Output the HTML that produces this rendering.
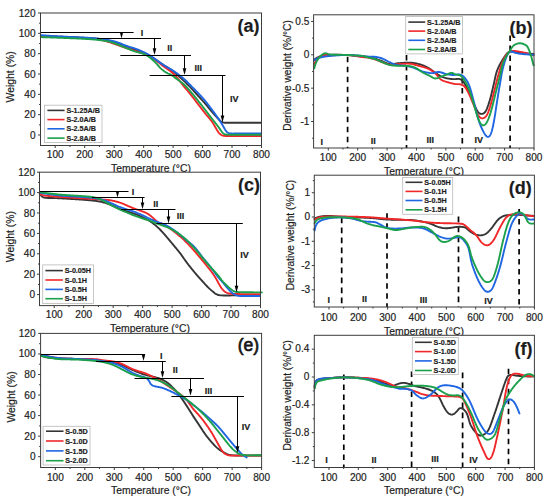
<!DOCTYPE html>
<html><head><meta charset="utf-8"><style>
html,body{margin:0;padding:0;background:#fff;}
svg{display:block;font-family:"Liberation Sans",sans-serif;}
text{fill:#1c1c1c;stroke:#1c1c1c;stroke-width:0.18px;}
</style></head><body>
<svg width="550" height="503" viewBox="0 0 550 503">
<rect width="550" height="503" fill="#fff"/>
<text x="14.00" y="76.80" font-size="10.40" text-anchor="middle" font-weight="normal" transform="rotate(-90 14.00 76.80)">Weight (%)</text>
<text x="14.00" y="236.60" font-size="10.40" text-anchor="middle" font-weight="normal" transform="rotate(-90 14.00 236.60)">Weight (%)</text>
<text x="15.00" y="397.00" font-size="10.40" text-anchor="middle" font-weight="normal" transform="rotate(-90 15.00 397.00)">Weight (%)</text>
<text x="290.80" y="75.40" font-size="10.20" text-anchor="middle" font-weight="normal" transform="rotate(-90 290.80 75.40)">Derivative weight (%/&#176;C)</text>
<text x="293.60" y="235.10" font-size="10.20" text-anchor="middle" font-weight="normal" transform="rotate(-90 293.60 235.10)">Derivative weight (%/&#176;C)</text>
<text x="290.80" y="395.30" font-size="10.20" text-anchor="middle" font-weight="normal" transform="rotate(-90 290.80 395.30)">Derivative weight (%/&#176;C)</text>
<text x="151.00" y="171.90" font-size="10.40" text-anchor="middle" font-weight="normal" >Temperature (&#176;C)</text>
<text x="150.00" y="331.60" font-size="10.40" text-anchor="middle" font-weight="normal" >Temperature (&#176;C)</text>
<text x="151.00" y="494.40" font-size="10.40" text-anchor="middle" font-weight="normal" >Temperature (&#176;C)</text>
<text x="424.00" y="174.50" font-size="10.40" text-anchor="middle" font-weight="normal" >Temperature (&#176;C)</text>
<text x="424.00" y="334.50" font-size="10.40" text-anchor="middle" font-weight="normal" >Temperature (&#176;C)</text>
<text x="424.00" y="494.40" font-size="10.40" text-anchor="middle" font-weight="normal" >Temperature (&#176;C)</text>
<rect x="40.50" y="13.00" width="221.00" height="132.50" fill="#fff"/>
<rect x="313.60" y="14.80" width="220.40" height="133.20" fill="#fff"/>
<rect x="39.50" y="172.20" width="221.00" height="133.40" fill="#fff"/>
<rect x="314.30" y="175.20" width="220.10" height="131.80" fill="#fff"/>
<rect x="40.60" y="333.40" width="221.00" height="134.10" fill="#fff"/>
<rect x="314.30" y="335.30" width="220.10" height="132.20" fill="#fff"/>
<path d="M40.80,35.80 L41.55,35.84 L42.30,35.88 L43.05,35.91 L43.80,35.95 L44.55,35.99 L45.29,36.03 L46.04,36.07 L46.79,36.10 L47.54,36.14 L48.29,36.18 L49.04,36.22 L49.79,36.25 L50.54,36.29 L51.29,36.33 L52.04,36.36 L52.79,36.40 L53.53,36.43 L54.28,36.47 L55.03,36.50 L55.78,36.53 L56.53,36.56 L57.28,36.59 L58.03,36.62 L58.78,36.65 L59.53,36.68 L60.28,36.71 L61.03,36.73 L61.78,36.76 L62.53,36.79 L63.28,36.82 L64.03,36.84 L64.78,36.87 L65.53,36.90 L66.27,36.93 L67.02,36.96 L67.77,36.99 L68.52,37.03 L69.27,37.06 L70.02,37.09 L70.77,37.13 L71.52,37.17 L72.27,37.20 L73.02,37.24 L73.77,37.28 L74.52,37.32 L75.26,37.36 L76.01,37.39 L76.76,37.43 L77.51,37.47 L78.26,37.51 L79.01,37.55 L79.76,37.59 L80.51,37.62 L81.26,37.66 L82.01,37.70 L82.75,37.73 L83.50,37.77 L84.25,37.81 L85.00,37.84 L85.75,37.88 L86.50,37.92 L87.25,37.95 L88.00,37.99 L88.75,38.03 L89.50,38.08 L90.24,38.12 L90.99,38.17 L91.74,38.22 L92.49,38.28 L93.24,38.34 L93.98,38.41 L94.73,38.48 L95.48,38.56 L96.22,38.64 L96.97,38.72 L97.71,38.81 L98.46,38.90 L99.20,38.99 L99.94,39.08 L100.69,39.18 L101.43,39.29 L102.17,39.39 L102.91,39.51 L103.65,39.62 L104.40,39.74 L105.13,39.87 L105.87,40.00 L106.61,40.13 L107.35,40.27 L108.08,40.42 L108.82,40.57 L109.55,40.73 L110.28,40.89 L111.01,41.06 L111.74,41.23 L112.47,41.41 L113.20,41.59 L113.92,41.78 L114.65,41.98 L115.37,42.19 L116.08,42.41 L116.80,42.63 L117.51,42.87 L118.22,43.12 L118.92,43.37 L119.62,43.64 L120.32,43.91 L121.02,44.18 L121.72,44.46 L122.42,44.73 L123.11,45.01 L123.81,45.28 L124.51,45.56 L125.21,45.83 L125.91,46.10 L126.61,46.37 L127.31,46.64 L128.01,46.91 L128.71,47.18 L129.41,47.45 L130.11,47.71 L130.81,47.97 L131.52,48.23 L132.22,48.49 L132.93,48.74 L133.63,48.99 L134.34,49.24 L135.05,49.48 L135.76,49.73 L136.47,49.97 L137.18,50.21 L137.89,50.45 L138.60,50.69 L139.31,50.93 L140.02,51.17 L140.73,51.43 L141.43,51.69 L142.12,51.97 L142.81,52.26 L143.50,52.57 L144.18,52.88 L144.86,53.20 L145.53,53.53 L146.20,53.86 L146.87,54.20 L147.53,54.55 L148.19,54.90 L148.85,55.27 L149.50,55.64 L150.15,56.02 L150.79,56.41 L151.42,56.81 L152.05,57.21 L152.68,57.62 L153.31,58.04 L153.93,58.45 L154.55,58.87 L155.17,59.29 L155.79,59.72 L156.41,60.14 L157.03,60.56 L157.65,60.98 L158.27,61.41 L158.89,61.83 L159.50,62.26 L160.12,62.69 L160.74,63.11 L161.35,63.54 L161.97,63.96 L162.60,64.38 L163.22,64.80 L163.85,65.21 L164.48,65.61 L165.11,66.01 L165.75,66.41 L166.39,66.80 L167.03,67.18 L167.68,67.57 L168.32,67.96 L168.96,68.35 L169.59,68.75 L170.22,69.15 L170.84,69.57 L171.46,70.00 L172.06,70.44 L172.66,70.90 L173.25,71.36 L173.83,71.84 L174.40,72.32 L174.97,72.81 L175.53,73.30 L176.09,73.80 L176.66,74.29 L177.22,74.79 L177.78,75.29 L178.34,75.79 L178.89,76.29 L179.45,76.79 L180.01,77.30 L180.56,77.80 L181.11,78.31 L181.67,78.82 L182.22,79.33 L182.76,79.84 L183.31,80.35 L183.86,80.87 L184.40,81.38 L184.94,81.90 L185.49,82.42 L186.03,82.94 L186.57,83.46 L187.10,83.98 L187.64,84.51 L188.17,85.04 L188.70,85.57 L189.23,86.10 L189.76,86.63 L190.28,87.17 L190.80,87.71 L191.31,88.26 L191.82,88.81 L192.33,89.36 L192.83,89.91 L193.34,90.47 L193.84,91.03 L194.33,91.59 L194.83,92.15 L195.33,92.72 L195.82,93.28 L196.32,93.84 L196.82,94.40 L197.32,94.96 L197.83,95.51 L198.33,96.07 L198.84,96.62 L199.35,97.17 L199.86,97.72 L200.37,98.27 L200.88,98.81 L201.39,99.36 L201.90,99.91 L202.41,100.46 L202.92,101.02 L203.42,101.57 L203.92,102.13 L204.42,102.69 L204.91,103.26 L205.40,103.83 L205.89,104.40 L206.37,104.97 L206.84,105.55 L207.32,106.13 L207.79,106.71 L208.27,107.30 L208.74,107.88 L209.21,108.46 L209.68,109.04 L210.16,109.62 L210.63,110.20 L211.11,110.78 L211.60,111.36 L212.08,111.93 L212.57,112.50 L213.06,113.06 L213.55,113.63 L214.05,114.19 L214.55,114.75 L215.05,115.31 L215.55,115.87 L216.05,116.42 L216.56,116.98 L217.06,117.53 L217.56,118.09 L218.07,118.64 L218.58,119.19 L219.10,119.73 L219.63,120.26 L220.18,120.76 L220.75,121.23 L221.34,121.65 L221.97,122.01 L222.63,122.29 L223.32,122.50 L224.03,122.64 L224.76,122.73 L225.50,122.77 L226.24,122.79 L226.99,122.80 L227.74,122.81 L228.49,122.81 L229.24,122.81 L229.99,122.81 L230.74,122.81 L231.49,122.81 L232.24,122.81 L232.99,122.81 L233.74,122.81 L234.49,122.81 L235.24,122.81 L235.99,122.80 L236.74,122.80 L237.49,122.80 L238.24,122.80 L238.99,122.80 L239.74,122.80 L240.49,122.80 L241.24,122.80 L241.99,122.80 L242.74,122.80 L243.49,122.80 L244.24,122.80 L244.99,122.80 L245.74,122.80 L246.49,122.80 L247.24,122.80 L247.99,122.80 L248.74,122.80 L249.49,122.80 L250.24,122.80 L250.99,122.80 L251.74,122.80 L252.49,122.80 L253.24,122.80 L253.99,122.80 L254.74,122.80 L255.49,122.80 L256.24,122.80 L256.99,122.80 L257.74,122.80 L258.49,122.80 L259.24,122.80 L259.99,122.80 L260.74,122.80 L260.99,122.80" fill="none" stroke="#353535" stroke-width="1.90" stroke-linejoin="round" stroke-linecap="round"/>
<path d="M40.80,36.10 L41.55,36.14 L42.30,36.18 L43.05,36.21 L43.80,36.25 L44.55,36.29 L45.29,36.33 L46.04,36.37 L46.79,36.40 L47.54,36.44 L48.29,36.48 L49.04,36.52 L49.79,36.55 L50.54,36.59 L51.29,36.63 L52.04,36.66 L52.79,36.70 L53.53,36.73 L54.28,36.77 L55.03,36.80 L55.78,36.83 L56.53,36.86 L57.28,36.89 L58.03,36.92 L58.78,36.95 L59.53,36.98 L60.28,37.01 L61.03,37.03 L61.78,37.06 L62.53,37.09 L63.28,37.12 L64.03,37.14 L64.78,37.17 L65.53,37.20 L66.27,37.23 L67.02,37.26 L67.77,37.29 L68.52,37.33 L69.27,37.36 L70.02,37.39 L70.77,37.43 L71.52,37.47 L72.27,37.50 L73.02,37.54 L73.77,37.58 L74.52,37.62 L75.26,37.66 L76.01,37.69 L76.76,37.73 L77.51,37.77 L78.26,37.81 L79.01,37.85 L79.76,37.89 L80.51,37.92 L81.26,37.96 L82.01,38.00 L82.75,38.03 L83.50,38.07 L84.25,38.11 L85.00,38.14 L85.75,38.18 L86.50,38.22 L87.25,38.25 L88.00,38.29 L88.75,38.33 L89.50,38.37 L90.24,38.42 L90.99,38.46 L91.74,38.51 L92.49,38.57 L93.24,38.63 L93.98,38.71 L94.72,38.80 L95.47,38.90 L96.21,39.01 L96.95,39.13 L97.69,39.26 L98.42,39.40 L99.16,39.54 L99.90,39.69 L100.63,39.84 L101.36,40.01 L102.09,40.17 L102.82,40.34 L103.55,40.52 L104.28,40.71 L105.00,40.90 L105.73,41.09 L106.45,41.30 L107.17,41.50 L107.89,41.72 L108.60,41.94 L109.32,42.16 L110.03,42.39 L110.75,42.63 L111.45,42.87 L112.16,43.12 L112.87,43.37 L113.57,43.63 L114.28,43.88 L114.98,44.14 L115.69,44.40 L116.39,44.65 L117.10,44.91 L117.80,45.16 L118.51,45.42 L119.21,45.68 L119.92,45.93 L120.62,46.19 L121.33,46.44 L122.04,46.69 L122.75,46.93 L123.46,47.17 L124.17,47.41 L124.88,47.65 L125.59,47.88 L126.31,48.11 L127.02,48.33 L127.74,48.56 L128.45,48.78 L129.17,49.00 L129.89,49.23 L130.60,49.45 L131.32,49.67 L132.04,49.89 L132.75,50.11 L133.47,50.33 L134.19,50.55 L134.91,50.77 L135.62,50.98 L136.34,51.19 L137.06,51.41 L137.78,51.62 L138.50,51.83 L139.22,52.04 L139.94,52.26 L140.65,52.48 L141.37,52.71 L142.08,52.94 L142.79,53.18 L143.50,53.43 L144.21,53.68 L144.91,53.93 L145.61,54.20 L146.31,54.47 L147.00,54.76 L147.69,55.06 L148.36,55.38 L149.03,55.72 L149.69,56.08 L150.34,56.45 L150.98,56.84 L151.61,57.25 L152.23,57.66 L152.85,58.09 L153.46,58.52 L154.06,58.96 L154.67,59.41 L155.27,59.86 L155.87,60.31 L156.47,60.76 L157.06,61.21 L157.66,61.67 L158.25,62.14 L158.83,62.60 L159.42,63.07 L160.00,63.54 L160.59,64.01 L161.17,64.48 L161.76,64.95 L162.34,65.42 L162.93,65.88 L163.53,66.33 L164.13,66.78 L164.74,67.22 L165.35,67.66 L165.96,68.09 L166.58,68.51 L167.20,68.93 L167.83,69.35 L168.45,69.77 L169.06,70.20 L169.67,70.63 L170.27,71.08 L170.87,71.54 L171.45,72.01 L172.02,72.49 L172.58,72.99 L173.13,73.50 L173.67,74.02 L174.20,74.55 L174.72,75.09 L175.23,75.63 L175.74,76.19 L176.23,76.75 L176.73,77.31 L177.21,77.88 L177.69,78.46 L178.17,79.04 L178.64,79.63 L179.10,80.21 L179.56,80.80 L180.02,81.40 L180.48,81.99 L180.94,82.59 L181.39,83.18 L181.85,83.77 L182.31,84.37 L182.77,84.96 L183.24,85.55 L183.70,86.13 L184.18,86.72 L184.65,87.30 L185.13,87.88 L185.61,88.46 L186.09,89.03 L186.57,89.60 L187.05,90.18 L187.54,90.75 L188.02,91.32 L188.50,91.90 L188.98,92.47 L189.46,93.05 L189.94,93.63 L190.41,94.21 L190.88,94.80 L191.35,95.38 L191.81,95.97 L192.28,96.56 L192.74,97.15 L193.19,97.75 L193.65,98.34 L194.11,98.94 L194.56,99.54 L195.01,100.13 L195.47,100.73 L195.92,101.33 L196.37,101.93 L196.83,102.52 L197.28,103.12 L197.74,103.72 L198.19,104.31 L198.65,104.91 L199.10,105.51 L199.56,106.10 L200.01,106.70 L200.46,107.30 L200.92,107.89 L201.37,108.49 L201.83,109.08 L202.29,109.68 L202.75,110.27 L203.21,110.86 L203.67,111.45 L204.13,112.04 L204.60,112.63 L205.07,113.21 L205.55,113.79 L206.03,114.37 L206.51,114.94 L206.99,115.52 L207.48,116.09 L207.97,116.66 L208.46,117.23 L208.94,117.80 L209.42,118.37 L209.90,118.95 L210.37,119.53 L210.84,120.12 L211.29,120.72 L211.73,121.32 L212.16,121.94 L212.58,122.56 L212.98,123.19 L213.38,123.83 L213.76,124.47 L214.14,125.12 L214.52,125.77 L214.89,126.42 L215.26,127.07 L215.63,127.72 L216.01,128.37 L216.38,129.02 L216.76,129.66 L217.15,130.31 L217.55,130.94 L217.96,131.56 L218.39,132.17 L218.85,132.76 L219.33,133.32 L219.85,133.84 L220.40,134.32 L220.98,134.75 L221.60,135.11 L222.25,135.40 L222.93,135.62 L223.63,135.77 L224.35,135.87 L225.09,135.93 L225.83,135.97 L226.58,135.99 L227.33,136.00 L228.08,136.01 L228.83,136.02 L229.58,136.03 L230.33,136.03 L231.08,136.04 L231.83,136.04 L232.58,136.04 L233.33,136.05 L234.08,136.05 L234.83,136.05 L235.58,136.05 L236.33,136.05 L237.08,136.05 L237.83,136.05 L238.58,136.05 L239.33,136.05 L240.08,136.05 L240.83,136.05 L241.58,136.05 L242.33,136.05 L243.08,136.05 L243.83,136.04 L244.58,136.04 L245.33,136.04 L246.08,136.04 L246.83,136.04 L247.58,136.04 L248.33,136.03 L249.08,136.03 L249.83,136.03 L250.58,136.03 L251.33,136.03 L252.08,136.02 L252.83,136.02 L253.58,136.02 L254.33,136.02 L255.08,136.01 L255.83,136.01 L256.58,136.01 L257.33,136.01 L258.08,136.01 L258.83,136.00 L259.58,136.00 L260.33,136.00 L260.82,136.00" fill="none" stroke="#f0282a" stroke-width="1.90" stroke-linejoin="round" stroke-linecap="round"/>
<path d="M40.80,35.10 L41.55,35.16 L42.30,35.22 L43.04,35.28 L43.79,35.34 L44.54,35.40 L45.29,35.47 L46.03,35.53 L46.78,35.59 L47.53,35.65 L48.28,35.71 L49.02,35.76 L49.77,35.82 L50.52,35.88 L51.27,35.94 L52.01,35.99 L52.76,36.04 L53.51,36.10 L54.26,36.15 L55.01,36.19 L55.76,36.24 L56.51,36.28 L57.25,36.32 L58.00,36.36 L58.75,36.40 L59.50,36.43 L60.25,36.47 L61.00,36.50 L61.75,36.53 L62.50,36.57 L63.25,36.60 L64.00,36.63 L64.75,36.66 L65.50,36.69 L66.24,36.72 L66.99,36.76 L67.74,36.79 L68.49,36.83 L69.24,36.86 L69.99,36.90 L70.74,36.93 L71.49,36.97 L72.24,37.01 L72.99,37.05 L73.74,37.08 L74.49,37.12 L75.23,37.16 L75.98,37.20 L76.73,37.24 L77.48,37.27 L78.23,37.31 L78.98,37.35 L79.73,37.39 L80.48,37.42 L81.23,37.46 L81.98,37.50 L82.72,37.53 L83.47,37.57 L84.22,37.60 L84.97,37.64 L85.72,37.68 L86.47,37.71 L87.22,37.75 L87.97,37.79 L88.72,37.83 L89.47,37.88 L90.21,37.92 L90.96,37.97 L91.71,38.02 L92.46,38.08 L93.21,38.14 L93.95,38.21 L94.70,38.28 L95.45,38.35 L96.19,38.42 L96.94,38.49 L97.69,38.57 L98.43,38.65 L99.18,38.73 L99.92,38.82 L100.67,38.90 L101.41,39.00 L102.15,39.09 L102.90,39.20 L103.64,39.30 L104.38,39.41 L105.12,39.53 L105.86,39.65 L106.60,39.77 L107.34,39.90 L108.08,40.04 L108.81,40.18 L109.55,40.32 L110.29,40.48 L111.02,40.63 L111.75,40.79 L112.48,40.96 L113.21,41.13 L113.94,41.32 L114.66,41.51 L115.38,41.71 L116.10,41.93 L116.82,42.15 L117.53,42.39 L118.23,42.65 L118.93,42.91 L119.63,43.18 L120.33,43.46 L121.02,43.75 L121.71,44.03 L122.41,44.31 L123.11,44.59 L123.80,44.86 L124.51,45.13 L125.21,45.39 L125.91,45.64 L126.62,45.89 L127.33,46.14 L128.04,46.38 L128.75,46.62 L129.46,46.86 L130.18,47.08 L130.89,47.30 L131.61,47.51 L132.33,47.71 L133.06,47.90 L133.78,48.10 L134.49,48.32 L135.21,48.55 L135.91,48.79 L136.61,49.06 L137.31,49.33 L138.00,49.62 L138.70,49.91 L139.38,50.20 L140.07,50.50 L140.76,50.81 L141.44,51.12 L142.12,51.43 L142.80,51.74 L143.48,52.06 L144.16,52.39 L144.83,52.72 L145.50,53.05 L146.17,53.39 L146.84,53.73 L147.50,54.09 L148.15,54.45 L148.80,54.83 L149.44,55.21 L150.08,55.61 L150.71,56.01 L151.34,56.42 L151.96,56.85 L152.57,57.27 L153.19,57.71 L153.80,58.14 L154.41,58.58 L155.01,59.02 L155.62,59.45 L156.23,59.89 L156.84,60.33 L157.45,60.76 L158.07,61.20 L158.68,61.63 L159.29,62.07 L159.90,62.50 L160.51,62.93 L161.12,63.37 L161.74,63.79 L162.36,64.22 L162.98,64.64 L163.61,65.05 L164.24,65.46 L164.87,65.86 L165.51,66.25 L166.15,66.64 L166.79,67.03 L167.44,67.41 L168.09,67.78 L168.74,68.16 L169.38,68.53 L170.03,68.91 L170.68,69.28 L171.33,69.66 L171.98,70.03 L172.63,70.41 L173.27,70.80 L173.90,71.20 L174.53,71.62 L175.14,72.04 L175.76,72.47 L176.36,72.91 L176.97,73.36 L177.57,73.80 L178.17,74.26 L178.77,74.71 L179.36,75.16 L179.96,75.62 L180.55,76.08 L181.14,76.55 L181.72,77.02 L182.30,77.49 L182.88,77.97 L183.45,78.45 L184.02,78.94 L184.58,79.44 L185.13,79.95 L185.68,80.46 L186.22,80.98 L186.76,81.50 L187.29,82.03 L187.82,82.56 L188.35,83.09 L188.87,83.63 L189.40,84.16 L189.92,84.70 L190.45,85.23 L190.98,85.77 L191.50,86.30 L192.03,86.83 L192.56,87.36 L193.09,87.89 L193.62,88.42 L194.15,88.96 L194.68,89.49 L195.20,90.02 L195.73,90.56 L196.25,91.10 L196.77,91.64 L197.29,92.18 L197.81,92.72 L198.33,93.26 L198.84,93.81 L199.36,94.35 L199.87,94.90 L200.38,95.45 L200.89,96.00 L201.40,96.55 L201.91,97.10 L202.41,97.66 L202.91,98.22 L203.40,98.79 L203.89,99.35 L204.38,99.92 L204.86,100.50 L205.33,101.08 L205.81,101.66 L206.28,102.25 L206.74,102.84 L207.20,103.43 L207.66,104.02 L208.11,104.62 L208.57,105.21 L209.02,105.81 L209.47,106.41 L209.92,107.01 L210.37,107.61 L210.82,108.21 L211.26,108.82 L211.71,109.42 L212.16,110.02 L212.61,110.62 L213.05,111.23 L213.50,111.83 L213.94,112.43 L214.38,113.04 L214.82,113.65 L215.26,114.25 L215.70,114.86 L216.14,115.47 L216.57,116.08 L217.01,116.69 L217.44,117.31 L217.87,117.92 L218.30,118.54 L218.73,119.15 L219.15,119.77 L219.57,120.39 L219.99,121.01 L220.40,121.64 L220.81,122.27 L221.21,122.90 L221.60,123.54 L221.98,124.19 L222.36,124.84 L222.73,125.49 L223.10,126.14 L223.47,126.79 L223.84,127.44 L224.21,128.09 L224.59,128.74 L224.96,129.39 L225.35,130.02 L225.76,130.64 L226.20,131.22 L226.69,131.75 L227.23,132.22 L227.82,132.62 L228.46,132.94 L229.14,133.18 L229.85,133.35 L230.58,133.47 L231.32,133.54 L232.06,133.57 L232.81,133.58 L233.56,133.57 L234.31,133.55 L235.05,133.53 L235.80,133.50 L236.55,133.48 L237.30,133.45 L238.05,133.44 L238.80,133.42 L239.55,133.41 L240.30,133.41 L241.05,133.41 L241.80,133.41 L242.55,133.41 L243.30,133.41 L244.05,133.41 L244.80,133.41 L245.55,133.41 L246.30,133.41 L247.05,133.41 L247.80,133.41 L248.55,133.41 L249.30,133.41 L250.05,133.41 L250.80,133.41 L251.55,133.41 L252.30,133.41 L253.05,133.41 L253.80,133.41 L254.55,133.41 L255.30,133.41 L256.05,133.41 L256.80,133.41 L257.55,133.40 L258.30,133.40 L259.05,133.40 L259.80,133.40 L260.55,133.40 L260.80,133.40" fill="none" stroke="#1f66e2" stroke-width="1.90" stroke-linejoin="round" stroke-linecap="round"/>
<path d="M40.80,37.10 L41.55,37.13 L42.30,37.15 L43.05,37.18 L43.80,37.20 L44.55,37.23 L45.30,37.26 L46.05,37.28 L46.80,37.31 L47.55,37.33 L48.30,37.36 L49.04,37.39 L49.79,37.41 L50.54,37.44 L51.29,37.47 L52.04,37.49 L52.79,37.52 L53.54,37.55 L54.29,37.57 L55.04,37.60 L55.79,37.63 L56.54,37.66 L57.29,37.69 L58.04,37.71 L58.79,37.74 L59.54,37.77 L60.29,37.80 L61.04,37.83 L61.79,37.86 L62.54,37.89 L63.29,37.91 L64.03,37.94 L64.78,37.97 L65.53,38.00 L66.28,38.03 L67.03,38.06 L67.78,38.09 L68.53,38.12 L69.28,38.15 L70.03,38.18 L70.78,38.21 L71.53,38.24 L72.28,38.27 L73.03,38.30 L73.78,38.33 L74.53,38.36 L75.28,38.39 L76.03,38.42 L76.77,38.45 L77.52,38.49 L78.27,38.52 L79.02,38.56 L79.77,38.59 L80.52,38.63 L81.27,38.67 L82.02,38.71 L82.77,38.75 L83.52,38.79 L84.26,38.84 L85.01,38.88 L85.76,38.93 L86.51,38.98 L87.26,39.02 L88.01,39.07 L88.76,39.12 L89.50,39.17 L90.25,39.22 L91.00,39.27 L91.75,39.33 L92.50,39.39 L93.24,39.45 L93.99,39.51 L94.74,39.58 L95.48,39.65 L96.23,39.72 L96.98,39.79 L97.72,39.87 L98.47,39.95 L99.21,40.03 L99.96,40.12 L100.70,40.21 L101.45,40.30 L102.19,40.40 L102.93,40.51 L103.67,40.62 L104.42,40.74 L105.16,40.86 L105.89,40.99 L106.63,41.13 L107.37,41.27 L108.10,41.42 L108.83,41.58 L109.56,41.75 L110.29,41.93 L111.02,42.12 L111.74,42.32 L112.46,42.54 L113.17,42.76 L113.88,43.00 L114.59,43.24 L115.29,43.50 L115.99,43.77 L116.69,44.05 L117.38,44.34 L118.07,44.63 L118.76,44.93 L119.45,45.23 L120.13,45.53 L120.83,45.82 L121.52,46.11 L122.21,46.39 L122.91,46.68 L123.60,46.96 L124.30,47.24 L124.99,47.52 L125.69,47.80 L126.38,48.08 L127.08,48.36 L127.77,48.64 L128.47,48.92 L129.16,49.21 L129.86,49.49 L130.55,49.78 L131.25,50.06 L131.94,50.34 L132.64,50.61 L133.34,50.87 L134.05,51.13 L134.76,51.37 L135.47,51.59 L136.19,51.80 L136.91,52.00 L137.64,52.18 L138.37,52.36 L139.09,52.54 L139.82,52.73 L140.54,52.92 L141.26,53.13 L141.97,53.36 L142.68,53.61 L143.37,53.89 L144.06,54.18 L144.74,54.49 L145.42,54.82 L146.08,55.17 L146.73,55.53 L147.38,55.91 L148.01,56.31 L148.64,56.72 L149.25,57.15 L149.86,57.59 L150.45,58.04 L151.04,58.51 L151.62,58.98 L152.20,59.46 L152.76,59.95 L153.32,60.45 L153.88,60.96 L154.42,61.47 L154.95,62.00 L155.48,62.53 L156.00,63.08 L156.50,63.63 L157.00,64.19 L157.49,64.75 L157.98,65.33 L158.46,65.90 L158.94,66.47 L159.43,67.04 L159.94,67.59 L160.45,68.13 L160.99,68.65 L161.54,69.16 L162.11,69.64 L162.69,70.11 L163.29,70.57 L163.89,71.01 L164.51,71.43 L165.13,71.85 L165.77,72.24 L166.41,72.62 L167.07,72.97 L167.74,73.30 L168.42,73.61 L169.11,73.90 L169.79,74.20 L170.46,74.51 L171.12,74.85 L171.76,75.23 L172.38,75.64 L172.98,76.08 L173.57,76.53 L174.16,77.00 L174.75,77.46 L175.34,77.92 L175.94,78.37 L176.54,78.81 L177.15,79.26 L177.75,79.70 L178.36,80.14 L178.97,80.57 L179.58,81.02 L180.18,81.46 L180.78,81.91 L181.38,82.37 L181.96,82.83 L182.55,83.30 L183.12,83.78 L183.69,84.27 L184.24,84.77 L184.79,85.29 L185.33,85.81 L185.86,86.34 L186.38,86.88 L186.89,87.43 L187.40,87.98 L187.90,88.54 L188.39,89.10 L188.89,89.67 L189.38,90.23 L189.87,90.80 L190.36,91.37 L190.84,91.94 L191.33,92.51 L191.82,93.08 L192.30,93.65 L192.78,94.23 L193.26,94.80 L193.74,95.38 L194.22,95.96 L194.69,96.54 L195.17,97.12 L195.64,97.71 L196.11,98.29 L196.58,98.88 L197.05,99.46 L197.51,100.05 L197.98,100.63 L198.45,101.22 L198.91,101.81 L199.38,102.40 L199.84,102.99 L200.30,103.58 L200.76,104.17 L201.22,104.76 L201.68,105.36 L202.14,105.95 L202.60,106.54 L203.06,107.14 L203.51,107.73 L203.97,108.33 L204.43,108.92 L204.89,109.51 L205.34,110.11 L205.80,110.70 L206.26,111.30 L206.71,111.90 L207.17,112.49 L207.62,113.09 L208.08,113.68 L208.53,114.28 L208.99,114.88 L209.44,115.47 L209.90,116.07 L210.36,116.66 L210.82,117.25 L211.28,117.85 L211.74,118.44 L212.20,119.03 L212.67,119.61 L213.14,120.20 L213.61,120.79 L214.08,121.37 L214.55,121.95 L215.02,122.54 L215.49,123.12 L215.95,123.71 L216.42,124.30 L216.88,124.89 L217.33,125.49 L217.77,126.09 L218.21,126.70 L218.65,127.31 L219.08,127.92 L219.51,128.54 L219.94,129.15 L220.37,129.76 L220.81,130.37 L221.25,130.96 L221.68,131.55 L222.11,132.11 L222.53,132.65 L222.96,133.14 L223.40,133.56 L223.90,133.91 L224.46,134.17 L225.09,134.35 L225.77,134.46 L226.49,134.54 L227.23,134.59 L227.97,134.62 L228.72,134.65 L229.47,134.67 L230.22,134.68 L230.97,134.70 L231.72,134.71 L232.47,134.72 L233.22,134.72 L233.97,134.73 L234.72,134.73 L235.47,134.74 L236.22,134.74 L236.97,134.75 L237.72,134.75 L238.47,134.75 L239.22,134.75 L239.97,134.75 L240.72,134.75 L241.47,134.75 L242.22,134.75 L242.97,134.75 L243.72,134.75 L244.47,134.75 L245.22,134.75 L245.97,134.75 L246.72,134.74 L247.47,134.74 L248.22,134.74 L248.97,134.74 L249.72,134.73 L250.47,134.73 L251.22,134.73 L251.97,134.73 L252.72,134.72 L253.47,134.72 L254.22,134.72 L254.97,134.71 L255.72,134.71 L256.47,134.71 L257.22,134.71 L257.97,134.70 L258.72,134.70 L259.47,134.70 L260.22,134.70 L260.97,134.70 L260.97,134.70" fill="none" stroke="#1ba04c" stroke-width="1.90" stroke-linejoin="round" stroke-linecap="round"/>
<line x1="40.50" y1="32.50" x2="133.60" y2="32.50" stroke="#000" stroke-width="1.00" />
<line x1="121.50" y1="32.50" x2="121.50" y2="33.00" stroke="#000" stroke-width="1.00" />
<path d="M119.90,32.50 L123.10,32.50 L121.50,38.50 Z" fill="#000"/>
<line x1="97.00" y1="38.50" x2="161.00" y2="38.50" stroke="#000" stroke-width="1.00" />
<line x1="154.50" y1="38.50" x2="154.50" y2="48.70" stroke="#000" stroke-width="1.00" />
<path d="M152.70,48.20 L156.30,48.20 L154.50,55.00 Z" fill="#000"/>
<line x1="120.30" y1="55.50" x2="191.00" y2="55.50" stroke="#000" stroke-width="1.00" />
<line x1="184.50" y1="55.50" x2="184.50" y2="68.70" stroke="#000" stroke-width="1.00" />
<path d="M182.70,68.20 L186.30,68.20 L184.50,75.00 Z" fill="#000"/>
<line x1="149.60" y1="75.50" x2="225.50" y2="75.50" stroke="#000" stroke-width="1.00" />
<line x1="222.50" y1="75.50" x2="222.50" y2="116.10" stroke="#000" stroke-width="1.00" />
<path d="M220.70,115.60 L224.30,115.60 L222.50,122.40 Z" fill="#000"/>
<text x="142.00" y="35.50" font-size="9.00" text-anchor="middle" font-weight="bold" >I</text>
<text x="169.80" y="51.40" font-size="9.00" text-anchor="middle" font-weight="bold" >II</text>
<text x="198.30" y="70.70" font-size="9.00" text-anchor="middle" font-weight="bold" >III</text>
<text x="234.30" y="101.70" font-size="9.00" text-anchor="middle" font-weight="bold" >IV</text>
<rect x="44.50" y="105.20" width="57.50" height="37.40" fill="#fff" stroke="#b8b8b8" stroke-width="0.8"/>
<line x1="47.40" y1="110.40" x2="64.60" y2="110.40" stroke="#353535" stroke-width="1.60" />
<text x="66.40" y="113.00" font-size="7.20" text-anchor="start" font-weight="bold" >S-1.25A/B</text>
<line x1="47.40" y1="119.60" x2="64.60" y2="119.60" stroke="#f0282a" stroke-width="1.60" />
<text x="66.40" y="122.20" font-size="7.20" text-anchor="start" font-weight="bold" >S-2.0A/B</text>
<line x1="47.40" y1="128.80" x2="64.60" y2="128.80" stroke="#1f66e2" stroke-width="1.60" />
<text x="66.40" y="131.40" font-size="7.20" text-anchor="start" font-weight="bold" >S-2.5A/B</text>
<line x1="47.40" y1="138.10" x2="64.60" y2="138.10" stroke="#1ba04c" stroke-width="1.60" />
<text x="66.40" y="140.70" font-size="7.20" text-anchor="start" font-weight="bold" >S-2.8A/B</text>
<path d="M39.80,193.00 L40.10,193.68 L40.41,194.35 L40.76,195.00 L41.15,195.60 L41.61,196.15 L42.12,196.62 L42.70,197.00 L43.34,197.30 L44.02,197.52 L44.73,197.67 L45.46,197.77 L46.20,197.84 L46.95,197.89 L47.69,197.93 L48.44,197.96 L49.19,197.98 L49.94,198.00 L50.69,198.01 L51.44,198.03 L52.19,198.04 L52.94,198.06 L53.69,198.07 L54.44,198.09 L55.19,198.11 L55.94,198.14 L56.69,198.16 L57.44,198.19 L58.19,198.22 L58.94,198.25 L59.69,198.29 L60.44,198.33 L61.19,198.37 L61.93,198.41 L62.68,198.45 L63.43,198.49 L64.18,198.53 L64.93,198.58 L65.68,198.62 L66.43,198.66 L67.18,198.71 L67.92,198.75 L68.67,198.80 L69.42,198.84 L70.17,198.89 L70.92,198.93 L71.67,198.98 L72.42,199.03 L73.16,199.07 L73.91,199.12 L74.66,199.17 L75.41,199.22 L76.16,199.26 L76.91,199.31 L77.66,199.36 L78.40,199.41 L79.15,199.46 L79.90,199.51 L80.65,199.56 L81.40,199.61 L82.15,199.67 L82.89,199.72 L83.64,199.77 L84.39,199.83 L85.14,199.88 L85.89,199.94 L86.63,200.00 L87.38,200.05 L88.13,200.12 L88.88,200.18 L89.62,200.24 L90.37,200.31 L91.12,200.38 L91.86,200.45 L92.61,200.53 L93.35,200.61 L94.10,200.70 L94.84,200.79 L95.59,200.89 L96.33,201.00 L97.07,201.11 L97.81,201.23 L98.55,201.35 L99.29,201.49 L100.02,201.63 L100.76,201.78 L101.49,201.94 L102.22,202.10 L102.95,202.28 L103.67,202.47 L104.40,202.68 L105.12,202.89 L105.83,203.11 L106.55,203.34 L107.26,203.57 L107.97,203.82 L108.67,204.07 L109.37,204.34 L110.07,204.61 L110.76,204.89 L111.45,205.18 L112.14,205.48 L112.83,205.78 L113.51,206.09 L114.20,206.40 L114.88,206.71 L115.56,207.02 L116.24,207.34 L116.92,207.65 L117.61,207.96 L118.29,208.26 L118.98,208.55 L119.68,208.83 L120.38,209.10 L121.08,209.36 L121.79,209.61 L122.50,209.85 L123.21,210.09 L123.92,210.32 L124.64,210.55 L125.35,210.78 L126.06,211.01 L126.78,211.24 L127.49,211.47 L128.21,211.70 L128.92,211.93 L129.63,212.17 L130.34,212.40 L131.06,212.63 L131.77,212.87 L132.48,213.11 L133.19,213.36 L133.89,213.61 L134.60,213.86 L135.30,214.12 L136.00,214.38 L136.70,214.65 L137.40,214.93 L138.10,215.21 L138.79,215.49 L139.48,215.78 L140.17,216.08 L140.86,216.38 L141.54,216.69 L142.22,217.00 L142.90,217.33 L143.57,217.65 L144.24,217.99 L144.91,218.33 L145.58,218.68 L146.24,219.04 L146.89,219.40 L147.55,219.77 L148.19,220.14 L148.84,220.52 L149.48,220.91 L150.11,221.31 L150.74,221.72 L151.36,222.14 L151.97,222.57 L152.58,223.02 L153.18,223.47 L153.77,223.93 L154.35,224.40 L154.93,224.87 L155.51,225.36 L156.08,225.84 L156.64,226.34 L157.20,226.84 L157.75,227.35 L158.30,227.86 L158.84,228.38 L159.37,228.90 L159.90,229.44 L160.42,229.97 L160.94,230.51 L161.46,231.06 L161.96,231.61 L162.47,232.17 L162.97,232.72 L163.47,233.28 L163.97,233.84 L164.46,234.41 L164.96,234.97 L165.45,235.54 L165.94,236.11 L166.42,236.68 L166.91,237.25 L167.40,237.82 L167.88,238.39 L168.36,238.97 L168.84,239.54 L169.33,240.12 L169.81,240.69 L170.29,241.27 L170.77,241.84 L171.25,242.41 L171.74,242.99 L172.22,243.57 L172.70,244.14 L173.18,244.72 L173.66,245.30 L174.13,245.87 L174.61,246.45 L175.09,247.03 L175.57,247.61 L176.05,248.18 L176.53,248.76 L177.00,249.34 L177.48,249.92 L177.95,250.50 L178.43,251.08 L178.90,251.67 L179.36,252.25 L179.82,252.85 L180.28,253.44 L180.73,254.04 L181.17,254.65 L181.61,255.25 L182.04,255.87 L182.47,256.48 L182.90,257.10 L183.33,257.71 L183.75,258.33 L184.18,258.95 L184.61,259.56 L185.04,260.18 L185.48,260.79 L185.92,261.39 L186.36,262.00 L186.81,262.60 L187.26,263.20 L187.71,263.80 L188.17,264.39 L188.63,264.98 L189.09,265.58 L189.55,266.17 L190.02,266.76 L190.48,267.34 L190.95,267.93 L191.42,268.51 L191.89,269.10 L192.36,269.68 L192.84,270.26 L193.31,270.84 L193.79,271.42 L194.27,271.99 L194.75,272.57 L195.24,273.14 L195.72,273.71 L196.21,274.28 L196.70,274.85 L197.19,275.42 L197.68,275.98 L198.18,276.54 L198.68,277.11 L199.18,277.66 L199.68,278.22 L200.19,278.78 L200.69,279.33 L201.19,279.89 L201.70,280.44 L202.20,281.00 L202.70,281.56 L203.21,282.11 L203.71,282.67 L204.21,283.23 L204.71,283.79 L205.21,284.34 L205.72,284.89 L206.23,285.44 L206.75,285.99 L207.27,286.52 L207.80,287.06 L208.33,287.58 L208.88,288.10 L209.42,288.61 L209.98,289.11 L210.54,289.61 L211.10,290.11 L211.67,290.60 L212.23,291.09 L212.80,291.58 L213.38,292.06 L213.96,292.53 L214.55,292.99 L215.15,293.43 L215.77,293.83 L216.42,294.19 L217.09,294.50 L217.77,294.76 L218.48,294.97 L219.20,295.13 L219.94,295.25 L220.68,295.33 L221.42,295.38 L222.17,295.42 L222.92,295.44 L223.67,295.45 L224.42,295.46 L225.17,295.46 L225.92,295.46 L226.67,295.46 L227.42,295.45 L228.17,295.45 L228.92,295.44 L229.67,295.43 L230.42,295.43 L231.17,295.42 L231.92,295.41 L232.67,295.41 L233.42,295.41 L234.17,295.40 L234.92,295.40 L235.67,295.40 L236.42,295.40 L237.17,295.40 L237.92,295.40 L238.67,295.40 L239.42,295.40 L240.17,295.40 L240.92,295.40 L241.67,295.40 L242.42,295.40 L243.17,295.40 L243.92,295.40 L244.67,295.40 L245.42,295.40 L246.17,295.40 L246.92,295.40 L247.67,295.40 L248.42,295.40 L249.17,295.40 L249.92,295.40 L250.67,295.40 L251.42,295.40 L252.17,295.40 L252.92,295.40 L253.67,295.40 L254.42,295.40 L255.17,295.40 L255.92,295.40 L256.67,295.40 L257.42,295.40 L258.17,295.40 L258.92,295.40 L259.67,295.40 L259.92,295.40" fill="none" stroke="#353535" stroke-width="1.90" stroke-linejoin="round" stroke-linecap="round"/>
<path d="M39.80,193.80 L40.45,194.15 L41.12,194.48 L41.79,194.77 L42.49,195.03 L43.20,195.23 L43.92,195.40 L44.65,195.54 L45.39,195.66 L46.14,195.75 L46.88,195.84 L47.63,195.92 L48.37,196.00 L49.12,196.07 L49.87,196.13 L50.61,196.20 L51.36,196.26 L52.11,196.32 L52.86,196.38 L53.60,196.43 L54.35,196.49 L55.10,196.54 L55.85,196.60 L56.60,196.65 L57.34,196.71 L58.09,196.76 L58.84,196.82 L59.59,196.87 L60.34,196.92 L61.08,196.98 L61.83,197.03 L62.58,197.08 L63.33,197.13 L64.08,197.18 L64.82,197.23 L65.57,197.28 L66.32,197.33 L67.07,197.38 L67.82,197.43 L68.57,197.48 L69.32,197.53 L70.06,197.58 L70.81,197.62 L71.56,197.67 L72.31,197.72 L73.06,197.77 L73.81,197.82 L74.55,197.86 L75.30,197.91 L76.05,197.96 L76.80,198.00 L77.55,198.05 L78.30,198.10 L79.05,198.14 L79.79,198.19 L80.54,198.24 L81.29,198.28 L82.04,198.33 L82.79,198.38 L83.54,198.42 L84.29,198.47 L85.03,198.52 L85.78,198.56 L86.53,198.61 L87.28,198.65 L88.03,198.70 L88.78,198.75 L89.53,198.79 L90.27,198.84 L91.02,198.88 L91.77,198.92 L92.52,198.97 L93.27,199.01 L94.02,199.05 L94.77,199.09 L95.52,199.13 L96.26,199.18 L97.01,199.22 L97.76,199.26 L98.51,199.31 L99.26,199.35 L100.01,199.40 L100.76,199.44 L101.51,199.49 L102.25,199.53 L103.00,199.58 L103.75,199.62 L104.50,199.67 L105.25,199.72 L106.00,199.77 L106.74,199.84 L107.49,199.91 L108.23,199.99 L108.98,200.09 L109.72,200.19 L110.46,200.31 L111.20,200.43 L111.94,200.57 L112.67,200.72 L113.40,200.87 L114.14,201.03 L114.87,201.20 L115.60,201.38 L116.32,201.57 L117.05,201.76 L117.77,201.96 L118.49,202.17 L119.21,202.39 L119.92,202.61 L120.63,202.86 L121.33,203.11 L122.03,203.38 L122.73,203.66 L123.42,203.95 L124.11,204.24 L124.79,204.55 L125.48,204.85 L126.16,205.16 L126.85,205.46 L127.54,205.76 L128.23,206.06 L128.91,206.36 L129.60,206.65 L130.29,206.95 L130.98,207.24 L131.68,207.53 L132.37,207.82 L133.06,208.10 L133.76,208.38 L134.46,208.65 L135.16,208.91 L135.86,209.17 L136.57,209.41 L137.28,209.65 L138.00,209.88 L138.71,210.11 L139.43,210.33 L140.14,210.56 L140.85,210.80 L141.56,211.04 L142.26,211.30 L142.96,211.57 L143.66,211.85 L144.35,212.14 L145.03,212.45 L145.71,212.76 L146.39,213.09 L147.05,213.44 L147.70,213.80 L148.35,214.18 L148.98,214.59 L149.59,215.01 L150.19,215.46 L150.78,215.92 L151.35,216.40 L151.91,216.90 L152.47,217.40 L153.02,217.91 L153.56,218.42 L154.11,218.93 L154.66,219.44 L155.22,219.95 L155.78,220.44 L156.35,220.92 L156.93,221.38 L157.54,221.81 L158.17,222.21 L158.82,222.57 L159.49,222.89 L160.17,223.19 L160.86,223.47 L161.56,223.74 L162.26,224.01 L162.95,224.29 L163.64,224.59 L164.32,224.90 L164.99,225.24 L165.64,225.60 L166.29,225.98 L166.92,226.38 L167.55,226.79 L168.17,227.21 L168.78,227.64 L169.39,228.07 L170.00,228.51 L170.61,228.95 L171.21,229.40 L171.81,229.84 L172.42,230.29 L173.01,230.74 L173.61,231.20 L174.21,231.65 L174.80,232.11 L175.39,232.57 L175.98,233.04 L176.56,233.51 L177.15,233.98 L177.73,234.46 L178.30,234.94 L178.88,235.42 L179.45,235.91 L180.01,236.40 L180.58,236.89 L181.14,237.38 L181.70,237.88 L182.26,238.38 L182.81,238.89 L183.36,239.40 L183.91,239.91 L184.46,240.43 L185.00,240.94 L185.54,241.47 L186.07,241.99 L186.60,242.52 L187.13,243.06 L187.65,243.59 L188.17,244.13 L188.69,244.68 L189.20,245.22 L189.71,245.77 L190.22,246.32 L190.73,246.88 L191.23,247.43 L191.73,247.99 L192.23,248.55 L192.73,249.11 L193.23,249.67 L193.72,250.24 L194.22,250.80 L194.71,251.36 L195.21,251.93 L195.70,252.49 L196.19,253.06 L196.68,253.63 L197.17,254.20 L197.65,254.77 L198.14,255.34 L198.62,255.92 L199.10,256.49 L199.58,257.07 L200.06,257.64 L200.54,258.22 L201.02,258.80 L201.50,259.37 L201.98,259.95 L202.46,260.53 L202.93,261.11 L203.41,261.69 L203.88,262.27 L204.36,262.85 L204.83,263.43 L205.31,264.01 L205.78,264.59 L206.26,265.17 L206.73,265.76 L207.20,266.34 L207.67,266.92 L208.14,267.51 L208.61,268.09 L209.07,268.68 L209.54,269.27 L210.00,269.86 L210.46,270.45 L210.91,271.05 L211.37,271.65 L211.81,272.25 L212.26,272.86 L212.69,273.46 L213.12,274.08 L213.55,274.70 L213.97,275.32 L214.38,275.94 L214.79,276.57 L215.19,277.21 L215.58,277.85 L215.96,278.49 L216.34,279.14 L216.71,279.79 L217.07,280.45 L217.43,281.11 L217.78,281.77 L218.13,282.43 L218.48,283.10 L218.84,283.75 L219.20,284.41 L219.57,285.06 L219.96,285.71 L220.35,286.34 L220.75,286.98 L221.17,287.60 L221.60,288.21 L222.05,288.80 L222.52,289.38 L223.02,289.94 L223.54,290.47 L224.08,290.97 L224.66,291.44 L225.26,291.87 L225.90,292.25 L226.55,292.59 L227.23,292.88 L227.93,293.13 L228.65,293.33 L229.37,293.50 L230.10,293.64 L230.84,293.74 L231.58,293.82 L232.33,293.88 L233.08,293.93 L233.83,293.96 L234.58,293.98 L235.33,294.00 L236.08,294.01 L236.83,294.03 L237.58,294.04 L238.33,294.05 L239.08,294.06 L239.83,294.07 L240.58,294.08 L241.33,294.08 L242.08,294.09 L242.83,294.10 L243.58,294.10 L244.33,294.11 L245.08,294.11 L245.83,294.12 L246.58,294.12 L247.33,294.13 L248.08,294.13 L248.83,294.14 L249.58,294.14 L250.33,294.15 L251.08,294.15 L251.83,294.15 L252.57,294.16 L253.32,294.16 L254.07,294.17 L254.82,294.17 L255.57,294.17 L256.32,294.18 L257.07,294.18 L257.82,294.19 L258.57,294.19 L259.32,294.20 L259.82,294.20" fill="none" stroke="#f0282a" stroke-width="1.90" stroke-linejoin="round" stroke-linecap="round"/>
<path d="M39.80,192.80 L40.54,192.91 L41.28,193.02 L42.03,193.12 L42.77,193.23 L43.51,193.34 L44.25,193.45 L44.99,193.57 L45.74,193.68 L46.48,193.78 L47.22,193.89 L47.96,194.00 L48.70,194.11 L49.45,194.21 L50.19,194.32 L50.93,194.42 L51.68,194.52 L52.42,194.62 L53.16,194.71 L53.91,194.81 L54.65,194.90 L55.40,194.99 L56.14,195.08 L56.89,195.17 L57.63,195.25 L58.38,195.33 L59.12,195.40 L59.87,195.48 L60.62,195.55 L61.36,195.62 L62.11,195.68 L62.86,195.74 L63.61,195.80 L64.35,195.86 L65.10,195.92 L65.85,195.97 L66.60,196.03 L67.34,196.08 L68.09,196.13 L68.84,196.18 L69.59,196.23 L70.34,196.28 L71.09,196.33 L71.84,196.37 L72.58,196.42 L73.33,196.47 L74.08,196.51 L74.83,196.56 L75.58,196.61 L76.33,196.65 L77.08,196.70 L77.82,196.74 L78.57,196.79 L79.32,196.83 L80.07,196.88 L80.82,196.92 L81.57,196.97 L82.32,197.01 L83.06,197.06 L83.81,197.11 L84.56,197.16 L85.31,197.21 L86.06,197.26 L86.81,197.32 L87.55,197.37 L88.30,197.43 L89.05,197.49 L89.80,197.56 L90.54,197.63 L91.29,197.71 L92.03,197.79 L92.78,197.88 L93.52,197.99 L94.26,198.10 L95.00,198.23 L95.74,198.35 L96.48,198.49 L97.21,198.62 L97.95,198.76 L98.69,198.90 L99.42,199.05 L100.15,199.21 L100.88,199.38 L101.61,199.56 L102.34,199.75 L103.06,199.96 L103.77,200.18 L104.48,200.42 L105.19,200.67 L105.89,200.93 L106.58,201.21 L107.28,201.50 L107.96,201.80 L108.65,202.10 L109.34,202.40 L110.02,202.71 L110.70,203.02 L111.39,203.32 L112.07,203.63 L112.76,203.94 L113.44,204.24 L114.13,204.55 L114.81,204.86 L115.50,205.16 L116.18,205.47 L116.87,205.77 L117.55,206.07 L118.25,206.36 L118.94,206.65 L119.63,206.92 L120.33,207.19 L121.04,207.45 L121.74,207.70 L122.45,207.95 L123.16,208.18 L123.88,208.42 L124.59,208.64 L125.31,208.87 L126.02,209.10 L126.74,209.33 L127.45,209.56 L128.16,209.79 L128.88,210.02 L129.59,210.25 L130.30,210.49 L131.01,210.72 L131.73,210.96 L132.44,211.20 L133.15,211.44 L133.85,211.69 L134.56,211.95 L135.26,212.21 L135.96,212.47 L136.66,212.74 L137.36,213.02 L138.05,213.30 L138.75,213.59 L139.44,213.88 L140.13,214.18 L140.81,214.48 L141.50,214.78 L142.18,215.09 L142.86,215.41 L143.54,215.73 L144.21,216.05 L144.89,216.39 L145.56,216.72 L146.23,217.06 L146.89,217.40 L147.56,217.74 L148.23,218.08 L148.90,218.41 L149.58,218.74 L150.26,219.06 L150.94,219.38 L151.62,219.69 L152.31,219.99 L152.99,220.29 L153.68,220.58 L154.38,220.87 L155.07,221.15 L155.76,221.44 L156.46,221.71 L157.16,221.98 L157.86,222.24 L158.57,222.50 L159.28,222.75 L159.99,222.98 L160.70,223.22 L161.41,223.45 L162.12,223.68 L162.83,223.93 L163.54,224.18 L164.23,224.46 L164.92,224.75 L165.60,225.06 L166.28,225.38 L166.94,225.73 L167.60,226.08 L168.25,226.46 L168.90,226.84 L169.54,227.23 L170.17,227.63 L170.80,228.03 L171.43,228.44 L172.05,228.86 L172.68,229.28 L173.30,229.70 L173.91,230.13 L174.53,230.56 L175.14,230.99 L175.75,231.43 L176.35,231.87 L176.95,232.32 L177.55,232.77 L178.14,233.23 L178.73,233.70 L179.31,234.17 L179.89,234.65 L180.46,235.13 L181.03,235.62 L181.60,236.11 L182.16,236.61 L182.72,237.11 L183.28,237.60 L183.84,238.10 L184.40,238.60 L184.97,239.09 L185.54,239.58 L186.11,240.07 L186.69,240.54 L187.27,241.01 L187.86,241.47 L188.46,241.93 L189.06,242.38 L189.66,242.82 L190.26,243.27 L190.86,243.73 L191.44,244.19 L192.02,244.67 L192.58,245.17 L193.13,245.68 L193.66,246.20 L194.18,246.74 L194.68,247.30 L195.18,247.86 L195.67,248.43 L196.15,249.00 L196.62,249.58 L197.09,250.17 L197.56,250.76 L198.02,251.35 L198.47,251.94 L198.93,252.54 L199.38,253.14 L199.83,253.74 L200.28,254.34 L200.73,254.94 L201.18,255.53 L201.64,256.13 L202.10,256.72 L202.57,257.31 L203.04,257.89 L203.52,258.47 L203.99,259.05 L204.48,259.62 L204.96,260.20 L205.44,260.77 L205.92,261.34 L206.40,261.92 L206.88,262.50 L207.36,263.08 L207.83,263.66 L208.30,264.24 L208.77,264.83 L209.23,265.42 L209.69,266.01 L210.15,266.60 L210.61,267.20 L211.07,267.79 L211.53,268.39 L211.98,268.98 L212.44,269.58 L212.89,270.17 L213.35,270.77 L213.80,271.37 L214.26,271.96 L214.71,272.56 L215.16,273.16 L215.61,273.76 L216.06,274.36 L216.52,274.96 L216.97,275.55 L217.43,276.15 L217.89,276.74 L218.36,277.32 L218.83,277.91 L219.31,278.48 L219.80,279.05 L220.29,279.61 L220.79,280.17 L221.29,280.73 L221.79,281.29 L222.28,281.86 L222.77,282.43 L223.26,283.00 L223.74,283.57 L224.22,284.15 L224.70,284.72 L225.18,285.30 L225.66,285.88 L226.14,286.46 L226.61,287.03 L227.09,287.61 L227.57,288.18 L228.06,288.75 L228.55,289.32 L229.06,289.87 L229.57,290.42 L230.09,290.96 L230.63,291.48 L231.18,291.99 L231.74,292.48 L232.33,292.94 L232.93,293.38 L233.55,293.79 L234.19,294.17 L234.84,294.52 L235.51,294.84 L236.20,295.13 L236.89,295.37 L237.60,295.58 L238.32,295.74 L239.05,295.85 L239.78,295.93 L240.53,295.97 L241.28,296.00 L242.02,296.02 L242.77,296.03 L243.52,296.04 L244.27,296.04 L245.02,296.05 L245.77,296.05 L246.52,296.05 L247.27,296.05 L248.02,296.05 L248.77,296.05 L249.52,296.05 L250.27,296.04 L251.02,296.04 L251.77,296.04 L252.52,296.03 L253.27,296.03 L254.02,296.03 L254.77,296.02 L255.52,296.02 L256.27,296.02 L257.02,296.01 L257.77,296.01 L258.52,296.01 L259.27,296.00 L259.77,296.00" fill="none" stroke="#1f66e2" stroke-width="1.90" stroke-linejoin="round" stroke-linecap="round"/>
<path d="M39.80,192.20 L40.54,192.29 L41.29,192.39 L42.03,192.49 L42.78,192.58 L43.52,192.68 L44.26,192.78 L45.01,192.87 L45.75,192.97 L46.49,193.07 L47.24,193.16 L47.98,193.26 L48.73,193.35 L49.47,193.44 L50.21,193.54 L50.96,193.63 L51.70,193.72 L52.45,193.80 L53.19,193.89 L53.94,193.98 L54.68,194.06 L55.43,194.14 L56.18,194.22 L56.92,194.30 L57.67,194.37 L58.41,194.45 L59.16,194.52 L59.91,194.58 L60.65,194.65 L61.40,194.71 L62.15,194.77 L62.90,194.83 L63.64,194.89 L64.39,194.94 L65.14,195.00 L65.89,195.05 L66.64,195.10 L67.39,195.15 L68.13,195.20 L68.88,195.25 L69.63,195.30 L70.38,195.35 L71.13,195.39 L71.88,195.44 L72.62,195.49 L73.37,195.53 L74.12,195.58 L74.87,195.63 L75.62,195.67 L76.37,195.72 L77.12,195.76 L77.87,195.81 L78.61,195.85 L79.36,195.90 L80.11,195.95 L80.86,195.99 L81.61,196.04 L82.36,196.09 L83.10,196.14 L83.85,196.19 L84.60,196.24 L85.35,196.30 L86.10,196.35 L86.84,196.41 L87.59,196.48 L88.34,196.54 L89.09,196.61 L89.83,196.69 L90.58,196.77 L91.32,196.87 L92.06,196.97 L92.80,197.09 L93.54,197.23 L94.27,197.39 L95.00,197.56 L95.72,197.75 L96.45,197.94 L97.16,198.15 L97.88,198.37 L98.59,198.61 L99.29,198.87 L99.99,199.14 L100.68,199.44 L101.36,199.75 L102.03,200.07 L102.70,200.41 L103.36,200.76 L104.02,201.13 L104.67,201.50 L105.32,201.88 L105.96,202.26 L106.61,202.64 L107.25,203.02 L107.90,203.40 L108.55,203.77 L109.21,204.14 L109.86,204.50 L110.52,204.86 L111.18,205.21 L111.85,205.56 L112.51,205.91 L113.18,206.25 L113.85,206.59 L114.52,206.93 L115.19,207.26 L115.86,207.60 L116.53,207.93 L117.21,208.26 L117.88,208.58 L118.56,208.91 L119.24,209.23 L119.92,209.54 L120.60,209.86 L121.28,210.16 L121.97,210.46 L122.66,210.76 L123.35,211.05 L124.04,211.34 L124.73,211.63 L125.43,211.91 L126.12,212.20 L126.81,212.48 L127.51,212.77 L128.20,213.06 L128.89,213.35 L129.58,213.64 L130.27,213.94 L130.96,214.23 L131.65,214.52 L132.35,214.81 L133.04,215.09 L133.74,215.37 L134.43,215.65 L135.13,215.91 L135.84,216.17 L136.54,216.42 L137.25,216.67 L137.96,216.91 L138.68,217.14 L139.39,217.37 L140.10,217.60 L140.82,217.83 L141.53,218.06 L142.24,218.29 L142.96,218.53 L143.67,218.76 L144.38,219.00 L145.09,219.24 L145.80,219.48 L146.51,219.72 L147.22,219.96 L147.93,220.20 L148.64,220.45 L149.35,220.70 L150.05,220.95 L150.76,221.21 L151.46,221.46 L152.17,221.72 L152.87,221.99 L153.57,222.25 L154.27,222.52 L154.97,222.78 L155.68,223.05 L156.38,223.31 L157.08,223.57 L157.78,223.83 L158.49,224.09 L159.19,224.34 L159.90,224.59 L160.61,224.84 L161.32,225.09 L162.03,225.33 L162.73,225.58 L163.44,225.83 L164.15,226.08 L164.86,226.33 L165.56,226.58 L166.26,226.84 L166.96,227.11 L167.66,227.39 L168.35,227.68 L169.03,227.98 L169.71,228.30 L170.38,228.64 L171.05,228.98 L171.71,229.33 L172.37,229.69 L173.02,230.06 L173.67,230.44 L174.32,230.81 L174.96,231.20 L175.60,231.59 L176.23,231.99 L176.86,232.40 L177.49,232.81 L178.11,233.23 L178.72,233.66 L179.33,234.10 L179.93,234.55 L180.53,235.00 L181.13,235.46 L181.72,235.92 L182.30,236.39 L182.88,236.86 L183.46,237.34 L184.04,237.82 L184.61,238.30 L185.18,238.79 L185.75,239.28 L186.31,239.78 L186.86,240.29 L187.41,240.80 L187.94,241.32 L188.47,241.85 L188.99,242.39 L189.51,242.94 L190.02,243.49 L190.53,244.04 L191.03,244.59 L191.54,245.14 L192.05,245.69 L192.56,246.24 L193.07,246.79 L193.58,247.34 L194.09,247.89 L194.60,248.44 L195.10,249.00 L195.61,249.55 L196.10,250.12 L196.60,250.68 L197.09,251.25 L197.57,251.82 L198.06,252.39 L198.53,252.97 L199.01,253.55 L199.48,254.13 L199.96,254.71 L200.43,255.30 L200.90,255.88 L201.37,256.46 L201.85,257.04 L202.33,257.62 L202.80,258.20 L203.28,258.78 L203.76,259.35 L204.24,259.93 L204.73,260.50 L205.21,261.08 L205.69,261.65 L206.18,262.22 L206.67,262.79 L207.16,263.35 L207.66,263.92 L208.15,264.48 L208.65,265.04 L209.15,265.59 L209.66,266.15 L210.17,266.70 L210.67,267.25 L211.18,267.80 L211.69,268.36 L212.20,268.91 L212.71,269.46 L213.22,270.01 L213.72,270.56 L214.23,271.11 L214.74,271.67 L215.24,272.22 L215.75,272.77 L216.25,273.33 L216.75,273.89 L217.25,274.45 L217.74,275.02 L218.22,275.59 L218.69,276.17 L219.16,276.76 L219.61,277.36 L220.05,277.97 L220.49,278.58 L220.93,279.18 L221.37,279.78 L221.83,280.37 L222.31,280.95 L222.80,281.52 L223.30,282.07 L223.82,282.61 L224.34,283.15 L224.87,283.68 L225.40,284.21 L225.93,284.74 L226.46,285.27 L227.00,285.80 L227.53,286.32 L228.08,286.83 L228.63,287.34 L229.20,287.83 L229.77,288.31 L230.36,288.77 L230.95,289.22 L231.54,289.66 L232.12,290.09 L232.70,290.50 L233.29,290.89 L233.89,291.22 L234.52,291.49 L235.19,291.70 L235.88,291.85 L236.61,291.94 L237.34,292.01 L238.09,292.06 L238.84,292.09 L239.59,292.12 L240.34,292.14 L241.09,292.16 L241.84,292.18 L242.59,292.20 L243.34,292.21 L244.09,292.22 L244.83,292.23 L245.58,292.25 L246.33,292.26 L247.08,292.27 L247.83,292.27 L248.58,292.28 L249.33,292.29 L250.08,292.30 L250.83,292.31 L251.58,292.31 L252.33,292.32 L253.08,292.32 L253.83,292.33 L254.58,292.34 L255.33,292.34 L256.08,292.35 L256.83,292.35 L257.58,292.36 L258.33,292.37 L259.08,292.37 L259.83,292.38 L260.58,292.39 L261.33,292.39 L261.83,292.40" fill="none" stroke="#1ba04c" stroke-width="1.90" stroke-linejoin="round" stroke-linecap="round"/>
<line x1="39.50" y1="191.50" x2="128.50" y2="191.50" stroke="#000" stroke-width="1.00" />
<line x1="117.50" y1="191.50" x2="117.50" y2="191.90" stroke="#000" stroke-width="1.00" />
<path d="M115.90,191.40 L119.10,191.40 L117.50,197.40 Z" fill="#000"/>
<line x1="92.00" y1="197.50" x2="144.60" y2="197.50" stroke="#000" stroke-width="1.00" />
<line x1="142.50" y1="197.50" x2="142.50" y2="202.90" stroke="#000" stroke-width="1.00" />
<path d="M140.70,202.40 L144.30,202.40 L142.50,209.20 Z" fill="#000"/>
<line x1="121.00" y1="209.50" x2="175.50" y2="209.50" stroke="#000" stroke-width="1.00" />
<line x1="168.50" y1="209.50" x2="168.50" y2="217.10" stroke="#000" stroke-width="1.00" />
<path d="M166.70,216.60 L170.30,216.60 L168.50,223.40 Z" fill="#000"/>
<line x1="156.40" y1="223.50" x2="242.80" y2="223.50" stroke="#000" stroke-width="1.00" />
<line x1="236.50" y1="223.50" x2="236.50" y2="286.20" stroke="#000" stroke-width="1.00" />
<path d="M234.70,285.70 L238.30,285.70 L236.50,292.50 Z" fill="#000"/>
<text x="133.00" y="194.80" font-size="9.00" text-anchor="middle" font-weight="bold" >I</text>
<text x="155.80" y="207.20" font-size="9.00" text-anchor="middle" font-weight="bold" >II</text>
<text x="180.40" y="218.70" font-size="9.00" text-anchor="middle" font-weight="bold" >III</text>
<text x="244.50" y="258.20" font-size="9.00" text-anchor="middle" font-weight="bold" >IV</text>
<rect x="42.70" y="264.90" width="50.80" height="38.50" fill="#fff" stroke="#b8b8b8" stroke-width="0.8"/>
<line x1="45.40" y1="270.60" x2="62.90" y2="270.60" stroke="#353535" stroke-width="1.60" />
<text x="64.70" y="273.20" font-size="7.20" text-anchor="start" font-weight="bold" >S-0.05H</text>
<line x1="45.40" y1="280.00" x2="62.90" y2="280.00" stroke="#f0282a" stroke-width="1.60" />
<text x="64.70" y="282.60" font-size="7.20" text-anchor="start" font-weight="bold" >S-0.1H</text>
<line x1="45.40" y1="289.40" x2="62.90" y2="289.40" stroke="#1f66e2" stroke-width="1.60" />
<text x="64.70" y="292.00" font-size="7.20" text-anchor="start" font-weight="bold" >S-0.5H</text>
<line x1="45.40" y1="298.70" x2="62.90" y2="298.70" stroke="#1ba04c" stroke-width="1.60" />
<text x="64.70" y="301.30" font-size="7.20" text-anchor="start" font-weight="bold" >S-1.5H</text>
<path d="M40.90,354.60 L41.40,355.12 L41.92,355.62 L42.48,356.05 L43.09,356.42 L43.74,356.72 L44.43,356.95 L45.14,357.13 L45.87,357.28 L46.61,357.40 L47.35,357.51 L48.09,357.60 L48.84,357.69 L49.58,357.76 L50.33,357.84 L51.08,357.90 L51.82,357.97 L52.57,358.03 L53.32,358.09 L54.07,358.14 L54.82,358.19 L55.56,358.24 L56.31,358.29 L57.06,358.34 L57.81,358.38 L58.56,358.42 L59.31,358.46 L60.06,358.49 L60.81,358.52 L61.56,358.55 L62.31,358.58 L63.05,358.60 L63.80,358.63 L64.55,358.65 L65.30,358.66 L66.05,358.68 L66.80,358.70 L67.55,358.72 L68.30,358.73 L69.05,358.75 L69.80,358.77 L70.55,358.78 L71.30,358.80 L72.05,358.82 L72.80,358.84 L73.55,358.85 L74.30,358.88 L75.05,358.90 L75.80,358.92 L76.55,358.95 L77.30,358.98 L78.05,359.01 L78.80,359.04 L79.55,359.08 L80.30,359.11 L81.05,359.15 L81.79,359.19 L82.54,359.23 L83.29,359.28 L84.04,359.32 L84.79,359.37 L85.54,359.41 L86.29,359.46 L87.04,359.51 L87.78,359.55 L88.53,359.60 L89.28,359.65 L90.03,359.71 L90.77,359.76 L91.51,359.82 L92.22,359.88 L92.91,359.95 L93.55,360.03 L94.14,360.12 L94.70,360.21 L95.25,360.31 L95.83,360.40 L96.45,360.49 L97.12,360.57 L97.82,360.64 L98.55,360.70 L99.29,360.76 L100.04,360.83 L100.79,360.89 L101.53,360.96 L102.28,361.03 L103.03,361.10 L103.77,361.17 L104.52,361.25 L105.26,361.34 L106.01,361.42 L106.75,361.51 L107.50,361.60 L108.24,361.69 L108.98,361.80 L109.73,361.90 L110.47,362.02 L111.21,362.14 L111.94,362.28 L112.68,362.42 L113.41,362.58 L114.14,362.74 L114.87,362.91 L115.60,363.10 L116.33,363.29 L117.05,363.49 L117.77,363.70 L118.49,363.91 L119.20,364.14 L119.91,364.37 L120.62,364.62 L121.33,364.87 L122.03,365.14 L122.72,365.41 L123.42,365.70 L124.10,366.00 L124.79,366.31 L125.47,366.63 L126.14,366.95 L126.82,367.28 L127.49,367.61 L128.16,367.94 L128.83,368.27 L129.51,368.60 L130.19,368.92 L130.87,369.23 L131.55,369.54 L132.24,369.85 L132.93,370.14 L133.62,370.44 L134.31,370.72 L135.00,371.01 L135.70,371.29 L136.39,371.57 L137.09,371.85 L137.78,372.13 L138.48,372.41 L139.18,372.68 L139.88,372.95 L140.58,373.22 L141.28,373.49 L141.98,373.75 L142.69,374.00 L143.40,374.25 L144.11,374.48 L144.82,374.70 L145.54,374.91 L146.27,375.10 L146.99,375.29 L147.72,375.47 L148.45,375.64 L149.18,375.81 L149.91,375.98 L150.64,376.15 L151.37,376.32 L152.11,376.48 L152.84,376.65 L153.57,376.82 L154.30,377.00 L155.02,377.18 L155.75,377.37 L156.47,377.57 L157.19,377.79 L157.90,378.01 L158.61,378.25 L159.32,378.50 L160.02,378.76 L160.72,379.04 L161.41,379.32 L162.09,379.63 L162.77,379.94 L163.44,380.28 L164.11,380.63 L164.76,381.00 L165.40,381.38 L166.03,381.78 L166.65,382.21 L167.25,382.64 L167.85,383.09 L168.44,383.56 L169.02,384.04 L169.58,384.52 L170.15,385.02 L170.70,385.53 L171.25,386.04 L171.79,386.56 L172.32,387.08 L172.85,387.62 L173.38,388.15 L173.90,388.69 L174.41,389.24 L174.92,389.79 L175.42,390.35 L175.91,390.91 L176.40,391.48 L176.88,392.06 L177.35,392.64 L177.82,393.22 L178.28,393.81 L178.74,394.41 L179.19,395.01 L179.64,395.61 L180.09,396.21 L180.53,396.81 L180.97,397.42 L181.41,398.03 L181.84,398.64 L182.28,399.25 L182.70,399.87 L183.13,400.49 L183.55,401.11 L183.97,401.73 L184.38,402.36 L184.80,402.98 L185.21,403.61 L185.62,404.23 L186.03,404.86 L186.44,405.49 L186.85,406.12 L187.26,406.75 L187.66,407.38 L188.07,408.01 L188.47,408.64 L188.87,409.28 L189.27,409.92 L189.66,410.55 L190.06,411.19 L190.45,411.83 L190.85,412.46 L191.25,413.10 L191.65,413.73 L192.05,414.37 L192.45,415.00 L192.86,415.63 L193.27,416.26 L193.68,416.89 L194.09,417.51 L194.51,418.14 L194.92,418.76 L195.34,419.39 L195.75,420.01 L196.17,420.63 L196.59,421.25 L197.01,421.88 L197.43,422.50 L197.84,423.12 L198.26,423.75 L198.68,424.37 L199.09,425.00 L199.50,425.62 L199.91,426.25 L200.32,426.88 L200.73,427.51 L201.14,428.14 L201.55,428.77 L201.96,429.39 L202.37,430.02 L202.78,430.65 L203.19,431.28 L203.61,431.90 L204.03,432.52 L204.46,433.14 L204.89,433.75 L205.32,434.36 L205.77,434.96 L206.21,435.57 L206.66,436.16 L207.12,436.76 L207.58,437.35 L208.05,437.94 L208.52,438.52 L208.99,439.10 L209.47,439.68 L209.96,440.25 L210.44,440.82 L210.93,441.39 L211.42,441.96 L211.92,442.52 L212.42,443.08 L212.92,443.64 L213.43,444.19 L213.94,444.74 L214.45,445.29 L214.97,445.83 L215.50,446.36 L216.03,446.88 L216.58,447.40 L217.13,447.90 L217.70,448.39 L218.28,448.87 L218.87,449.33 L219.47,449.77 L220.08,450.20 L220.70,450.62 L221.34,451.02 L221.98,451.41 L222.63,451.78 L223.28,452.14 L223.94,452.50 L224.61,452.85 L225.27,453.19 L225.95,453.52 L226.62,453.83 L227.31,454.12 L228.01,454.39 L228.72,454.62 L229.43,454.82 L230.16,454.98 L230.90,455.12 L231.63,455.22 L232.38,455.30 L233.12,455.36 L233.87,455.41 L234.62,455.44 L235.37,455.47 L236.12,455.48 L236.87,455.49 L237.62,455.49 L238.37,455.50 L239.12,455.50 L239.87,455.50 L240.62,455.50 L241.37,455.50 L242.12,455.50 L242.87,455.50 L243.62,455.50 L244.37,455.51 L245.12,455.51 L245.87,455.51 L246.62,455.52 L247.37,455.52 L248.12,455.52 L248.87,455.52 L249.62,455.52 L250.37,455.52 L251.12,455.52 L251.87,455.52 L252.62,455.52 L253.37,455.52 L254.12,455.52 L254.87,455.51 L255.62,455.51 L256.37,455.51 L257.12,455.51 L257.87,455.51 L258.62,455.51 L259.37,455.50 L260.12,455.50 L260.87,455.50 L260.87,455.50" fill="none" stroke="#353535" stroke-width="1.90" stroke-linejoin="round" stroke-linecap="round"/>
<path d="M40.90,355.00 L41.64,355.14 L42.37,355.29 L43.11,355.43 L43.84,355.58 L44.58,355.72 L45.32,355.87 L46.05,356.01 L46.79,356.16 L47.52,356.30 L48.26,356.44 L49.00,356.58 L49.73,356.72 L50.47,356.85 L51.21,356.98 L51.95,357.11 L52.69,357.24 L53.43,357.36 L54.17,357.47 L54.91,357.58 L55.65,357.69 L56.40,357.79 L57.14,357.88 L57.89,357.97 L58.63,358.05 L59.38,358.12 L60.12,358.19 L60.87,358.25 L61.62,358.31 L62.37,358.37 L63.12,358.42 L63.86,358.47 L64.61,358.51 L65.36,358.55 L66.11,358.59 L66.86,358.62 L67.61,358.66 L68.36,358.69 L69.11,358.72 L69.86,358.75 L70.61,358.78 L71.36,358.80 L72.11,358.83 L72.86,358.85 L73.61,358.87 L74.35,358.89 L75.10,358.92 L75.85,358.94 L76.60,358.96 L77.35,358.98 L78.10,359.00 L78.85,359.01 L79.60,359.03 L80.35,359.04 L81.10,359.04 L81.85,359.05 L82.60,359.05 L83.35,359.05 L84.10,359.05 L84.85,359.04 L85.60,359.04 L86.35,359.03 L87.10,359.03 L87.85,359.02 L88.60,359.02 L89.35,359.01 L90.10,359.01 L90.85,359.01 L91.60,359.02 L92.35,359.03 L93.10,359.05 L93.85,359.08 L94.60,359.11 L95.35,359.16 L96.09,359.22 L96.84,359.29 L97.58,359.38 L98.33,359.49 L99.07,359.60 L99.80,359.73 L100.54,359.86 L101.28,360.00 L102.02,360.13 L102.76,360.25 L103.50,360.37 L104.24,360.47 L104.98,360.56 L105.73,360.64 L106.48,360.71 L107.22,360.77 L107.97,360.83 L108.72,360.89 L109.46,360.95 L110.21,361.02 L110.95,361.11 L111.70,361.20 L112.44,361.32 L113.18,361.44 L113.91,361.59 L114.64,361.75 L115.37,361.92 L116.10,362.10 L116.82,362.29 L117.55,362.50 L118.26,362.71 L118.98,362.94 L119.69,363.17 L120.40,363.42 L121.10,363.68 L121.80,363.95 L122.49,364.23 L123.18,364.52 L123.87,364.83 L124.54,365.15 L125.22,365.48 L125.88,365.82 L126.55,366.17 L127.22,366.51 L127.88,366.86 L128.55,367.20 L129.22,367.54 L129.89,367.87 L130.57,368.18 L131.25,368.49 L131.94,368.78 L132.64,369.07 L133.34,369.34 L134.04,369.60 L134.74,369.86 L135.45,370.11 L136.16,370.35 L136.87,370.60 L137.58,370.83 L138.29,371.07 L139.00,371.30 L139.72,371.54 L140.43,371.77 L141.14,372.00 L141.86,372.22 L142.57,372.45 L143.29,372.67 L144.00,372.91 L144.71,373.15 L145.41,373.41 L146.11,373.68 L146.80,373.97 L147.49,374.27 L148.17,374.57 L148.85,374.89 L149.53,375.21 L150.21,375.53 L150.88,375.86 L151.56,376.18 L152.24,376.51 L152.91,376.84 L153.58,377.17 L154.25,377.50 L154.92,377.84 L155.59,378.18 L156.25,378.53 L156.91,378.89 L157.57,379.25 L158.22,379.62 L158.87,379.99 L159.52,380.37 L160.16,380.77 L160.79,381.16 L161.43,381.56 L162.06,381.97 L162.68,382.38 L163.31,382.80 L163.93,383.22 L164.55,383.63 L165.17,384.05 L165.80,384.48 L166.42,384.90 L167.04,385.31 L167.66,385.73 L168.28,386.15 L168.91,386.56 L169.53,386.98 L170.16,387.39 L170.79,387.81 L171.41,388.22 L172.04,388.63 L172.66,389.05 L173.29,389.46 L173.91,389.88 L174.53,390.30 L175.15,390.72 L175.77,391.15 L176.38,391.58 L177.00,392.01 L177.61,392.44 L178.22,392.87 L178.84,393.31 L179.45,393.74 L180.06,394.18 L180.67,394.61 L181.27,395.06 L181.87,395.51 L182.46,395.97 L183.05,396.43 L183.62,396.92 L184.18,397.41 L184.73,397.92 L185.26,398.45 L185.78,398.99 L186.28,399.54 L186.77,400.11 L187.24,400.69 L187.69,401.29 L188.14,401.89 L188.58,402.49 L189.01,403.11 L189.44,403.72 L189.87,404.34 L190.30,404.96 L190.73,405.57 L191.16,406.18 L191.60,406.79 L192.05,407.39 L192.50,407.98 L192.97,408.57 L193.45,409.15 L193.94,409.72 L194.43,410.28 L194.93,410.84 L195.44,411.39 L195.95,411.94 L196.46,412.49 L196.97,413.04 L197.47,413.59 L197.98,414.15 L198.47,414.71 L198.97,415.28 L199.45,415.85 L199.94,416.42 L200.42,417.00 L200.89,417.58 L201.36,418.16 L201.83,418.74 L202.30,419.33 L202.76,419.92 L203.22,420.51 L203.68,421.11 L204.13,421.71 L204.58,422.31 L205.03,422.91 L205.47,423.51 L205.91,424.12 L206.35,424.73 L206.78,425.34 L207.21,425.96 L207.64,426.57 L208.07,427.19 L208.49,427.81 L208.91,428.43 L209.32,429.06 L209.74,429.68 L210.15,430.31 L210.55,430.94 L210.96,431.57 L211.35,432.21 L211.75,432.85 L212.14,433.49 L212.52,434.13 L212.90,434.78 L213.28,435.42 L213.66,436.07 L214.03,436.73 L214.39,437.38 L214.76,438.03 L215.13,438.69 L215.49,439.34 L215.86,440.00 L216.22,440.65 L216.58,441.31 L216.95,441.96 L217.32,442.62 L217.69,443.27 L218.05,443.92 L218.42,444.58 L218.79,445.23 L219.16,445.89 L219.52,446.54 L219.89,447.20 L220.25,447.85 L220.63,448.50 L221.01,449.14 L221.41,449.78 L221.82,450.40 L222.25,451.01 L222.71,451.59 L223.20,452.15 L223.72,452.68 L224.27,453.18 L224.86,453.63 L225.47,454.04 L226.11,454.40 L226.78,454.71 L227.47,454.97 L228.18,455.18 L228.90,455.34 L229.63,455.45 L230.37,455.52 L231.11,455.56 L231.86,455.58 L232.61,455.59 L233.36,455.60 L234.11,455.60 L234.86,455.61 L235.61,455.61 L236.36,455.62 L237.11,455.62 L237.86,455.62 L238.61,455.62 L239.36,455.63 L240.11,455.63 L240.86,455.63 L241.61,455.63 L242.36,455.63 L243.11,455.63 L243.86,455.63 L244.61,455.63 L245.36,455.63 L246.11,455.63 L246.86,455.63 L247.61,455.63 L248.36,455.62 L249.11,455.62 L249.86,455.62 L250.61,455.62 L251.36,455.62 L252.11,455.62 L252.86,455.62 L253.61,455.61 L254.36,455.61 L255.11,455.61 L255.86,455.61 L256.61,455.61 L257.36,455.61 L258.11,455.60 L258.86,455.60 L259.61,455.60 L260.36,455.60 L260.86,455.60" fill="none" stroke="#f0282a" stroke-width="1.90" stroke-linejoin="round" stroke-linecap="round"/>
<path d="M40.90,355.00 L41.64,355.14 L42.37,355.29 L43.11,355.43 L43.84,355.58 L44.58,355.72 L45.32,355.87 L46.05,356.01 L46.79,356.16 L47.52,356.30 L48.26,356.44 L49.00,356.58 L49.73,356.72 L50.47,356.85 L51.21,356.98 L51.95,357.11 L52.69,357.24 L53.43,357.36 L54.17,357.47 L54.91,357.58 L55.65,357.69 L56.40,357.79 L57.14,357.88 L57.89,357.97 L58.63,358.04 L59.38,358.12 L60.13,358.18 L60.87,358.24 L61.62,358.30 L62.37,358.35 L63.12,358.39 L63.87,358.44 L64.62,358.48 L65.36,358.51 L66.11,358.55 L66.86,358.58 L67.61,358.61 L68.36,358.63 L69.11,358.66 L69.86,358.69 L70.61,358.71 L71.36,358.74 L72.11,358.76 L72.86,358.79 L73.61,358.82 L74.36,358.84 L75.11,358.87 L75.86,358.90 L76.61,358.94 L77.36,358.97 L78.10,359.01 L78.85,359.05 L79.60,359.08 L80.35,359.12 L81.10,359.16 L81.85,359.20 L82.60,359.24 L83.35,359.28 L84.10,359.31 L84.85,359.35 L85.59,359.39 L86.34,359.43 L87.09,359.47 L87.84,359.51 L88.59,359.56 L89.34,359.60 L90.09,359.65 L90.84,359.69 L91.58,359.74 L92.33,359.80 L93.08,359.85 L93.83,359.91 L94.57,359.98 L95.32,360.05 L96.07,360.13 L96.81,360.21 L97.56,360.30 L98.30,360.40 L99.04,360.51 L99.78,360.63 L100.52,360.75 L101.26,360.88 L102.00,361.01 L102.74,361.15 L103.47,361.28 L104.21,361.41 L104.95,361.54 L105.69,361.66 L106.43,361.79 L107.17,361.92 L107.91,362.05 L108.64,362.18 L109.38,362.32 L110.12,362.47 L110.85,362.64 L111.58,362.81 L112.30,362.99 L113.03,363.19 L113.74,363.40 L114.46,363.62 L115.17,363.86 L115.88,364.10 L116.59,364.36 L117.29,364.62 L117.99,364.89 L118.68,365.18 L119.37,365.47 L120.06,365.77 L120.74,366.08 L121.41,366.40 L122.09,366.74 L122.75,367.08 L123.41,367.44 L124.06,367.81 L124.71,368.18 L125.35,368.57 L125.99,368.96 L126.63,369.36 L127.26,369.76 L127.90,370.16 L128.53,370.56 L129.17,370.95 L129.81,371.34 L130.46,371.72 L131.11,372.09 L131.77,372.44 L132.44,372.79 L133.11,373.12 L133.79,373.43 L134.47,373.74 L135.16,374.04 L135.85,374.33 L136.54,374.61 L137.24,374.89 L137.94,375.16 L138.64,375.43 L139.34,375.69 L140.05,375.93 L140.76,376.16 L141.48,376.38 L142.20,376.59 L142.92,376.78 L143.64,376.98 L144.34,377.20 L145.03,377.46 L145.70,377.76 L146.34,378.12 L146.94,378.54 L147.50,379.01 L148.01,379.53 L148.48,380.10 L148.90,380.70 L149.28,381.33 L149.62,381.98 L149.95,382.63 L150.29,383.27 L150.68,383.87 L151.13,384.41 L151.65,384.88 L152.24,385.28 L152.87,385.61 L153.55,385.88 L154.26,386.10 L154.98,386.29 L155.71,386.45 L156.44,386.60 L157.18,386.74 L157.91,386.87 L158.65,387.01 L159.38,387.16 L160.12,387.33 L160.84,387.50 L161.57,387.70 L162.28,387.91 L163.00,388.13 L163.71,388.38 L164.41,388.63 L165.11,388.90 L165.81,389.18 L166.50,389.46 L167.19,389.76 L167.88,390.05 L168.57,390.36 L169.25,390.66 L169.93,390.98 L170.61,391.29 L171.29,391.62 L171.96,391.94 L172.63,392.27 L173.31,392.61 L173.97,392.95 L174.64,393.30 L175.31,393.64 L175.97,393.99 L176.63,394.34 L177.30,394.69 L177.96,395.03 L178.63,395.38 L179.29,395.73 L179.95,396.08 L180.62,396.43 L181.28,396.78 L181.94,397.14 L182.60,397.50 L183.25,397.87 L183.90,398.24 L184.54,398.63 L185.18,399.02 L185.82,399.42 L186.44,399.83 L187.06,400.25 L187.67,400.68 L188.28,401.12 L188.89,401.57 L189.49,402.02 L190.08,402.47 L190.68,402.93 L191.27,403.39 L191.86,403.85 L192.45,404.31 L193.04,404.77 L193.64,405.23 L194.23,405.69 L194.81,406.16 L195.40,406.63 L195.99,407.09 L196.57,407.56 L197.16,408.03 L197.74,408.50 L198.33,408.97 L198.91,409.45 L199.49,409.92 L200.07,410.39 L200.65,410.86 L201.24,411.34 L201.82,411.81 L202.40,412.29 L202.97,412.77 L203.55,413.25 L204.12,413.73 L204.70,414.21 L205.27,414.70 L205.84,415.19 L206.41,415.68 L206.97,416.17 L207.53,416.67 L208.10,417.16 L208.66,417.66 L209.22,418.16 L209.77,418.66 L210.33,419.16 L210.89,419.67 L211.44,420.17 L211.99,420.68 L212.55,421.19 L213.10,421.69 L213.65,422.20 L214.20,422.71 L214.75,423.22 L215.30,423.74 L215.84,424.25 L216.38,424.78 L216.91,425.31 L217.43,425.84 L217.95,426.38 L218.46,426.93 L218.97,427.48 L219.47,428.04 L219.97,428.60 L220.46,429.17 L220.94,429.74 L221.43,430.31 L221.91,430.89 L222.39,431.46 L222.87,432.04 L223.35,432.62 L223.83,433.19 L224.31,433.77 L224.79,434.35 L225.26,434.93 L225.74,435.51 L226.22,436.08 L226.69,436.66 L227.17,437.25 L227.64,437.83 L228.12,438.41 L228.59,438.99 L229.06,439.57 L229.54,440.15 L230.02,440.73 L230.50,441.31 L230.97,441.88 L231.45,442.46 L231.93,443.04 L232.42,443.61 L232.90,444.18 L233.38,444.76 L233.87,445.33 L234.35,445.90 L234.84,446.47 L235.33,447.04 L235.82,447.61 L236.31,448.18 L236.80,448.74 L237.30,449.30 L237.80,449.86 L238.30,450.42 L238.81,450.97 L239.32,451.52 L239.84,452.06 L240.37,452.59 L240.90,453.11 L241.45,453.62 L242.01,454.12 L242.59,454.60 L243.18,455.06 L243.78,455.51 L244.39,455.94 L245.00,456.37 L245.62,456.79 L246.25,457.20 L246.67,457.48" fill="none" stroke="#1f66e2" stroke-width="1.90" stroke-linejoin="round" stroke-linecap="round"/>
<path d="M40.90,356.00 L41.64,356.14 L42.37,356.29 L43.11,356.44 L43.84,356.58 L44.58,356.73 L45.31,356.88 L46.05,357.03 L46.78,357.18 L47.52,357.32 L48.26,357.47 L48.99,357.61 L49.73,357.75 L50.47,357.88 L51.20,358.01 L51.94,358.14 L52.68,358.26 L53.42,358.38 L54.17,358.50 L54.91,358.60 L55.65,358.70 L56.39,358.80 L57.14,358.88 L57.88,358.96 L58.63,359.03 L59.38,359.09 L60.13,359.15 L60.87,359.19 L61.62,359.23 L62.37,359.27 L63.12,359.30 L63.87,359.32 L64.62,359.34 L65.37,359.36 L66.12,359.38 L66.87,359.39 L67.62,359.40 L68.37,359.41 L69.12,359.42 L69.87,359.42 L70.62,359.43 L71.37,359.44 L72.12,359.45 L72.87,359.46 L73.62,359.47 L74.37,359.49 L75.12,359.51 L75.87,359.53 L76.62,359.55 L77.37,359.58 L78.12,359.62 L78.87,359.65 L79.61,359.69 L80.36,359.74 L81.11,359.78 L81.86,359.83 L82.61,359.88 L83.36,359.93 L84.11,359.98 L84.85,360.03 L85.60,360.08 L86.35,360.14 L87.10,360.20 L87.85,360.26 L88.59,360.32 L89.34,360.38 L90.09,360.44 L90.83,360.51 L91.58,360.58 L92.33,360.64 L93.07,360.71 L93.82,360.79 L94.57,360.86 L95.31,360.94 L96.06,361.02 L96.80,361.11 L97.55,361.19 L98.29,361.29 L99.04,361.39 L99.78,361.50 L100.52,361.62 L101.26,361.74 L101.99,361.88 L102.73,362.03 L103.46,362.18 L104.20,362.34 L104.93,362.51 L105.66,362.68 L106.38,362.87 L107.11,363.05 L107.83,363.25 L108.55,363.46 L109.27,363.67 L109.99,363.89 L110.70,364.13 L111.41,364.37 L112.11,364.62 L112.81,364.89 L113.51,365.17 L114.20,365.46 L114.89,365.76 L115.57,366.07 L116.24,366.40 L116.92,366.73 L117.59,367.06 L118.25,367.40 L118.92,367.75 L119.59,368.09 L120.25,368.44 L120.92,368.79 L121.58,369.13 L122.25,369.48 L122.91,369.82 L123.58,370.17 L124.24,370.52 L124.91,370.87 L125.57,371.22 L126.23,371.57 L126.89,371.92 L127.56,372.27 L128.23,372.61 L128.90,372.94 L129.58,373.26 L130.26,373.57 L130.95,373.86 L131.64,374.14 L132.34,374.41 L133.05,374.67 L133.76,374.91 L134.47,375.14 L135.19,375.36 L135.91,375.57 L136.63,375.77 L137.35,375.97 L138.08,376.17 L138.80,376.36 L139.53,376.54 L140.25,376.72 L140.98,376.90 L141.71,377.07 L142.45,377.23 L143.18,377.37 L143.92,377.51 L144.66,377.63 L145.40,377.73 L146.14,377.83 L146.88,377.92 L147.63,378.02 L148.37,378.13 L149.11,378.25 L149.84,378.38 L150.58,378.52 L151.31,378.67 L152.05,378.83 L152.78,378.99 L153.51,379.16 L154.24,379.34 L154.96,379.52 L155.69,379.72 L156.41,379.93 L157.12,380.15 L157.84,380.38 L158.54,380.62 L159.25,380.88 L159.94,381.16 L160.64,381.44 L161.33,381.73 L162.01,382.03 L162.70,382.35 L163.37,382.67 L164.04,383.00 L164.71,383.34 L165.37,383.70 L166.03,384.06 L166.68,384.43 L167.33,384.81 L167.97,385.20 L168.60,385.60 L169.22,386.01 L169.84,386.43 L170.46,386.87 L171.06,387.31 L171.67,387.75 L172.26,388.21 L172.86,388.66 L173.45,389.13 L174.04,389.59 L174.62,390.06 L175.21,390.52 L175.80,390.99 L176.38,391.46 L176.97,391.92 L177.56,392.39 L178.15,392.85 L178.74,393.31 L179.33,393.77 L179.92,394.24 L180.51,394.70 L181.10,395.16 L181.69,395.63 L182.28,396.09 L182.87,396.56 L183.46,397.02 L184.04,397.49 L184.63,397.95 L185.22,398.42 L185.81,398.88 L186.40,399.34 L186.99,399.81 L187.59,400.27 L188.18,400.73 L188.77,401.19 L189.36,401.65 L189.95,402.11 L190.54,402.57 L191.13,403.04 L191.71,403.51 L192.29,403.98 L192.87,404.46 L193.45,404.94 L194.03,405.42 L194.60,405.91 L195.17,406.39 L195.73,406.88 L196.30,407.38 L196.86,407.87 L197.42,408.37 L197.97,408.88 L198.53,409.39 L199.08,409.90 L199.62,410.41 L200.17,410.93 L200.71,411.45 L201.24,411.97 L201.78,412.50 L202.31,413.03 L202.84,413.56 L203.36,414.09 L203.89,414.63 L204.41,415.17 L204.92,415.71 L205.44,416.26 L205.95,416.80 L206.46,417.35 L206.97,417.91 L207.48,418.46 L207.98,419.02 L208.48,419.58 L208.98,420.14 L209.47,420.70 L209.96,421.27 L210.45,421.83 L210.94,422.40 L211.43,422.98 L211.91,423.55 L212.39,424.13 L212.86,424.71 L213.34,425.29 L213.81,425.87 L214.28,426.46 L214.74,427.04 L215.21,427.63 L215.67,428.22 L216.14,428.81 L216.60,429.40 L217.07,429.99 L217.53,430.58 L218.00,431.16 L218.46,431.75 L218.93,432.34 L219.40,432.93 L219.87,433.51 L220.33,434.10 L220.80,434.68 L221.27,435.27 L221.74,435.86 L222.21,436.44 L222.68,437.03 L223.14,437.61 L223.61,438.20 L224.08,438.78 L224.55,439.37 L225.01,439.96 L225.48,440.55 L225.94,441.14 L226.40,441.73 L226.87,442.32 L227.33,442.91 L227.80,443.49 L228.26,444.08 L228.74,444.66 L229.22,445.24 L229.70,445.81 L230.20,446.37 L230.70,446.93 L231.21,447.48 L231.72,448.02 L232.25,448.56 L232.78,449.09 L233.32,449.61 L233.87,450.12 L234.43,450.61 L235.00,451.10 L235.58,451.57 L236.18,452.02 L236.78,452.46 L237.40,452.88 L238.03,453.28 L238.68,453.65 L239.34,453.99 L240.02,454.29 L240.71,454.54 L241.42,454.75 L242.15,454.91 L242.88,455.04 L243.62,455.14 L244.36,455.21 L245.11,455.26 L245.86,455.30 L246.61,455.33 L247.36,455.35 L248.11,455.36 L248.86,455.37 L249.61,455.37 L250.36,455.37 L251.11,455.36 L251.86,455.36 L252.61,455.35 L253.36,455.34 L254.11,455.32 L254.86,455.31 L255.61,455.30 L256.36,455.28 L257.11,455.27 L257.86,455.25 L258.60,455.24 L259.35,455.23 L260.10,455.21 L260.85,455.20 L260.85,455.20" fill="none" stroke="#1ba04c" stroke-width="1.90" stroke-linejoin="round" stroke-linecap="round"/>
<line x1="40.60" y1="354.50" x2="145.10" y2="354.50" stroke="#000" stroke-width="1.00" />
<line x1="143.50" y1="354.50" x2="143.50" y2="355.50" stroke="#000" stroke-width="1.00" />
<path d="M141.90,355.00 L145.10,355.00 L143.50,361.00 Z" fill="#000"/>
<line x1="96.00" y1="361.50" x2="165.80" y2="361.50" stroke="#000" stroke-width="1.00" />
<line x1="162.50" y1="361.50" x2="162.50" y2="371.70" stroke="#000" stroke-width="1.00" />
<path d="M160.70,371.20 L164.30,371.20 L162.50,378.00 Z" fill="#000"/>
<line x1="134.50" y1="378.50" x2="204.00" y2="378.50" stroke="#000" stroke-width="1.00" />
<line x1="190.50" y1="378.50" x2="190.50" y2="389.50" stroke="#000" stroke-width="1.00" />
<path d="M188.70,389.00 L192.30,389.00 L190.50,395.80 Z" fill="#000"/>
<line x1="171.40" y1="396.50" x2="243.90" y2="396.50" stroke="#000" stroke-width="1.00" />
<line x1="237.50" y1="396.50" x2="237.50" y2="446.70" stroke="#000" stroke-width="1.00" />
<path d="M235.70,446.20 L239.30,446.20 L237.50,453.00 Z" fill="#000"/>
<text x="161.30" y="359.20" font-size="9.00" text-anchor="middle" font-weight="bold" >I</text>
<text x="175.30" y="372.90" font-size="9.00" text-anchor="middle" font-weight="bold" >II</text>
<text x="208.50" y="394.40" font-size="9.00" text-anchor="middle" font-weight="bold" >III</text>
<text x="246.00" y="429.90" font-size="9.00" text-anchor="middle" font-weight="bold" >IV</text>
<rect x="43.10" y="426.30" width="46.90" height="38.70" fill="#fff" stroke="#b8b8b8" stroke-width="0.8"/>
<line x1="46.00" y1="431.20" x2="63.50" y2="431.20" stroke="#353535" stroke-width="1.60" />
<text x="65.30" y="433.80" font-size="7.20" text-anchor="start" font-weight="bold" >S-0.5D</text>
<line x1="46.00" y1="441.00" x2="63.50" y2="441.00" stroke="#f0282a" stroke-width="1.60" />
<text x="65.30" y="443.60" font-size="7.20" text-anchor="start" font-weight="bold" >S-1.0D</text>
<line x1="46.00" y1="450.90" x2="63.50" y2="450.90" stroke="#1f66e2" stroke-width="1.60" />
<text x="65.30" y="453.50" font-size="7.20" text-anchor="start" font-weight="bold" >S-1.5D</text>
<line x1="46.00" y1="460.70" x2="63.50" y2="460.70" stroke="#1ba04c" stroke-width="1.60" />
<text x="65.30" y="463.30" font-size="7.20" text-anchor="start" font-weight="bold" >S-2.0D</text>
<line x1="347.60" y1="56.70" x2="347.60" y2="148.00" stroke="#000" stroke-width="1.70" stroke-dasharray="5.6,4.4"/>
<line x1="406.50" y1="55.00" x2="406.50" y2="148.00" stroke="#000" stroke-width="1.70" stroke-dasharray="5.6,4.4"/>
<line x1="462.30" y1="58.00" x2="462.30" y2="148.00" stroke="#000" stroke-width="1.70" stroke-dasharray="5.6,4.4"/>
<line x1="510.10" y1="35.40" x2="510.10" y2="148.00" stroke="#000" stroke-width="1.70" stroke-dasharray="5.6,4.4"/>
<path d="M314.20,59.60 L314.82,59.18 L315.44,58.76 L316.07,58.36 L316.71,57.97 L317.37,57.61 L318.03,57.26 L318.71,56.93 L319.39,56.62 L320.08,56.32 L320.77,56.04 L321.47,55.78 L322.18,55.54 L322.90,55.33 L323.63,55.14 L324.36,54.99 L325.10,54.88 L325.84,54.80 L326.59,54.75 L327.33,54.73 L328.08,54.71 L328.83,54.70 L329.58,54.69 L330.33,54.69 L331.08,54.69 L331.83,54.69 L332.58,54.69 L333.33,54.69 L334.08,54.70 L334.83,54.70 L335.58,54.71 L336.33,54.72 L337.08,54.73 L337.83,54.74 L338.58,54.75 L339.33,54.76 L340.08,54.78 L340.83,54.79 L341.58,54.81 L342.33,54.83 L343.08,54.85 L343.83,54.88 L344.58,54.90 L345.33,54.93 L346.08,54.97 L346.83,55.00 L347.58,55.05 L348.33,55.09 L349.07,55.15 L349.82,55.21 L350.57,55.27 L351.32,55.34 L352.06,55.41 L352.81,55.49 L353.55,55.57 L354.30,55.65 L355.05,55.73 L355.79,55.82 L356.54,55.90 L357.28,55.99 L358.03,56.08 L358.77,56.16 L359.52,56.24 L360.26,56.31 L361.01,56.38 L361.76,56.44 L362.51,56.48 L363.25,56.52 L364.00,56.55 L364.75,56.57 L365.50,56.60 L366.25,56.65 L367.00,56.71 L367.74,56.79 L368.48,56.90 L369.22,57.03 L369.96,57.18 L370.69,57.34 L371.42,57.51 L372.14,57.70 L372.87,57.89 L373.59,58.09 L374.31,58.31 L375.03,58.53 L375.74,58.76 L376.45,59.01 L377.15,59.27 L377.85,59.53 L378.55,59.81 L379.24,60.09 L379.94,60.37 L380.63,60.65 L381.33,60.94 L382.02,61.22 L382.72,61.50 L383.41,61.79 L384.09,62.10 L384.78,62.40 L385.46,62.71 L386.15,63.00 L386.85,63.28 L387.55,63.53 L388.27,63.74 L388.99,63.90 L389.73,64.02 L390.47,64.08 L391.22,64.10 L391.97,64.07 L392.71,64.02 L393.46,63.93 L394.20,63.83 L394.94,63.72 L395.68,63.61 L396.43,63.50 L397.17,63.40 L397.91,63.31 L398.66,63.23 L399.41,63.16 L400.15,63.10 L400.90,63.03 L401.65,62.97 L402.39,62.91 L403.14,62.85 L403.89,62.79 L404.64,62.74 L405.39,62.69 L406.13,62.65 L406.88,62.62 L407.63,62.60 L408.38,62.59 L409.13,62.60 L409.88,62.62 L410.63,62.66 L411.38,62.72 L412.12,62.79 L412.87,62.87 L413.61,62.97 L414.35,63.09 L415.09,63.22 L415.83,63.36 L416.56,63.52 L417.29,63.69 L418.02,63.88 L418.74,64.07 L419.46,64.27 L420.18,64.49 L420.90,64.71 L421.61,64.95 L422.32,65.19 L423.02,65.45 L423.72,65.72 L424.41,66.00 L425.10,66.30 L425.79,66.60 L426.46,66.93 L427.13,67.26 L427.79,67.62 L428.44,67.99 L429.09,68.38 L429.72,68.78 L430.34,69.20 L430.95,69.64 L431.55,70.08 L432.16,70.52 L432.76,70.97 L433.35,71.43 L433.95,71.88 L434.56,72.33 L435.16,72.77 L435.77,73.20 L436.39,73.62 L437.02,74.03 L437.66,74.43 L438.30,74.81 L438.95,75.19 L439.60,75.56 L440.26,75.92 L440.92,76.26 L441.60,76.59 L442.28,76.89 L442.98,77.17 L443.68,77.43 L444.39,77.66 L445.11,77.87 L445.84,78.06 L446.57,78.23 L447.30,78.38 L448.04,78.52 L448.78,78.64 L449.52,78.75 L450.26,78.85 L451.01,78.94 L451.75,79.02 L452.50,79.09 L453.25,79.14 L453.99,79.17 L454.74,79.15 L455.49,79.11 L456.23,79.03 L456.97,78.95 L457.72,78.89 L458.46,78.88 L459.19,78.95 L459.89,79.13 L460.57,79.40 L461.21,79.76 L461.80,80.20 L462.35,80.70 L462.86,81.25 L463.33,81.82 L463.79,82.42 L464.22,83.03 L464.63,83.65 L465.03,84.29 L465.40,84.94 L465.77,85.59 L466.11,86.26 L466.45,86.93 L466.78,87.60 L467.11,88.28 L467.42,88.96 L467.74,89.64 L468.05,90.32 L468.36,91.00 L468.67,91.68 L468.98,92.37 L469.29,93.05 L469.59,93.74 L469.88,94.43 L470.18,95.12 L470.46,95.81 L470.75,96.50 L471.04,97.20 L471.32,97.89 L471.60,98.59 L471.89,99.28 L472.18,99.97 L472.47,100.66 L472.77,101.35 L473.07,102.04 L473.37,102.72 L473.68,103.41 L473.99,104.09 L474.31,104.77 L474.62,105.45 L474.94,106.13 L475.26,106.81 L475.59,107.48 L475.92,108.16 L476.25,108.83 L476.60,109.49 L476.95,110.15 L477.32,110.80 L477.72,111.44 L478.14,112.05 L478.61,112.62 L479.13,113.12 L479.72,113.51 L480.38,113.76 L481.08,113.88 L481.80,113.87 L482.52,113.76 L483.21,113.54 L483.85,113.21 L484.43,112.77 L484.94,112.25 L485.39,111.66 L485.78,111.03 L486.13,110.38 L486.46,109.70 L486.76,109.02 L487.05,108.32 L487.32,107.63 L487.59,106.92 L487.84,106.22 L488.09,105.51 L488.34,104.80 L488.57,104.09 L488.81,103.38 L489.04,102.66 L489.26,101.95 L489.49,101.23 L489.71,100.52 L489.92,99.80 L490.13,99.08 L490.34,98.36 L490.54,97.64 L490.73,96.91 L490.92,96.18 L491.11,95.46 L491.29,94.73 L491.46,94.00 L491.64,93.27 L491.81,92.54 L491.98,91.81 L492.15,91.08 L492.32,90.35 L492.49,89.62 L492.65,88.89 L492.82,88.16 L493.00,87.43 L493.17,86.70 L493.34,85.97 L493.52,85.24 L493.69,84.51 L493.86,83.78 L494.03,83.05 L494.19,82.31 L494.35,81.58 L494.50,80.85 L494.65,80.11 L494.81,79.38 L494.96,78.65 L495.12,77.91 L495.28,77.18 L495.44,76.45 L495.61,75.72 L495.79,74.99 L495.97,74.26 L496.17,73.54 L496.37,72.82 L496.59,72.10 L496.82,71.39 L497.07,70.68 L497.33,69.98 L497.61,69.28 L497.90,68.59 L498.20,67.90 L498.51,67.22 L498.83,66.54 L499.17,65.87 L499.51,65.20 L499.85,64.54 L500.21,63.88 L500.57,63.22 L500.94,62.57 L501.31,61.92 L501.69,61.27 L502.08,60.63 L502.47,59.99 L502.87,59.35 L503.27,58.72 L503.68,58.09 L504.09,57.47 L504.51,56.84 L504.93,56.22 L505.36,55.61 L505.80,55.00 L506.25,54.40 L506.72,53.83 L507.23,53.28 L507.78,52.79 L508.38,52.35 L509.02,51.99 L509.70,51.72 L510.41,51.53 L511.14,51.43 L511.88,51.40 L512.62,51.45 L513.36,51.54 L514.10,51.66 L514.84,51.81 L515.57,51.96 L516.30,52.12 L517.04,52.27 L517.77,52.41 L518.51,52.53 L519.26,52.64 L520.00,52.73 L520.74,52.81 L521.49,52.89 L522.24,52.96 L522.98,53.03 L523.73,53.11 L524.48,53.17 L525.22,53.24 L525.97,53.31 L526.72,53.38 L527.46,53.45 L528.21,53.52 L528.96,53.58 L529.71,53.65 L530.45,53.72 L531.20,53.78 L531.95,53.85 L532.69,53.92 L533.44,53.99 L533.44,53.99" fill="none" stroke="#353535" stroke-width="1.90" stroke-linejoin="round" stroke-linecap="round"/>
<path d="M314.20,64.00 L314.56,63.34 L314.91,62.68 L315.27,62.02 L315.63,61.36 L316.01,60.72 L316.40,60.08 L316.83,59.47 L317.29,58.88 L317.79,58.34 L318.34,57.84 L318.94,57.39 L319.56,56.99 L320.21,56.61 L320.87,56.27 L321.54,55.93 L322.22,55.62 L322.91,55.33 L323.61,55.09 L324.33,54.93 L325.06,54.86 L325.79,54.88 L326.52,54.97 L327.26,55.08 L328.00,55.18 L328.74,55.24 L329.49,55.27 L330.24,55.28 L330.99,55.28 L331.74,55.27 L332.49,55.25 L333.24,55.23 L333.99,55.20 L334.73,55.17 L335.48,55.15 L336.23,55.12 L336.98,55.09 L337.73,55.07 L338.48,55.04 L339.23,55.02 L339.98,55.00 L340.73,54.98 L341.48,54.96 L342.23,54.95 L342.98,54.94 L343.73,54.94 L344.48,54.94 L345.23,54.96 L345.98,54.98 L346.73,55.01 L347.48,55.05 L348.23,55.10 L348.97,55.16 L349.72,55.23 L350.47,55.31 L351.21,55.40 L351.95,55.49 L352.70,55.60 L353.44,55.70 L354.18,55.81 L354.92,55.93 L355.66,56.05 L356.40,56.17 L357.14,56.29 L357.88,56.41 L358.62,56.53 L359.37,56.64 L360.11,56.75 L360.85,56.86 L361.59,56.95 L362.34,57.04 L363.08,57.12 L363.83,57.20 L364.58,57.27 L365.32,57.35 L366.07,57.43 L366.81,57.53 L367.55,57.64 L368.29,57.77 L369.03,57.91 L369.76,58.06 L370.49,58.22 L371.22,58.39 L371.95,58.57 L372.68,58.75 L373.40,58.95 L374.12,59.16 L374.84,59.37 L375.55,59.60 L376.26,59.85 L376.97,60.11 L377.67,60.38 L378.36,60.65 L379.06,60.94 L379.75,61.22 L380.45,61.50 L381.14,61.78 L381.84,62.05 L382.54,62.32 L383.25,62.58 L383.95,62.85 L384.65,63.12 L385.35,63.38 L386.05,63.64 L386.76,63.88 L387.48,64.09 L388.20,64.27 L388.94,64.42 L389.68,64.53 L390.42,64.60 L391.17,64.63 L391.92,64.64 L392.66,64.61 L393.41,64.56 L394.16,64.51 L394.91,64.44 L395.65,64.37 L396.40,64.30 L397.15,64.23 L397.89,64.17 L398.64,64.12 L399.39,64.07 L400.14,64.02 L400.89,63.98 L401.64,63.92 L402.38,63.87 L403.13,63.82 L403.88,63.77 L404.63,63.72 L405.38,63.68 L406.13,63.66 L406.88,63.64 L407.63,63.63 L408.38,63.65 L409.12,63.68 L409.87,63.74 L410.61,63.82 L411.36,63.93 L412.09,64.06 L412.83,64.22 L413.56,64.39 L414.28,64.57 L415.01,64.77 L415.73,64.98 L416.45,65.19 L417.17,65.40 L417.89,65.61 L418.61,65.81 L419.33,66.01 L420.06,66.20 L420.78,66.38 L421.51,66.57 L422.24,66.76 L422.96,66.95 L423.69,67.15 L424.41,67.35 L425.12,67.57 L425.84,67.80 L426.54,68.05 L427.24,68.32 L427.93,68.60 L428.62,68.91 L429.29,69.24 L429.96,69.58 L430.61,69.94 L431.26,70.32 L431.90,70.72 L432.53,71.12 L433.14,71.55 L433.75,71.99 L434.34,72.45 L434.92,72.93 L435.47,73.43 L436.00,73.96 L436.50,74.51 L436.97,75.09 L437.43,75.69 L437.88,76.29 L438.33,76.89 L438.79,77.48 L439.27,78.05 L439.78,78.59 L440.33,79.09 L440.92,79.55 L441.54,79.95 L442.19,80.31 L442.87,80.63 L443.56,80.91 L444.27,81.16 L444.98,81.40 L445.69,81.62 L446.41,81.83 L447.13,82.04 L447.85,82.26 L448.57,82.47 L449.29,82.68 L450.01,82.88 L450.74,83.08 L451.46,83.27 L452.19,83.45 L452.92,83.62 L453.65,83.77 L454.39,83.91 L455.13,84.02 L455.87,84.10 L456.62,84.14 L457.36,84.14 L458.11,84.14 L458.86,84.15 L459.60,84.22 L460.33,84.34 L461.05,84.51 L461.76,84.74 L462.45,85.03 L463.09,85.38 L463.70,85.80 L464.26,86.29 L464.78,86.82 L465.25,87.40 L465.69,88.00 L466.11,88.62 L466.51,89.25 L466.89,89.90 L467.26,90.55 L467.61,91.21 L467.96,91.87 L468.31,92.54 L468.65,93.21 L468.98,93.88 L469.30,94.56 L469.62,95.24 L469.93,95.92 L470.23,96.61 L470.53,97.30 L470.82,97.99 L471.10,98.68 L471.39,99.38 L471.67,100.07 L471.95,100.77 L472.23,101.46 L472.51,102.16 L472.80,102.85 L473.08,103.54 L473.37,104.24 L473.66,104.93 L473.95,105.62 L474.23,106.32 L474.51,107.01 L474.79,107.71 L475.07,108.40 L475.35,109.10 L475.63,109.80 L475.91,110.49 L476.20,111.18 L476.50,111.87 L476.80,112.55 L477.12,113.23 L477.45,113.90 L477.81,114.57 L478.18,115.21 L478.59,115.84 L479.02,116.45 L479.50,117.01 L480.03,117.51 L480.62,117.92 L481.27,118.20 L481.97,118.34 L482.68,118.34 L483.38,118.19 L484.05,117.93 L484.67,117.56 L485.25,117.10 L485.76,116.57 L486.23,115.99 L486.64,115.37 L487.02,114.73 L487.36,114.07 L487.68,113.39 L487.98,112.70 L488.26,112.00 L488.53,111.30 L488.78,110.60 L489.03,109.89 L489.27,109.18 L489.51,108.47 L489.75,107.76 L489.97,107.04 L490.20,106.33 L490.41,105.61 L490.62,104.89 L490.83,104.17 L491.03,103.45 L491.23,102.72 L491.43,102.00 L491.62,101.28 L491.81,100.55 L492.01,99.83 L492.19,99.10 L492.38,98.37 L492.57,97.65 L492.75,96.92 L492.94,96.19 L493.13,95.47 L493.31,94.74 L493.50,94.01 L493.68,93.29 L493.87,92.56 L494.06,91.84 L494.25,91.11 L494.43,90.38 L494.62,89.66 L494.80,88.93 L494.98,88.20 L495.17,87.47 L495.34,86.75 L495.52,86.02 L495.70,85.29 L495.88,84.56 L496.06,83.83 L496.23,83.10 L496.41,82.37 L496.59,81.65 L496.78,80.92 L496.96,80.19 L497.15,79.47 L497.34,78.74 L497.54,78.02 L497.74,77.29 L497.94,76.57 L498.14,75.85 L498.35,75.13 L498.55,74.41 L498.76,73.69 L498.96,72.96 L499.17,72.24 L499.37,71.52 L499.58,70.80 L499.79,70.08 L500.00,69.36 L500.21,68.64 L500.43,67.92 L500.65,67.21 L500.88,66.49 L501.12,65.78 L501.36,65.07 L501.62,64.37 L501.88,63.67 L502.15,62.97 L502.44,62.28 L502.74,61.59 L503.06,60.91 L503.38,60.23 L503.71,59.56 L504.04,58.89 L504.38,58.22 L504.73,57.55 L505.09,56.90 L505.47,56.25 L505.86,55.61 L506.28,54.99 L506.72,54.39 L507.19,53.81 L507.70,53.26 L508.25,52.76 L508.83,52.30 L509.45,51.90 L510.11,51.57 L510.80,51.31 L511.52,51.13 L512.25,51.01 L513.00,50.94 L513.74,50.93 L514.49,50.96 L515.24,51.01 L515.98,51.10 L516.72,51.20 L517.46,51.32 L518.20,51.44 L518.94,51.58 L519.68,51.72 L520.41,51.86 L521.15,52.00 L521.89,52.15 L522.62,52.29 L523.36,52.44 L524.09,52.61 L524.81,52.79 L525.54,52.98 L526.26,53.18 L526.98,53.39 L527.70,53.60 L528.42,53.82 L529.13,54.05 L529.85,54.28 L530.56,54.51 L531.27,54.75 L531.98,54.98 L532.70,55.21 L533.41,55.44 L533.41,55.44" fill="none" stroke="#f0282a" stroke-width="1.90" stroke-linejoin="round" stroke-linecap="round"/>
<path d="M314.20,60.20 L314.85,59.83 L315.50,59.46 L316.16,59.10 L316.83,58.76 L317.51,58.44 L318.20,58.16 L318.90,57.92 L319.62,57.70 L320.35,57.51 L321.07,57.34 L321.81,57.18 L322.54,57.04 L323.28,56.91 L324.02,56.78 L324.76,56.66 L325.50,56.54 L326.24,56.43 L326.99,56.32 L327.73,56.22 L328.47,56.13 L329.22,56.04 L329.96,55.95 L330.71,55.87 L331.45,55.80 L332.20,55.73 L332.95,55.67 L333.70,55.61 L334.44,55.55 L335.19,55.50 L335.94,55.45 L336.69,55.39 L337.44,55.34 L338.19,55.30 L338.93,55.25 L339.68,55.21 L340.43,55.17 L341.18,55.13 L341.93,55.10 L342.68,55.07 L343.43,55.05 L344.18,55.03 L344.93,55.02 L345.68,55.01 L346.43,55.01 L347.18,55.01 L347.93,55.02 L348.68,55.04 L349.43,55.06 L350.18,55.09 L350.93,55.12 L351.68,55.15 L352.42,55.19 L353.17,55.23 L353.92,55.27 L354.67,55.32 L355.42,55.37 L356.17,55.42 L356.92,55.47 L357.66,55.53 L358.41,55.58 L359.16,55.64 L359.91,55.70 L360.65,55.77 L361.40,55.84 L362.15,55.92 L362.89,56.02 L363.63,56.13 L364.37,56.25 L365.11,56.37 L365.85,56.50 L366.59,56.61 L367.33,56.70 L368.08,56.76 L368.83,56.80 L369.58,56.81 L370.33,56.80 L371.07,56.77 L371.82,56.75 L372.57,56.73 L373.32,56.73 L374.07,56.75 L374.82,56.79 L375.56,56.87 L376.30,56.97 L377.04,57.09 L377.78,57.24 L378.51,57.40 L379.24,57.58 L379.96,57.78 L380.68,57.99 L381.39,58.23 L382.10,58.48 L382.79,58.75 L383.48,59.05 L384.16,59.37 L384.83,59.70 L385.49,60.05 L386.15,60.40 L386.81,60.76 L387.47,61.12 L388.14,61.47 L388.81,61.81 L389.48,62.13 L390.16,62.45 L390.84,62.76 L391.53,63.06 L392.22,63.35 L392.91,63.64 L393.61,63.91 L394.32,64.17 L395.03,64.40 L395.74,64.62 L396.47,64.81 L397.20,64.98 L397.93,65.12 L398.67,65.23 L399.42,65.32 L400.16,65.39 L400.91,65.45 L401.66,65.50 L402.41,65.55 L403.15,65.60 L403.90,65.66 L404.65,65.73 L405.39,65.81 L406.14,65.91 L406.88,66.03 L407.61,66.16 L408.35,66.31 L409.08,66.46 L409.81,66.63 L410.54,66.82 L411.26,67.02 L411.98,67.23 L412.70,67.45 L413.41,67.69 L414.11,67.95 L414.81,68.22 L415.51,68.50 L416.20,68.80 L416.88,69.10 L417.57,69.40 L418.25,69.71 L418.94,70.01 L419.63,70.31 L420.32,70.59 L421.02,70.86 L421.72,71.12 L422.43,71.36 L423.15,71.58 L423.87,71.79 L424.59,71.99 L425.32,72.17 L426.05,72.35 L426.78,72.51 L427.51,72.67 L428.25,72.80 L428.99,72.92 L429.73,73.02 L430.48,73.09 L431.22,73.13 L431.97,73.13 L432.71,73.07 L433.45,72.97 L434.18,72.82 L434.91,72.64 L435.63,72.45 L436.36,72.28 L437.09,72.13 L437.83,72.03 L438.57,72.00 L439.31,72.03 L440.04,72.14 L440.77,72.31 L441.49,72.51 L442.20,72.75 L442.90,73.00 L443.61,73.26 L444.31,73.51 L445.03,73.74 L445.75,73.95 L446.47,74.12 L447.21,74.28 L447.94,74.41 L448.68,74.53 L449.42,74.64 L450.17,74.73 L450.91,74.81 L451.66,74.88 L452.41,74.93 L453.16,74.95 L453.90,74.95 L454.65,74.91 L455.40,74.83 L456.14,74.74 L456.88,74.64 L457.62,74.55 L458.37,74.50 L459.11,74.51 L459.84,74.59 L460.56,74.76 L461.25,75.01 L461.91,75.34 L462.54,75.73 L463.13,76.18 L463.68,76.68 L464.20,77.22 L464.70,77.78 L465.18,78.35 L465.64,78.94 L466.08,79.55 L466.50,80.17 L466.90,80.80 L467.28,81.44 L467.64,82.10 L467.99,82.77 L468.31,83.44 L468.61,84.13 L468.90,84.82 L469.18,85.52 L469.44,86.22 L469.69,86.93 L469.93,87.64 L470.16,88.35 L470.39,89.06 L470.61,89.78 L470.82,90.50 L471.03,91.22 L471.24,91.94 L471.44,92.66 L471.64,93.39 L471.84,94.11 L472.04,94.83 L472.23,95.56 L472.43,96.28 L472.62,97.01 L472.82,97.73 L473.01,98.45 L473.20,99.18 L473.40,99.90 L473.59,100.63 L473.78,101.35 L473.96,102.08 L474.15,102.81 L474.33,103.54 L474.51,104.26 L474.68,104.99 L474.86,105.72 L475.03,106.45 L475.20,107.18 L475.38,107.91 L475.55,108.64 L475.72,109.37 L475.90,110.10 L476.07,110.83 L476.25,111.56 L476.43,112.29 L476.61,113.02 L476.79,113.74 L476.98,114.47 L477.17,115.19 L477.37,115.92 L477.57,116.64 L477.78,117.36 L477.99,118.08 L478.21,118.80 L478.43,119.51 L478.66,120.23 L478.90,120.94 L479.13,121.65 L479.38,122.36 L479.63,123.07 L479.88,123.77 L480.15,124.47 L480.42,125.17 L480.69,125.87 L480.98,126.56 L481.27,127.25 L481.58,127.94 L481.89,128.62 L482.21,129.30 L482.55,129.97 L482.89,130.64 L483.23,131.30 L483.59,131.96 L483.95,132.62 L484.33,133.26 L484.72,133.90 L485.13,134.53 L485.56,135.14 L486.02,135.72 L486.54,136.23 L487.10,136.63 L487.71,136.85 L488.33,136.85 L488.91,136.60 L489.44,136.17 L489.88,135.62 L490.26,134.99 L490.60,134.32 L490.90,133.64 L491.18,132.94 L491.43,132.24 L491.67,131.53 L491.89,130.81 L492.09,130.09 L492.28,129.36 L492.45,128.64 L492.62,127.90 L492.78,127.17 L492.94,126.44 L493.09,125.70 L493.24,124.97 L493.38,124.23 L493.52,123.50 L493.66,122.76 L493.80,122.02 L493.94,121.28 L494.07,120.55 L494.21,119.81 L494.34,119.07 L494.47,118.33 L494.60,117.59 L494.72,116.85 L494.84,116.11 L494.96,115.37 L495.08,114.63 L495.20,113.89 L495.31,113.15 L495.42,112.41 L495.53,111.67 L495.65,110.93 L495.76,110.18 L495.87,109.44 L495.97,108.70 L496.08,107.96 L496.19,107.22 L496.30,106.47 L496.41,105.73 L496.52,104.99 L496.63,104.25 L496.74,103.51 L496.86,102.76 L496.97,102.02 L497.08,101.28 L497.20,100.54 L497.32,99.80 L497.44,99.06 L497.56,98.32 L497.67,97.58 L497.80,96.84 L497.92,96.10 L498.04,95.36 L498.16,94.62 L498.28,93.88 L498.40,93.14 L498.52,92.40 L498.65,91.66 L498.77,90.92 L498.89,90.18 L499.02,89.44 L499.14,88.70 L499.26,87.96 L499.39,87.22 L499.51,86.48 L499.64,85.74 L499.77,85.00 L499.89,84.26 L500.02,83.52 L500.15,82.78 L500.27,82.04 L500.40,81.31 L500.53,80.57 L500.65,79.83 L500.78,79.09 L500.90,78.35 L501.02,77.61 L501.15,76.87 L501.28,76.13 L501.41,75.39 L501.54,74.65 L501.68,73.92 L501.82,73.18 L501.97,72.44 L502.12,71.71 L502.28,70.98 L502.45,70.25 L502.62,69.52 L502.80,68.79 L502.98,68.06 L503.16,67.33 L503.35,66.61 L503.54,65.88 L503.73,65.16 L503.93,64.43 L504.13,63.71 L504.34,62.99 L504.55,62.27 L504.77,61.55 L505.00,60.84 L505.24,60.13 L505.48,59.42 L505.74,58.72 L506.01,58.02 L506.29,57.32 L506.58,56.63 L506.88,55.94 L507.19,55.26 L507.53,54.59 L507.89,53.94 L508.29,53.32 L508.75,52.74 L509.27,52.24 L509.85,51.85 L510.50,51.60 L511.20,51.52 L511.91,51.59 L512.61,51.76 L513.32,52.00 L514.01,52.27 L514.71,52.54 L515.42,52.78 L516.14,52.98 L516.87,53.16 L517.60,53.31 L518.34,53.45 L519.08,53.58 L519.82,53.69 L520.56,53.80 L521.30,53.89 L522.05,53.97 L522.79,54.05 L523.54,54.12 L524.29,54.18 L525.04,54.24 L525.78,54.29 L526.53,54.34 L527.28,54.39 L528.03,54.44 L528.78,54.49 L529.53,54.54 L530.27,54.59 L531.02,54.64 L531.77,54.68 L532.52,54.73 L533.27,54.78 L533.52,54.79" fill="none" stroke="#1f66e2" stroke-width="1.90" stroke-linejoin="round" stroke-linecap="round"/>
<path d="M314.20,68.40 L314.41,67.68 L314.61,66.96 L314.82,66.24 L315.03,65.52 L315.26,64.80 L315.49,64.09 L315.75,63.39 L316.03,62.70 L316.34,62.02 L316.68,61.35 L317.05,60.69 L317.44,60.05 L317.84,59.42 L318.27,58.81 L318.71,58.20 L319.16,57.60 L319.64,57.03 L320.13,56.46 L320.65,55.92 L321.19,55.41 L321.76,54.93 L322.36,54.48 L322.98,54.08 L323.64,53.74 L324.32,53.48 L325.02,53.33 L325.73,53.31 L326.43,53.43 L327.13,53.65 L327.82,53.92 L328.52,54.17 L329.23,54.37 L329.96,54.52 L330.70,54.62 L331.44,54.67 L332.19,54.71 L332.94,54.74 L333.69,54.76 L334.44,54.77 L335.19,54.78 L335.94,54.80 L336.69,54.81 L337.44,54.82 L338.19,54.83 L338.94,54.84 L339.69,54.85 L340.44,54.86 L341.19,54.87 L341.94,54.88 L342.69,54.89 L343.44,54.91 L344.19,54.92 L344.94,54.94 L345.69,54.96 L346.44,54.99 L347.19,55.01 L347.93,55.04 L348.68,55.07 L349.43,55.10 L350.18,55.13 L350.93,55.16 L351.68,55.19 L352.43,55.22 L353.18,55.26 L353.93,55.29 L354.68,55.33 L355.43,55.37 L356.18,55.41 L356.92,55.46 L357.67,55.51 L358.42,55.56 L359.17,55.62 L359.92,55.69 L360.66,55.77 L361.41,55.86 L362.15,55.96 L362.89,56.09 L363.62,56.23 L364.35,56.40 L365.08,56.59 L365.80,56.78 L366.52,56.99 L367.24,57.19 L367.97,57.37 L368.70,57.55 L369.43,57.72 L370.16,57.88 L370.89,58.05 L371.62,58.21 L372.35,58.39 L373.08,58.57 L373.80,58.77 L374.52,58.98 L375.24,59.21 L375.94,59.46 L376.64,59.73 L377.34,60.01 L378.02,60.31 L378.71,60.61 L379.39,60.92 L380.07,61.23 L380.76,61.54 L381.44,61.84 L382.13,62.14 L382.82,62.43 L383.52,62.72 L384.21,63.02 L384.90,63.31 L385.59,63.59 L386.29,63.87 L386.99,64.13 L387.70,64.38 L388.41,64.60 L389.13,64.80 L389.86,64.98 L390.59,65.13 L391.33,65.26 L392.07,65.37 L392.82,65.46 L393.56,65.54 L394.31,65.61 L395.06,65.67 L395.80,65.73 L396.55,65.77 L397.30,65.82 L398.05,65.85 L398.80,65.88 L399.55,65.90 L400.30,65.91 L401.05,65.91 L401.80,65.90 L402.55,65.88 L403.30,65.86 L404.05,65.83 L404.80,65.82 L405.55,65.81 L406.30,65.83 L407.04,65.86 L407.79,65.91 L408.54,65.98 L409.28,66.08 L410.02,66.19 L410.76,66.33 L411.49,66.48 L412.22,66.66 L412.94,66.86 L413.65,67.09 L414.35,67.35 L415.05,67.64 L415.72,67.95 L416.39,68.30 L417.03,68.67 L417.67,69.07 L418.30,69.48 L418.91,69.91 L419.53,70.33 L420.15,70.76 L420.77,71.18 L421.39,71.59 L422.03,71.99 L422.68,72.37 L423.33,72.74 L423.99,73.09 L424.66,73.43 L425.33,73.76 L426.00,74.09 L426.68,74.42 L427.36,74.74 L428.04,75.06 L428.71,75.38 L429.38,75.72 L430.05,76.06 L430.71,76.42 L431.36,76.79 L432.00,77.17 L432.66,77.54 L433.32,77.87 L434.00,78.15 L434.71,78.35 L435.43,78.44 L436.16,78.42 L436.88,78.30 L437.59,78.09 L438.28,77.83 L438.97,77.54 L439.66,77.24 L440.36,76.96 L441.05,76.69 L441.76,76.42 L442.46,76.17 L443.16,75.91 L443.87,75.65 L444.57,75.39 L445.27,75.13 L445.98,74.86 L446.68,74.60 L447.37,74.32 L448.07,74.03 L448.75,73.73 L449.42,73.41 L450.10,73.13 L450.79,72.93 L451.49,72.87 L452.18,72.96 L452.85,73.20 L453.51,73.52 L454.16,73.86 L454.83,74.17 L455.53,74.40 L456.25,74.55 L456.98,74.63 L457.72,74.70 L458.45,74.81 L459.16,74.99 L459.83,75.28 L460.46,75.66 L461.04,76.11 L461.58,76.61 L462.10,77.16 L462.58,77.73 L463.04,78.32 L463.49,78.92 L463.91,79.54 L464.33,80.16 L464.73,80.79 L465.12,81.43 L465.50,82.08 L465.86,82.73 L466.22,83.39 L466.57,84.06 L466.91,84.73 L467.24,85.40 L467.56,86.08 L467.87,86.76 L468.18,87.44 L468.47,88.13 L468.76,88.83 L469.04,89.52 L469.31,90.22 L469.57,90.92 L469.82,91.63 L470.07,92.34 L470.32,93.05 L470.56,93.76 L470.79,94.47 L471.02,95.18 L471.25,95.90 L471.48,96.61 L471.70,97.33 L471.93,98.04 L472.15,98.76 L472.37,99.48 L472.59,100.19 L472.81,100.91 L473.03,101.63 L473.26,102.34 L473.48,103.06 L473.69,103.78 L473.91,104.50 L474.12,105.22 L474.32,105.94 L474.53,106.66 L474.73,107.38 L474.93,108.10 L475.13,108.83 L475.34,109.55 L475.54,110.27 L475.74,110.99 L475.95,111.71 L476.15,112.43 L476.36,113.15 L476.58,113.87 L476.80,114.59 L477.03,115.30 L477.27,116.01 L477.51,116.72 L477.77,117.43 L478.04,118.12 L478.32,118.82 L478.61,119.51 L478.91,120.20 L479.22,120.88 L479.54,121.56 L479.88,122.23 L480.25,122.88 L480.64,123.51 L481.08,124.11 L481.57,124.63 L482.13,125.05 L482.75,125.30 L483.41,125.35 L484.05,125.19 L484.66,124.85 L485.21,124.39 L485.71,123.85 L486.17,123.26 L486.58,122.64 L486.97,122.00 L487.32,121.34 L487.66,120.67 L487.97,119.99 L488.26,119.30 L488.55,118.61 L488.81,117.91 L489.07,117.20 L489.32,116.50 L489.57,115.79 L489.81,115.08 L490.04,114.36 L490.27,113.65 L490.49,112.94 L490.72,112.22 L490.93,111.50 L491.15,110.78 L491.36,110.06 L491.57,109.34 L491.78,108.62 L491.97,107.90 L492.17,107.17 L492.36,106.45 L492.55,105.72 L492.73,105.00 L492.92,104.27 L493.10,103.54 L493.28,102.81 L493.46,102.08 L493.63,101.36 L493.81,100.63 L493.98,99.90 L494.16,99.17 L494.33,98.44 L494.51,97.71 L494.68,96.98 L494.86,96.25 L495.03,95.52 L495.21,94.79 L495.39,94.06 L495.57,93.34 L495.75,92.61 L495.93,91.88 L496.11,91.15 L496.30,90.43 L496.48,89.70 L496.66,88.97 L496.85,88.24 L497.03,87.52 L497.22,86.79 L497.40,86.06 L497.58,85.34 L497.77,84.61 L497.95,83.88 L498.14,83.15 L498.32,82.43 L498.50,81.70 L498.69,80.97 L498.87,80.25 L499.05,79.52 L499.23,78.79 L499.42,78.06 L499.60,77.34 L499.78,76.61 L499.96,75.88 L500.14,75.15 L500.31,74.42 L500.49,73.69 L500.66,72.96 L500.82,72.23 L500.98,71.50 L501.14,70.76 L501.29,70.03 L501.44,69.30 L501.60,68.56 L501.75,67.83 L501.91,67.10 L502.08,66.36 L502.26,65.64 L502.45,64.91 L502.65,64.19 L502.87,63.47 L503.11,62.76 L503.38,62.06 L503.66,61.37 L503.96,60.68 L504.28,60.01 L504.62,59.34 L504.97,58.67 L505.33,58.02 L505.70,57.36 L506.08,56.72 L506.45,56.07 L506.84,55.42 L507.22,54.78 L507.62,54.15 L508.03,53.52 L508.45,52.90 L508.88,52.28 L509.31,51.67 L509.73,51.05 L510.14,50.42 L510.53,49.78 L510.91,49.13 L511.29,48.49 L511.67,47.85 L512.08,47.22 L512.53,46.63 L513.03,46.08 L513.57,45.57 L514.16,45.13 L514.79,44.73 L515.45,44.38 L516.13,44.08 L516.83,43.81 L517.54,43.58 L518.26,43.40 L518.99,43.27 L519.73,43.21 L520.47,43.22 L521.20,43.32 L521.92,43.50 L522.63,43.73 L523.33,43.99 L524.02,44.28 L524.70,44.57 L525.37,44.89 L526.00,45.27 L526.57,45.72 L527.06,46.25 L527.49,46.85 L527.86,47.49 L528.21,48.15 L528.53,48.83 L528.83,49.52 L529.11,50.21 L529.39,50.91 L529.65,51.61 L529.91,52.31 L530.16,53.02 L530.40,53.73 L530.63,54.45 L530.85,55.16 L531.07,55.88 L531.27,56.60 L531.47,57.32 L531.67,58.05 L531.87,58.77 L532.06,59.50 L532.25,60.22 L532.43,60.95 L532.62,61.67 L532.81,62.40 L532.99,63.13 L533.18,63.85 L533.36,64.58 L533.55,65.31 L533.55,65.31" fill="none" stroke="#1ba04c" stroke-width="1.90" stroke-linejoin="round" stroke-linecap="round"/>
<text x="321.80" y="145.00" font-size="9.00" text-anchor="middle" font-weight="bold" >I</text>
<text x="373.30" y="144.30" font-size="9.00" text-anchor="middle" font-weight="bold" >II</text>
<text x="430.30" y="143.00" font-size="9.00" text-anchor="middle" font-weight="bold" >III</text>
<text x="478.70" y="143.20" font-size="9.00" text-anchor="middle" font-weight="bold" >IV</text>
<rect x="405.70" y="16.40" width="56.70" height="37.50" fill="#fff" stroke="#b8b8b8" stroke-width="0.8"/>
<line x1="408.30" y1="22.10" x2="425.20" y2="22.10" stroke="#353535" stroke-width="1.60" />
<text x="427.00" y="24.70" font-size="7.20" text-anchor="start" font-weight="bold" >S-1.25A/B</text>
<line x1="408.30" y1="31.10" x2="425.20" y2="31.10" stroke="#f0282a" stroke-width="1.60" />
<text x="427.00" y="33.70" font-size="7.20" text-anchor="start" font-weight="bold" >S-2.0A/B</text>
<line x1="408.30" y1="40.30" x2="425.20" y2="40.30" stroke="#1f66e2" stroke-width="1.60" />
<text x="427.00" y="42.90" font-size="7.20" text-anchor="start" font-weight="bold" >S-2.5A/B</text>
<line x1="408.30" y1="49.50" x2="425.20" y2="49.50" stroke="#1ba04c" stroke-width="1.60" />
<text x="427.00" y="52.10" font-size="7.20" text-anchor="start" font-weight="bold" >S-2.8A/B</text>
<line x1="341.70" y1="217.60" x2="341.70" y2="307.00" stroke="#000" stroke-width="1.70" stroke-dasharray="5.6,4.4"/>
<line x1="387.00" y1="213.20" x2="387.00" y2="307.00" stroke="#000" stroke-width="1.70" stroke-dasharray="5.6,4.4"/>
<line x1="458.50" y1="216.60" x2="458.50" y2="307.00" stroke="#000" stroke-width="1.70" stroke-dasharray="5.6,4.4"/>
<line x1="519.10" y1="209.00" x2="519.10" y2="307.00" stroke="#000" stroke-width="1.70" stroke-dasharray="5.6,4.4"/>
<path d="M314.60,218.60 L315.28,218.28 L315.96,217.97 L316.65,217.68 L317.35,217.41 L318.06,217.17 L318.78,216.97 L319.50,216.79 L320.24,216.65 L320.98,216.52 L321.72,216.40 L322.46,216.30 L323.20,216.21 L323.95,216.13 L324.70,216.07 L325.44,216.01 L326.19,215.97 L326.94,215.94 L327.69,215.92 L328.44,215.92 L329.19,215.93 L329.94,215.95 L330.69,215.98 L331.44,216.03 L332.19,216.08 L332.93,216.14 L333.68,216.20 L334.43,216.27 L335.18,216.34 L335.92,216.41 L336.67,216.47 L337.42,216.54 L338.16,216.60 L338.91,216.65 L339.66,216.71 L340.41,216.75 L341.16,216.80 L341.91,216.84 L342.66,216.87 L343.40,216.90 L344.15,216.93 L344.90,216.96 L345.65,216.99 L346.40,217.02 L347.15,217.04 L347.90,217.07 L348.65,217.09 L349.40,217.12 L350.15,217.14 L350.90,217.17 L351.65,217.19 L352.40,217.22 L353.15,217.24 L353.90,217.27 L354.65,217.29 L355.40,217.32 L356.15,217.35 L356.90,217.38 L357.65,217.41 L358.39,217.44 L359.14,217.47 L359.89,217.50 L360.64,217.53 L361.39,217.56 L362.14,217.59 L362.89,217.62 L363.64,217.65 L364.39,217.68 L365.14,217.71 L365.89,217.75 L366.64,217.78 L367.39,217.82 L368.14,217.86 L368.88,217.90 L369.63,217.95 L370.38,217.99 L371.13,218.04 L371.88,218.10 L372.63,218.15 L373.37,218.22 L374.12,218.28 L374.87,218.35 L375.61,218.43 L376.36,218.50 L377.10,218.58 L377.85,218.66 L378.60,218.75 L379.34,218.83 L380.09,218.91 L380.83,218.99 L381.58,219.07 L382.32,219.14 L383.07,219.22 L383.82,219.29 L384.57,219.35 L385.31,219.41 L386.06,219.46 L386.81,219.51 L387.56,219.55 L388.31,219.59 L389.06,219.61 L389.81,219.64 L390.56,219.66 L391.31,219.68 L392.06,219.69 L392.81,219.70 L393.56,219.71 L394.31,219.72 L395.06,219.72 L395.81,219.73 L396.56,219.74 L397.31,219.75 L398.06,219.76 L398.80,219.77 L399.55,219.79 L400.30,219.81 L401.05,219.82 L401.80,219.83 L402.55,219.84 L403.30,219.85 L404.05,219.86 L404.80,219.86 L405.55,219.87 L406.30,219.88 L407.05,219.89 L407.80,219.90 L408.55,219.92 L409.30,219.94 L410.05,219.97 L410.80,220.01 L411.55,220.05 L412.30,220.10 L413.05,220.17 L413.79,220.24 L414.54,220.32 L415.28,220.41 L416.03,220.51 L416.77,220.61 L417.51,220.72 L418.25,220.84 L418.99,220.97 L419.73,221.10 L420.47,221.23 L421.20,221.37 L421.94,221.52 L422.67,221.67 L423.41,221.82 L424.14,221.98 L424.87,222.15 L425.60,222.31 L426.33,222.49 L427.06,222.67 L427.79,222.86 L428.51,223.05 L429.23,223.26 L429.94,223.49 L430.65,223.73 L431.35,223.99 L432.05,224.28 L432.73,224.58 L433.41,224.90 L434.09,225.22 L434.76,225.54 L435.45,225.86 L436.13,226.16 L436.83,226.43 L437.53,226.68 L438.25,226.91 L438.97,227.12 L439.69,227.32 L440.42,227.50 L441.15,227.67 L441.88,227.83 L442.62,227.96 L443.36,228.07 L444.10,228.15 L444.85,228.21 L445.60,228.25 L446.35,228.26 L447.09,228.25 L447.84,228.21 L448.59,228.15 L449.33,228.06 L450.08,227.97 L450.82,227.86 L451.56,227.74 L452.30,227.62 L453.04,227.50 L453.78,227.37 L454.52,227.25 L455.26,227.14 L456.00,227.04 L456.75,226.95 L457.49,226.88 L458.24,226.83 L458.99,226.80 L459.74,226.79 L460.49,226.81 L461.24,226.84 L461.98,226.90 L462.73,226.98 L463.47,227.08 L464.20,227.23 L464.91,227.43 L465.58,227.71 L466.19,228.08 L466.74,228.55 L467.26,229.06 L467.78,229.59 L468.33,230.09 L468.91,230.56 L469.51,231.01 L470.12,231.45 L470.73,231.88 L471.35,232.30 L471.98,232.70 L472.63,233.08 L473.28,233.44 L473.95,233.78 L474.63,234.09 L475.33,234.37 L476.03,234.63 L476.74,234.85 L477.47,235.04 L478.20,235.18 L478.94,235.28 L479.68,235.33 L480.43,235.33 L481.17,235.29 L481.91,235.20 L482.65,235.06 L483.37,234.87 L484.07,234.63 L484.76,234.34 L485.42,234.00 L486.06,233.62 L486.67,233.19 L487.25,232.72 L487.82,232.23 L488.36,231.71 L488.88,231.18 L489.40,230.64 L489.90,230.08 L490.40,229.52 L490.89,228.95 L491.38,228.38 L491.86,227.81 L492.32,227.22 L492.78,226.63 L493.23,226.02 L493.66,225.41 L494.09,224.80 L494.52,224.18 L494.95,223.57 L495.38,222.95 L495.82,222.35 L496.27,221.75 L496.73,221.16 L497.22,220.59 L497.72,220.04 L498.25,219.51 L498.80,219.00 L499.37,218.51 L499.95,218.04 L500.56,217.61 L501.19,217.20 L501.83,216.83 L502.50,216.49 L503.19,216.19 L503.89,215.93 L504.60,215.71 L505.32,215.53 L506.06,215.38 L506.80,215.27 L507.54,215.18 L508.29,215.11 L509.03,215.06 L509.78,215.01 L510.53,214.97 L511.28,214.93 L512.03,214.89 L512.78,214.86 L513.53,214.83 L514.28,214.82 L515.03,214.81 L515.78,214.81 L516.53,214.82 L517.28,214.83 L518.03,214.85 L518.78,214.87 L519.53,214.90 L520.28,214.93 L521.02,214.98 L521.77,215.02 L522.52,215.08 L523.27,215.13 L524.02,215.20 L524.76,215.26 L525.51,215.32 L526.26,215.38 L527.01,215.44 L527.75,215.50 L528.50,215.55 L529.25,215.60 L530.00,215.65 L530.75,215.70 L531.50,215.75 L532.24,215.79 L532.99,215.84 L533.74,215.88 L533.99,215.90" fill="none" stroke="#353535" stroke-width="1.90" stroke-linejoin="round" stroke-linecap="round"/>
<path d="M314.60,219.50 L315.27,219.16 L315.93,218.81 L316.61,218.48 L317.29,218.17 L317.98,217.89 L318.68,217.64 L319.40,217.42 L320.12,217.24 L320.86,217.08 L321.59,216.95 L322.33,216.84 L323.08,216.75 L323.82,216.67 L324.57,216.62 L325.32,216.57 L326.07,216.53 L326.82,216.50 L327.57,216.47 L328.32,216.45 L329.07,216.44 L329.82,216.43 L330.57,216.43 L331.32,216.42 L332.07,216.42 L332.82,216.43 L333.57,216.43 L334.32,216.43 L335.07,216.44 L335.82,216.45 L336.57,216.45 L337.32,216.46 L338.07,216.47 L338.82,216.48 L339.57,216.48 L340.32,216.49 L341.07,216.50 L341.82,216.51 L342.57,216.52 L343.32,216.52 L344.07,216.53 L344.82,216.54 L345.57,216.55 L346.32,216.56 L347.07,216.58 L347.82,216.59 L348.57,216.60 L349.32,216.61 L350.07,216.63 L350.82,216.64 L351.57,216.66 L352.31,216.67 L353.06,216.69 L353.81,216.71 L354.56,216.72 L355.31,216.74 L356.06,216.76 L356.81,216.78 L357.56,216.80 L358.31,216.82 L359.06,216.85 L359.81,216.87 L360.56,216.89 L361.31,216.92 L362.06,216.94 L362.81,216.97 L363.56,217.00 L364.31,217.02 L365.06,217.05 L365.81,217.08 L366.56,217.12 L367.31,217.15 L368.06,217.19 L368.81,217.22 L369.55,217.26 L370.30,217.30 L371.05,217.35 L371.80,217.39 L372.55,217.44 L373.30,217.49 L374.05,217.54 L374.79,217.60 L375.54,217.66 L376.29,217.72 L377.04,217.78 L377.78,217.85 L378.53,217.91 L379.28,217.98 L380.02,218.05 L380.77,218.11 L381.52,218.18 L382.27,218.25 L383.01,218.31 L383.76,218.38 L384.51,218.44 L385.25,218.50 L386.00,218.56 L386.75,218.62 L387.50,218.67 L388.25,218.72 L388.99,218.78 L389.74,218.83 L390.49,218.87 L391.24,218.92 L391.99,218.97 L392.74,219.02 L393.48,219.06 L394.23,219.11 L394.98,219.16 L395.73,219.21 L396.48,219.26 L397.23,219.31 L397.98,219.36 L398.72,219.41 L399.47,219.46 L400.22,219.52 L400.97,219.57 L401.72,219.63 L402.46,219.68 L403.21,219.74 L403.96,219.80 L404.71,219.85 L405.45,219.91 L406.20,219.97 L406.95,220.03 L407.70,220.09 L408.45,220.15 L409.19,220.21 L409.94,220.27 L410.69,220.34 L411.43,220.41 L412.18,220.48 L412.93,220.55 L413.67,220.62 L414.42,220.70 L415.17,220.78 L415.91,220.86 L416.66,220.95 L417.40,221.04 L418.14,221.14 L418.89,221.23 L419.63,221.33 L420.37,221.44 L421.12,221.54 L421.86,221.64 L422.60,221.74 L423.35,221.84 L424.09,221.94 L424.83,222.03 L425.58,222.12 L426.32,222.21 L427.07,222.29 L427.81,222.37 L428.56,222.44 L429.31,222.51 L430.06,222.57 L430.80,222.63 L431.55,222.68 L432.30,222.73 L433.05,222.78 L433.80,222.82 L434.55,222.86 L435.30,222.89 L436.04,222.93 L436.79,222.96 L437.54,222.99 L438.29,223.02 L439.04,223.05 L439.79,223.07 L440.54,223.10 L441.29,223.12 L442.04,223.15 L442.79,223.17 L443.54,223.20 L444.29,223.22 L445.04,223.24 L445.79,223.25 L446.54,223.27 L447.29,223.28 L448.04,223.29 L448.79,223.30 L449.54,223.31 L450.29,223.31 L451.04,223.32 L451.79,223.33 L452.54,223.34 L453.29,223.35 L454.04,223.36 L454.79,223.37 L455.54,223.39 L456.29,223.42 L457.04,223.45 L457.79,223.48 L458.53,223.52 L459.28,223.57 L460.03,223.63 L460.77,223.70 L461.51,223.81 L462.24,223.97 L462.94,224.20 L463.62,224.49 L464.27,224.85 L464.90,225.25 L465.49,225.70 L466.07,226.18 L466.63,226.68 L467.17,227.20 L467.71,227.72 L468.25,228.24 L468.79,228.76 L469.34,229.26 L469.91,229.76 L470.48,230.24 L471.07,230.71 L471.66,231.17 L472.25,231.63 L472.84,232.09 L473.43,232.56 L474.00,233.04 L474.56,233.53 L475.11,234.05 L475.63,234.58 L476.14,235.13 L476.62,235.71 L477.07,236.30 L477.51,236.91 L477.94,237.52 L478.36,238.14 L478.78,238.77 L479.20,239.39 L479.63,240.00 L480.07,240.61 L480.52,241.21 L481.00,241.78 L481.50,242.33 L482.04,242.85 L482.60,243.34 L483.19,243.80 L483.80,244.23 L484.44,244.61 L485.11,244.93 L485.80,245.17 L486.51,245.30 L487.23,245.32 L487.95,245.21 L488.63,244.98 L489.29,244.65 L489.90,244.24 L490.48,243.77 L491.02,243.26 L491.53,242.72 L492.02,242.15 L492.49,241.57 L492.95,240.97 L493.38,240.36 L493.80,239.74 L494.21,239.11 L494.59,238.47 L494.96,237.82 L495.31,237.16 L495.65,236.49 L495.98,235.82 L496.31,235.14 L496.63,234.46 L496.95,233.78 L497.27,233.10 L497.58,232.42 L497.90,231.74 L498.22,231.07 L498.54,230.39 L498.87,229.72 L499.21,229.05 L499.56,228.38 L499.91,227.72 L500.26,227.06 L500.61,226.40 L500.97,225.74 L501.33,225.08 L501.68,224.42 L502.04,223.76 L502.41,223.10 L502.78,222.45 L503.15,221.80 L503.54,221.16 L503.94,220.52 L504.35,219.89 L504.77,219.28 L505.22,218.68 L505.69,218.10 L506.19,217.54 L506.72,217.01 L507.27,216.52 L507.86,216.06 L508.48,215.65 L509.13,215.29 L509.81,214.97 L510.51,214.71 L511.22,214.48 L511.94,214.31 L512.68,214.17 L513.42,214.08 L514.16,214.03 L514.91,214.02 L515.66,214.03 L516.41,214.06 L517.16,214.10 L517.91,214.16 L518.65,214.22 L519.40,214.28 L520.15,214.35 L520.89,214.43 L521.64,214.53 L522.38,214.63 L523.12,214.74 L523.86,214.86 L524.60,214.99 L525.34,215.11 L526.08,215.24 L526.82,215.36 L527.56,215.47 L528.30,215.58 L529.05,215.68 L529.79,215.78 L530.53,215.87 L531.28,215.96 L532.02,216.06 L532.77,216.15 L533.51,216.24 L533.76,216.27" fill="none" stroke="#f0282a" stroke-width="1.90" stroke-linejoin="round" stroke-linecap="round"/>
<path d="M314.60,230.50 L314.77,229.77 L314.93,229.04 L315.10,228.31 L315.27,227.58 L315.47,226.85 L315.68,226.14 L315.94,225.44 L316.25,224.76 L316.61,224.11 L317.03,223.51 L317.51,222.94 L318.04,222.42 L318.61,221.95 L319.23,221.53 L319.87,221.15 L320.53,220.80 L321.21,220.49 L321.90,220.21 L322.61,219.95 L323.31,219.70 L324.03,219.48 L324.75,219.27 L325.47,219.08 L326.20,218.90 L326.93,218.73 L327.67,218.57 L328.40,218.43 L329.14,218.29 L329.88,218.17 L330.62,218.05 L331.36,217.95 L332.10,217.85 L332.85,217.77 L333.60,217.69 L334.34,217.62 L335.09,217.57 L335.84,217.52 L336.59,217.48 L337.34,217.44 L338.09,217.42 L338.84,217.40 L339.59,217.40 L340.34,217.40 L341.09,217.41 L341.83,217.44 L342.58,217.47 L343.33,217.51 L344.08,217.57 L344.83,217.63 L345.57,217.70 L346.32,217.78 L347.06,217.86 L347.81,217.96 L348.55,218.06 L349.29,218.16 L350.04,218.28 L350.78,218.40 L351.51,218.53 L352.25,218.67 L352.98,218.82 L353.71,218.99 L354.44,219.17 L355.17,219.37 L355.89,219.57 L356.61,219.78 L357.33,220.00 L358.05,220.21 L358.77,220.41 L359.49,220.60 L360.22,220.78 L360.95,220.94 L361.69,221.08 L362.43,221.19 L363.17,221.29 L363.92,221.37 L364.66,221.43 L365.41,221.49 L366.16,221.54 L366.91,221.59 L367.66,221.64 L368.40,221.70 L369.15,221.74 L369.90,221.78 L370.65,221.82 L371.40,221.85 L372.15,221.89 L372.90,221.94 L373.64,222.01 L374.38,222.11 L375.12,222.25 L375.84,222.44 L376.55,222.67 L377.24,222.95 L377.92,223.27 L378.58,223.61 L379.24,223.97 L379.89,224.33 L380.55,224.70 L381.21,225.06 L381.86,225.42 L382.52,225.79 L383.17,226.15 L383.83,226.51 L384.50,226.85 L385.18,227.16 L385.87,227.43 L386.58,227.67 L387.30,227.86 L388.03,228.02 L388.77,228.15 L389.51,228.26 L390.26,228.35 L391.00,228.42 L391.75,228.48 L392.50,228.53 L393.25,228.57 L394.00,228.59 L394.75,228.61 L395.50,228.61 L396.25,228.61 L397.00,228.59 L397.74,228.57 L398.49,228.54 L399.24,228.51 L399.99,228.47 L400.74,228.43 L401.49,228.38 L402.24,228.34 L402.99,228.28 L403.73,228.22 L404.48,228.15 L405.22,228.06 L405.97,227.97 L406.71,227.88 L407.46,227.79 L408.20,227.71 L408.95,227.64 L409.70,227.59 L410.45,227.55 L411.20,227.52 L411.95,227.51 L412.69,227.50 L413.44,227.50 L414.19,227.51 L414.94,227.52 L415.69,227.53 L416.44,227.55 L417.19,227.58 L417.94,227.62 L418.69,227.67 L419.44,227.73 L420.18,227.80 L420.93,227.89 L421.67,228.00 L422.40,228.14 L423.13,228.31 L423.86,228.50 L424.57,228.73 L425.27,229.00 L425.96,229.29 L426.63,229.61 L427.30,229.95 L427.96,230.31 L428.61,230.68 L429.26,231.06 L429.91,231.43 L430.56,231.80 L431.21,232.17 L431.87,232.52 L432.54,232.87 L433.20,233.22 L433.86,233.58 L434.52,233.93 L435.18,234.28 L435.84,234.64 L436.51,234.99 L437.17,235.34 L437.84,235.68 L438.51,236.01 L439.19,236.33 L439.87,236.63 L440.57,236.92 L441.27,237.19 L441.97,237.44 L442.69,237.67 L443.40,237.89 L444.13,238.08 L444.86,238.25 L445.59,238.39 L446.33,238.51 L447.07,238.59 L447.82,238.64 L448.57,238.66 L449.32,238.63 L450.06,238.58 L450.80,238.49 L451.55,238.38 L452.28,238.25 L453.02,238.12 L453.76,237.98 L454.50,237.84 L455.23,237.69 L455.96,237.53 L456.69,237.35 L457.41,237.19 L458.14,237.08 L458.86,237.07 L459.57,237.18 L460.25,237.42 L460.90,237.76 L461.51,238.17 L462.09,238.64 L462.64,239.14 L463.16,239.68 L463.66,240.23 L464.15,240.80 L464.63,241.38 L465.10,241.96 L465.55,242.56 L465.99,243.17 L466.41,243.79 L466.80,244.43 L467.16,245.08 L467.49,245.75 L467.80,246.43 L468.08,247.13 L468.34,247.83 L468.57,248.54 L468.78,249.26 L468.97,249.99 L469.15,250.72 L469.31,251.45 L469.46,252.18 L469.61,252.92 L469.75,253.65 L469.89,254.39 L470.03,255.13 L470.16,255.87 L470.30,256.60 L470.44,257.34 L470.58,258.08 L470.73,258.81 L470.88,259.55 L471.04,260.28 L471.21,261.01 L471.38,261.74 L471.57,262.46 L471.77,263.19 L471.97,263.91 L472.19,264.63 L472.42,265.34 L472.64,266.06 L472.88,266.77 L473.12,267.48 L473.36,268.19 L473.61,268.90 L473.86,269.60 L474.12,270.31 L474.37,271.01 L474.64,271.71 L474.90,272.42 L475.17,273.12 L475.45,273.81 L475.72,274.51 L476.00,275.21 L476.29,275.90 L476.58,276.59 L476.87,277.28 L477.17,277.97 L477.48,278.65 L477.79,279.34 L478.11,280.02 L478.43,280.69 L478.77,281.36 L479.11,282.03 L479.46,282.69 L479.82,283.35 L480.19,284.00 L480.56,284.65 L480.95,285.30 L481.34,285.93 L481.74,286.57 L482.16,287.19 L482.58,287.81 L483.02,288.42 L483.47,289.01 L483.94,289.60 L484.43,290.16 L484.96,290.68 L485.53,291.14 L486.14,291.49 L486.81,291.71 L487.52,291.78 L488.23,291.72 L488.94,291.55 L489.61,291.27 L490.24,290.90 L490.80,290.43 L491.31,289.90 L491.76,289.31 L492.16,288.69 L492.53,288.04 L492.88,287.37 L493.20,286.70 L493.51,286.01 L493.80,285.33 L494.09,284.63 L494.37,283.94 L494.64,283.24 L494.91,282.54 L495.17,281.83 L495.43,281.13 L495.68,280.42 L495.93,279.72 L496.18,279.01 L496.43,278.30 L496.67,277.59 L496.91,276.88 L497.14,276.17 L497.38,275.46 L497.61,274.74 L497.84,274.03 L498.07,273.31 L498.30,272.60 L498.52,271.88 L498.75,271.17 L498.97,270.45 L499.19,269.73 L499.40,269.02 L499.62,268.30 L499.83,267.58 L500.04,266.86 L500.25,266.14 L500.45,265.41 L500.64,264.69 L500.84,263.97 L501.03,263.24 L501.22,262.52 L501.40,261.79 L501.58,261.06 L501.76,260.33 L501.94,259.60 L502.12,258.88 L502.30,258.15 L502.47,257.42 L502.65,256.69 L502.82,255.96 L502.99,255.23 L503.16,254.50 L503.34,253.77 L503.51,253.04 L503.68,252.31 L503.85,251.58 L504.03,250.85 L504.20,250.12 L504.38,249.39 L504.56,248.66 L504.74,247.93 L504.92,247.21 L505.10,246.48 L505.29,245.75 L505.48,245.03 L505.67,244.30 L505.86,243.58 L506.06,242.85 L506.25,242.13 L506.45,241.40 L506.64,240.68 L506.83,239.96 L507.03,239.23 L507.22,238.51 L507.42,237.78 L507.61,237.06 L507.81,236.33 L508.00,235.61 L508.20,234.89 L508.40,234.16 L508.61,233.44 L508.81,232.72 L509.02,232.00 L509.23,231.28 L509.44,230.56 L509.65,229.84 L509.88,229.13 L510.10,228.41 L510.33,227.70 L510.57,226.99 L510.82,226.28 L511.07,225.57 L511.33,224.87 L511.61,224.17 L511.90,223.48 L512.20,222.80 L512.53,222.12 L512.87,221.45 L513.22,220.79 L513.60,220.15 L513.99,219.51 L514.40,218.88 L514.84,218.27 L515.29,217.67 L515.75,217.09 L516.24,216.51 L516.73,215.95 L517.25,215.41 L517.78,214.88 L518.34,214.40 L518.93,213.98 L519.58,213.68 L520.26,213.51 L520.95,213.52 L521.64,213.67 L522.30,213.96 L522.92,214.35 L523.51,214.81 L524.07,215.30 L524.61,215.82 L525.14,216.35 L525.67,216.88 L526.20,217.41 L526.73,217.93 L527.28,218.43 L527.85,218.86 L528.48,219.20 L529.16,219.42 L529.87,219.54 L530.61,219.58 L531.36,219.58 L532.11,219.57 L532.86,219.54 L533.61,219.51 L533.86,219.50" fill="none" stroke="#1f66e2" stroke-width="1.90" stroke-linejoin="round" stroke-linecap="round"/>
<path d="M314.60,223.20 L314.96,222.54 L315.33,221.89 L315.73,221.27 L316.19,220.70 L316.72,220.19 L317.30,219.75 L317.94,219.38 L318.62,219.08 L319.32,218.81 L320.03,218.58 L320.75,218.38 L321.48,218.20 L322.21,218.04 L322.94,217.89 L323.68,217.76 L324.42,217.65 L325.17,217.56 L325.91,217.47 L326.66,217.40 L327.41,217.35 L328.15,217.31 L328.90,217.27 L329.65,217.25 L330.40,217.23 L331.15,217.22 L331.90,217.22 L332.65,217.22 L333.40,217.23 L334.15,217.23 L334.90,217.25 L335.65,217.26 L336.40,217.27 L337.15,217.29 L337.90,217.31 L338.65,217.33 L339.40,217.35 L340.15,217.37 L340.90,217.39 L341.65,217.42 L342.40,217.44 L343.15,217.47 L343.90,217.49 L344.65,217.52 L345.40,217.56 L346.15,217.60 L346.90,217.64 L347.64,217.69 L348.39,217.74 L349.14,217.80 L349.89,217.87 L350.63,217.95 L351.38,218.03 L352.12,218.13 L352.86,218.24 L353.60,218.37 L354.34,218.51 L355.07,218.67 L355.80,218.84 L356.52,219.03 L357.24,219.24 L357.96,219.46 L358.67,219.70 L359.37,219.96 L360.07,220.23 L360.76,220.52 L361.45,220.83 L362.12,221.15 L362.80,221.48 L363.47,221.81 L364.14,222.14 L364.82,222.46 L365.51,222.76 L366.20,223.05 L366.90,223.33 L367.60,223.58 L368.31,223.83 L369.02,224.06 L369.74,224.28 L370.45,224.50 L371.18,224.70 L371.90,224.90 L372.62,225.09 L373.35,225.28 L374.08,225.45 L374.81,225.61 L375.55,225.77 L376.28,225.91 L377.02,226.05 L377.76,226.18 L378.50,226.31 L379.23,226.44 L379.97,226.58 L380.71,226.73 L381.44,226.89 L382.17,227.06 L382.90,227.23 L383.63,227.41 L384.36,227.59 L385.08,227.78 L385.81,227.96 L386.54,228.15 L387.26,228.33 L387.99,228.50 L388.72,228.68 L389.45,228.87 L390.17,229.05 L390.90,229.24 L391.63,229.42 L392.36,229.59 L393.09,229.75 L393.83,229.88 L394.57,229.97 L395.31,230.03 L396.06,230.05 L396.81,230.02 L397.55,229.96 L398.29,229.86 L399.03,229.74 L399.77,229.60 L400.51,229.46 L401.24,229.32 L401.98,229.17 L402.72,229.04 L403.45,228.90 L404.19,228.76 L404.93,228.63 L405.66,228.48 L406.40,228.34 L407.14,228.20 L407.88,228.06 L408.61,227.93 L409.35,227.81 L410.10,227.70 L410.84,227.60 L411.58,227.51 L412.33,227.43 L413.07,227.35 L413.82,227.27 L414.57,227.19 L415.31,227.12 L416.06,227.05 L416.81,226.99 L417.55,226.93 L418.30,226.88 L419.05,226.84 L419.80,226.80 L420.55,226.77 L421.30,226.76 L422.05,226.77 L422.80,226.81 L423.54,226.87 L424.28,226.97 L425.01,227.12 L425.73,227.31 L426.43,227.57 L427.11,227.87 L427.77,228.22 L428.42,228.59 L429.05,229.00 L429.67,229.42 L430.27,229.86 L430.87,230.32 L431.44,230.79 L432.01,231.28 L432.56,231.79 L433.11,232.30 L433.65,232.83 L434.17,233.36 L434.68,233.91 L435.18,234.47 L435.65,235.05 L436.11,235.64 L436.55,236.25 L436.98,236.86 L437.41,237.48 L437.84,238.09 L438.30,238.68 L438.78,239.25 L439.29,239.79 L439.84,240.30 L440.43,240.76 L441.05,241.16 L441.70,241.50 L442.39,241.75 L443.11,241.92 L443.84,242.00 L444.58,242.00 L445.32,241.93 L446.05,241.79 L446.77,241.61 L447.49,241.39 L448.19,241.13 L448.87,240.84 L449.54,240.50 L450.18,240.12 L450.80,239.71 L451.40,239.26 L451.98,238.79 L452.56,238.31 L453.14,237.84 L453.73,237.38 L454.34,236.96 L454.98,236.59 L455.66,236.30 L456.36,236.10 L457.08,236.00 L457.82,236.00 L458.55,236.10 L459.27,236.27 L459.97,236.51 L460.65,236.80 L461.32,237.14 L461.95,237.53 L462.56,237.96 L463.13,238.44 L463.69,238.94 L464.21,239.47 L464.72,240.02 L465.21,240.59 L465.68,241.17 L466.13,241.77 L466.56,242.38 L466.97,243.01 L467.35,243.65 L467.71,244.31 L468.04,244.98 L468.34,245.67 L468.62,246.36 L468.88,247.07 L469.11,247.78 L469.33,248.50 L469.53,249.22 L469.72,249.94 L469.91,250.67 L470.09,251.40 L470.27,252.12 L470.46,252.85 L470.65,253.58 L470.84,254.30 L471.05,255.02 L471.26,255.74 L471.49,256.45 L471.73,257.16 L471.98,257.87 L472.23,258.58 L472.50,259.28 L472.77,259.98 L473.04,260.68 L473.32,261.37 L473.60,262.07 L473.88,262.76 L474.17,263.46 L474.46,264.15 L474.75,264.84 L475.05,265.53 L475.35,266.21 L475.65,266.90 L475.96,267.58 L476.27,268.26 L476.59,268.94 L476.92,269.62 L477.25,270.29 L477.58,270.96 L477.93,271.63 L478.28,272.29 L478.64,272.95 L479.01,273.60 L479.39,274.25 L479.78,274.89 L480.17,275.53 L480.57,276.16 L480.99,276.79 L481.41,277.40 L481.84,278.02 L482.29,278.62 L482.75,279.21 L483.23,279.79 L483.73,280.34 L484.26,280.86 L484.82,281.34 L485.43,281.72 L486.09,282.00 L486.79,282.14 L487.51,282.15 L488.24,282.05 L488.95,281.87 L489.64,281.61 L490.29,281.27 L490.89,280.86 L491.44,280.36 L491.93,279.81 L492.36,279.21 L492.75,278.57 L493.10,277.91 L493.43,277.24 L493.73,276.55 L494.01,275.86 L494.28,275.16 L494.54,274.46 L494.80,273.75 L495.04,273.04 L495.27,272.33 L495.50,271.62 L495.73,270.90 L495.95,270.18 L496.17,269.47 L496.38,268.75 L496.59,268.03 L496.80,267.31 L497.00,266.58 L497.20,265.86 L497.40,265.14 L497.60,264.42 L497.80,263.69 L497.99,262.97 L498.18,262.24 L498.36,261.51 L498.54,260.78 L498.71,260.06 L498.88,259.33 L499.05,258.59 L499.22,257.86 L499.38,257.13 L499.55,256.40 L499.71,255.67 L499.87,254.93 L500.03,254.20 L500.19,253.47 L500.34,252.73 L500.50,252.00 L500.66,251.27 L500.82,250.54 L500.97,249.80 L501.13,249.07 L501.29,248.34 L501.45,247.60 L501.62,246.87 L501.78,246.14 L501.95,245.41 L502.11,244.68 L502.28,243.95 L502.46,243.22 L502.63,242.49 L502.81,241.76 L502.99,241.03 L503.18,240.30 L503.36,239.58 L503.54,238.85 L503.73,238.12 L503.91,237.40 L504.10,236.67 L504.28,235.94 L504.47,235.22 L504.66,234.49 L504.85,233.77 L505.04,233.04 L505.24,232.32 L505.43,231.59 L505.63,230.87 L505.83,230.15 L506.04,229.43 L506.25,228.71 L506.46,227.99 L506.68,227.27 L506.91,226.55 L507.14,225.84 L507.38,225.13 L507.62,224.42 L507.88,223.72 L508.15,223.02 L508.42,222.32 L508.70,221.62 L509.00,220.94 L509.31,220.25 L509.63,219.58 L509.97,218.91 L510.33,218.25 L510.71,217.61 L511.12,216.98 L511.55,216.37 L512.01,215.78 L512.50,215.21 L513.02,214.69 L513.59,214.20 L514.19,213.77 L514.83,213.40 L515.50,213.08 L516.20,212.82 L516.91,212.62 L517.64,212.48 L518.38,212.39 L519.13,212.37 L519.86,212.41 L520.59,212.54 L521.29,212.75 L521.96,213.06 L522.58,213.44 L523.16,213.91 L523.68,214.43 L524.14,215.00 L524.57,215.62 L524.95,216.26 L525.30,216.92 L525.64,217.59 L525.97,218.26 L526.30,218.93 L526.64,219.60 L526.98,220.27 L527.35,220.92 L527.74,221.55 L528.19,222.14 L528.70,222.65 L529.28,223.07 L529.92,223.38 L530.62,223.56 L531.35,223.64 L532.09,223.64 L532.83,223.59 L533.58,223.52 L533.83,223.49" fill="none" stroke="#1ba04c" stroke-width="1.90" stroke-linejoin="round" stroke-linecap="round"/>
<text x="328.70" y="303.20" font-size="9.00" text-anchor="middle" font-weight="bold" >I</text>
<text x="364.40" y="302.20" font-size="9.00" text-anchor="middle" font-weight="bold" >II</text>
<text x="423.40" y="302.90" font-size="9.00" text-anchor="middle" font-weight="bold" >III</text>
<text x="488.50" y="304.20" font-size="9.00" text-anchor="middle" font-weight="bold" >IV</text>
<rect x="402.70" y="177.40" width="50.00" height="36.90" fill="#fff" stroke="#b8b8b8" stroke-width="0.8"/>
<line x1="405.50" y1="182.30" x2="422.50" y2="182.30" stroke="#353535" stroke-width="1.60" />
<text x="424.30" y="184.90" font-size="7.20" text-anchor="start" font-weight="bold" >S-0.05H</text>
<line x1="405.50" y1="191.40" x2="422.50" y2="191.40" stroke="#f0282a" stroke-width="1.60" />
<text x="424.30" y="194.00" font-size="7.20" text-anchor="start" font-weight="bold" >S-0.1H</text>
<line x1="405.50" y1="200.50" x2="422.50" y2="200.50" stroke="#1f66e2" stroke-width="1.60" />
<text x="424.30" y="203.10" font-size="7.20" text-anchor="start" font-weight="bold" >S-0.5H</text>
<line x1="405.50" y1="209.80" x2="422.50" y2="209.80" stroke="#1ba04c" stroke-width="1.60" />
<text x="424.30" y="212.40" font-size="7.20" text-anchor="start" font-weight="bold" >S-1.5H</text>
<line x1="343.80" y1="374.50" x2="343.80" y2="467.50" stroke="#000" stroke-width="1.70" stroke-dasharray="5.6,4.4"/>
<line x1="411.60" y1="371.40" x2="411.60" y2="467.50" stroke="#000" stroke-width="1.70" stroke-dasharray="5.6,4.4"/>
<line x1="462.60" y1="372.60" x2="462.60" y2="467.50" stroke="#000" stroke-width="1.70" stroke-dasharray="5.6,4.4"/>
<line x1="508.50" y1="368.70" x2="508.50" y2="467.50" stroke="#000" stroke-width="1.70" stroke-dasharray="5.6,4.4"/>
<path d="M314.60,386.80 L314.68,386.05 L314.76,385.31 L314.85,384.57 L314.97,383.83 L315.12,383.10 L315.32,382.39 L315.61,381.72 L315.99,381.10 L316.46,380.56 L317.03,380.12 L317.67,379.77 L318.35,379.51 L319.07,379.30 L319.80,379.14 L320.53,379.00 L321.27,378.89 L322.02,378.79 L322.76,378.71 L323.51,378.64 L324.26,378.57 L325.00,378.51 L325.75,378.45 L326.50,378.39 L327.25,378.33 L327.99,378.27 L328.74,378.22 L329.49,378.16 L330.24,378.09 L330.98,378.03 L331.73,377.96 L332.48,377.89 L333.22,377.83 L333.97,377.76 L334.72,377.69 L335.47,377.63 L336.21,377.56 L336.96,377.50 L337.71,377.45 L338.46,377.40 L339.20,377.35 L339.95,377.31 L340.70,377.27 L341.45,377.24 L342.20,377.22 L342.95,377.21 L343.70,377.20 L344.45,377.19 L345.20,377.20 L345.95,377.20 L346.70,377.21 L347.45,377.23 L348.20,377.24 L348.95,377.27 L349.70,377.29 L350.45,377.32 L351.20,377.35 L351.95,377.38 L352.70,377.42 L353.45,377.46 L354.20,377.50 L354.94,377.54 L355.69,377.58 L356.44,377.63 L357.19,377.68 L357.94,377.73 L358.69,377.78 L359.43,377.83 L360.18,377.88 L360.93,377.93 L361.68,377.98 L362.43,378.04 L363.18,378.10 L363.92,378.16 L364.67,378.22 L365.42,378.29 L366.16,378.36 L366.91,378.44 L367.65,378.53 L368.40,378.62 L369.14,378.73 L369.88,378.84 L370.62,378.96 L371.36,379.09 L372.09,379.24 L372.83,379.40 L373.56,379.57 L374.28,379.75 L375.01,379.95 L375.73,380.16 L376.45,380.37 L377.16,380.59 L377.88,380.82 L378.59,381.06 L379.30,381.30 L380.01,381.55 L380.71,381.80 L381.42,382.05 L382.13,382.30 L382.83,382.55 L383.54,382.80 L384.25,383.05 L384.95,383.30 L385.66,383.57 L386.35,383.84 L387.04,384.13 L387.73,384.43 L388.42,384.73 L389.11,385.02 L389.81,385.29 L390.52,385.51 L391.24,385.68 L391.97,385.76 L392.70,385.75 L393.43,385.65 L394.14,385.46 L394.84,385.21 L395.53,384.93 L396.22,384.63 L396.91,384.35 L397.62,384.10 L398.33,383.86 L399.04,383.63 L399.76,383.42 L400.49,383.23 L401.21,383.07 L401.95,382.95 L402.69,382.88 L403.44,382.87 L404.18,382.90 L404.93,382.98 L405.66,383.10 L406.40,383.24 L407.13,383.41 L407.86,383.59 L408.58,383.80 L409.29,384.02 L410.00,384.27 L410.70,384.54 L411.39,384.82 L412.09,385.10 L412.78,385.38 L413.49,385.64 L414.20,385.87 L414.92,386.08 L415.64,386.26 L416.37,386.42 L417.11,386.57 L417.85,386.71 L418.58,386.85 L419.32,386.99 L420.06,387.13 L420.79,387.29 L421.52,387.45 L422.25,387.62 L422.98,387.80 L423.71,387.98 L424.43,388.17 L425.16,388.37 L425.88,388.57 L426.60,388.78 L427.32,389.00 L428.03,389.24 L428.74,389.48 L429.44,389.74 L430.14,390.01 L430.83,390.30 L431.52,390.59 L432.20,390.91 L432.86,391.25 L433.52,391.62 L434.15,392.02 L434.75,392.45 L435.34,392.92 L435.90,393.41 L436.44,393.93 L436.95,394.47 L437.44,395.04 L437.91,395.63 L438.35,396.23 L438.78,396.84 L439.18,397.47 L439.57,398.12 L439.93,398.77 L440.28,399.44 L440.61,400.11 L440.93,400.79 L441.25,401.47 L441.56,402.15 L441.87,402.83 L442.18,403.52 L442.50,404.19 L442.82,404.87 L443.16,405.54 L443.51,406.20 L443.87,406.86 L444.24,407.51 L444.62,408.16 L445.01,408.80 L445.40,409.44 L445.81,410.07 L446.23,410.69 L446.67,411.29 L447.14,411.87 L447.63,412.43 L448.16,412.96 L448.73,413.44 L449.34,413.86 L449.98,414.21 L450.66,414.47 L451.36,414.62 L452.07,414.63 L452.77,414.49 L453.44,414.22 L454.06,413.84 L454.65,413.40 L455.22,412.91 L455.76,412.40 L456.29,411.87 L456.81,411.33 L457.30,410.76 L457.78,410.19 L458.25,409.61 L458.74,409.06 L459.28,408.59 L459.88,408.25 L460.53,408.08 L461.20,408.09 L461.87,408.29 L462.51,408.62 L463.12,409.04 L463.69,409.51 L464.24,410.01 L464.76,410.55 L465.25,411.11 L465.71,411.71 L466.12,412.32 L466.51,412.97 L466.85,413.63 L467.16,414.31 L467.44,415.00 L467.69,415.71 L467.92,416.42 L468.13,417.14 L468.34,417.86 L468.54,418.58 L468.75,419.30 L468.95,420.03 L469.15,420.75 L469.37,421.47 L469.59,422.18 L469.82,422.89 L470.08,423.60 L470.35,424.30 L470.65,424.98 L470.97,425.66 L471.32,426.32 L471.69,426.97 L472.08,427.61 L472.48,428.24 L472.90,428.87 L473.33,429.48 L473.78,430.08 L474.23,430.68 L474.70,431.26 L475.18,431.84 L475.68,432.40 L476.18,432.96 L476.70,433.49 L477.25,434.01 L477.81,434.49 L478.41,434.92 L479.05,435.27 L479.72,435.49 L480.42,435.57 L481.13,435.51 L481.84,435.34 L482.54,435.10 L483.23,434.80 L483.89,434.47 L484.54,434.09 L485.15,433.67 L485.74,433.21 L486.29,432.71 L486.80,432.17 L487.28,431.59 L487.72,430.99 L488.13,430.37 L488.51,429.72 L488.87,429.07 L489.20,428.40 L489.52,427.72 L489.82,427.03 L490.11,426.34 L490.39,425.64 L490.66,424.95 L490.93,424.24 L491.19,423.54 L491.45,422.84 L491.70,422.13 L491.95,421.42 L492.20,420.71 L492.44,420.01 L492.68,419.30 L492.92,418.59 L493.16,417.88 L493.40,417.16 L493.64,416.45 L493.89,415.74 L494.13,415.03 L494.37,414.32 L494.61,413.62 L494.86,412.91 L495.10,412.20 L495.35,411.49 L495.59,410.78 L495.84,410.07 L496.08,409.36 L496.31,408.65 L496.55,407.94 L496.79,407.22 L497.02,406.51 L497.25,405.80 L497.49,405.09 L497.72,404.37 L497.95,403.66 L498.18,402.95 L498.41,402.23 L498.64,401.52 L498.87,400.80 L499.10,400.09 L499.33,399.38 L499.56,398.66 L499.79,397.95 L500.02,397.24 L500.26,396.52 L500.49,395.81 L500.73,395.10 L500.97,394.39 L501.20,393.68 L501.44,392.97 L501.69,392.26 L501.93,391.55 L502.17,390.84 L502.41,390.12 L502.65,389.41 L502.88,388.70 L503.12,387.99 L503.36,387.28 L503.60,386.57 L503.84,385.86 L504.09,385.15 L504.33,384.44 L504.57,383.73 L504.82,383.02 L505.08,382.32 L505.33,381.61 L505.59,380.91 L505.86,380.21 L506.14,379.51 L506.43,378.82 L506.73,378.14 L507.06,377.47 L507.43,376.82 L507.84,376.23 L508.34,375.73 L508.92,375.35 L509.58,375.11 L510.29,374.98 L511.03,374.93 L511.77,374.95 L512.51,375.02 L513.25,375.12 L513.99,375.25 L514.73,375.38 L515.47,375.50 L516.21,375.61 L516.96,375.70 L517.70,375.78 L518.45,375.86 L519.19,375.93 L519.94,376.00 L520.69,376.06 L521.43,376.13 L522.18,376.18 L522.93,376.24 L523.68,376.29 L524.43,376.33 L525.18,376.37 L525.93,376.40 L526.67,376.42 L527.42,376.44 L528.17,376.44 L528.92,376.45 L529.67,376.44 L530.42,376.44 L531.17,376.43 L531.92,376.42 L532.67,376.41 L533.42,376.41 L533.92,376.40" fill="none" stroke="#353535" stroke-width="1.90" stroke-linejoin="round" stroke-linecap="round"/>
<path d="M314.60,387.70 L314.76,386.97 L314.93,386.24 L315.09,385.50 L315.27,384.78 L315.46,384.05 L315.68,383.34 L315.96,382.65 L316.29,382.00 L316.70,381.40 L317.20,380.87 L317.78,380.43 L318.42,380.07 L319.10,379.79 L319.81,379.55 L320.53,379.36 L321.26,379.19 L321.99,379.04 L322.73,378.90 L323.47,378.78 L324.21,378.68 L324.96,378.59 L325.70,378.51 L326.45,378.43 L327.19,378.36 L327.94,378.29 L328.69,378.23 L329.44,378.16 L330.18,378.10 L330.93,378.04 L331.68,377.98 L332.43,377.92 L333.17,377.87 L333.92,377.82 L334.67,377.76 L335.42,377.71 L336.17,377.67 L336.92,377.63 L337.66,377.58 L338.41,377.55 L339.16,377.51 L339.91,377.48 L340.66,377.46 L341.41,377.44 L342.16,377.42 L342.91,377.41 L343.66,377.40 L344.41,377.39 L345.16,377.39 L345.91,377.39 L346.66,377.40 L347.41,377.40 L348.16,377.41 L348.91,377.43 L349.66,377.44 L350.41,377.46 L351.16,377.48 L351.91,377.50 L352.66,377.52 L353.41,377.55 L354.16,377.57 L354.91,377.60 L355.66,377.63 L356.41,377.66 L357.16,377.69 L357.91,377.72 L358.65,377.75 L359.40,377.78 L360.15,377.81 L360.90,377.84 L361.65,377.88 L362.40,377.91 L363.15,377.95 L363.90,377.99 L364.65,378.03 L365.40,378.07 L366.15,378.12 L366.89,378.16 L367.64,378.21 L368.39,378.27 L369.14,378.33 L369.89,378.39 L370.63,378.46 L371.38,378.54 L372.12,378.63 L372.87,378.72 L373.61,378.83 L374.35,378.94 L375.09,379.07 L375.83,379.21 L376.56,379.36 L377.29,379.52 L378.02,379.69 L378.75,379.87 L379.48,380.06 L380.20,380.26 L380.92,380.46 L381.64,380.67 L382.36,380.89 L383.07,381.13 L383.78,381.37 L384.48,381.63 L385.18,381.90 L385.88,382.17 L386.58,382.45 L387.27,382.74 L387.96,383.03 L388.65,383.32 L389.33,383.63 L390.01,383.95 L390.68,384.28 L391.36,384.62 L392.03,384.95 L392.70,385.28 L393.38,385.59 L394.07,385.89 L394.77,386.16 L395.47,386.41 L396.19,386.62 L396.92,386.80 L397.65,386.95 L398.39,387.07 L399.13,387.18 L399.87,387.28 L400.62,387.38 L401.36,387.48 L402.10,387.59 L402.84,387.72 L403.57,387.87 L404.30,388.04 L405.03,388.24 L405.75,388.44 L406.47,388.65 L407.19,388.86 L407.91,389.07 L408.63,389.28 L409.35,389.49 L410.07,389.70 L410.78,389.92 L411.50,390.14 L412.22,390.36 L412.93,390.59 L413.64,390.82 L414.35,391.07 L415.06,391.33 L415.76,391.60 L416.45,391.88 L417.14,392.17 L417.83,392.46 L418.52,392.75 L419.22,393.04 L419.91,393.31 L420.62,393.57 L421.32,393.82 L422.04,394.05 L422.76,394.26 L423.48,394.45 L424.21,394.63 L424.94,394.80 L425.67,394.95 L426.41,395.09 L427.15,395.21 L427.89,395.33 L428.63,395.43 L429.38,395.51 L430.13,395.59 L430.87,395.64 L431.62,395.69 L432.37,395.73 L433.12,395.76 L433.87,395.79 L434.62,395.81 L435.37,395.83 L436.12,395.85 L436.87,395.87 L437.62,395.90 L438.37,395.92 L439.12,395.95 L439.87,395.98 L440.62,396.00 L441.36,396.03 L442.11,396.05 L442.86,396.08 L443.61,396.10 L444.36,396.13 L445.11,396.15 L445.86,396.18 L446.61,396.20 L447.36,396.22 L448.11,396.25 L448.86,396.26 L449.61,396.28 L450.36,396.30 L451.11,396.32 L451.86,396.34 L452.61,396.37 L453.36,396.40 L454.11,396.43 L454.86,396.47 L455.61,396.51 L456.35,396.55 L457.10,396.59 L457.85,396.64 L458.59,396.71 L459.33,396.83 L460.05,397.01 L460.74,397.26 L461.39,397.59 L461.99,398.01 L462.52,398.51 L462.99,399.07 L463.41,399.69 L463.78,400.34 L464.13,401.00 L464.47,401.66 L464.80,402.34 L465.13,403.01 L465.45,403.69 L465.76,404.37 L466.07,405.06 L466.38,405.74 L466.68,406.43 L466.98,407.11 L467.28,407.80 L467.57,408.49 L467.86,409.18 L468.15,409.87 L468.44,410.57 L468.73,411.26 L469.01,411.96 L469.29,412.65 L469.57,413.35 L469.84,414.05 L470.11,414.75 L470.38,415.44 L470.65,416.15 L470.91,416.85 L471.17,417.55 L471.42,418.26 L471.67,418.97 L471.92,419.67 L472.16,420.38 L472.40,421.09 L472.64,421.81 L472.87,422.52 L473.10,423.23 L473.33,423.95 L473.56,424.66 L473.79,425.37 L474.02,426.09 L474.25,426.80 L474.48,427.52 L474.71,428.23 L474.93,428.95 L475.16,429.66 L475.40,430.37 L475.63,431.09 L475.86,431.80 L476.10,432.51 L476.34,433.22 L476.58,433.93 L476.83,434.64 L477.08,435.34 L477.34,436.05 L477.60,436.75 L477.87,437.45 L478.13,438.15 L478.41,438.85 L478.68,439.55 L478.96,440.25 L479.24,440.94 L479.52,441.64 L479.81,442.33 L480.10,443.02 L480.39,443.71 L480.68,444.41 L480.97,445.09 L481.27,445.78 L481.57,446.47 L481.88,447.16 L482.18,447.84 L482.49,448.52 L482.80,449.21 L483.11,449.89 L483.43,450.57 L483.74,451.25 L484.06,451.93 L484.37,452.61 L484.68,453.30 L484.99,453.98 L485.29,454.66 L485.60,455.35 L485.92,456.03 L486.24,456.70 L486.60,457.36 L486.99,457.97 L487.45,458.52 L487.98,458.93 L488.57,459.13 L489.19,459.10 L489.79,458.85 L490.33,458.42 L490.81,457.87 L491.23,457.27 L491.60,456.62 L491.94,455.96 L492.25,455.28 L492.54,454.59 L492.82,453.89 L493.07,453.18 L493.31,452.47 L493.54,451.76 L493.76,451.04 L493.96,450.32 L494.16,449.60 L494.35,448.87 L494.54,448.15 L494.72,447.42 L494.90,446.69 L495.07,445.96 L495.24,445.23 L495.41,444.50 L495.58,443.77 L495.74,443.04 L495.91,442.30 L496.07,441.57 L496.24,440.84 L496.40,440.11 L496.56,439.38 L496.72,438.64 L496.89,437.91 L497.05,437.18 L497.21,436.45 L497.37,435.71 L497.54,434.98 L497.70,434.25 L497.86,433.52 L498.02,432.78 L498.17,432.05 L498.33,431.32 L498.49,430.58 L498.64,429.85 L498.80,429.12 L498.95,428.38 L499.11,427.65 L499.26,426.91 L499.41,426.18 L499.56,425.45 L499.71,424.71 L499.87,423.98 L500.02,423.24 L500.17,422.51 L500.32,421.77 L500.47,421.04 L500.61,420.30 L500.76,419.57 L500.91,418.83 L501.06,418.10 L501.21,417.36 L501.35,416.63 L501.50,415.89 L501.65,415.15 L501.79,414.42 L501.94,413.68 L502.08,412.95 L502.23,412.21 L502.37,411.47 L502.51,410.74 L502.66,410.00 L502.80,409.27 L502.93,408.53 L503.07,407.79 L503.20,407.05 L503.34,406.31 L503.47,405.58 L503.59,404.84 L503.72,404.10 L503.85,403.36 L503.97,402.62 L504.10,401.88 L504.22,401.14 L504.34,400.40 L504.47,399.66 L504.59,398.92 L504.71,398.18 L504.84,397.44 L504.96,396.70 L505.09,395.96 L505.22,395.22 L505.34,394.48 L505.47,393.74 L505.60,393.01 L505.74,392.27 L505.87,391.53 L506.01,390.79 L506.16,390.06 L506.31,389.32 L506.46,388.59 L506.62,387.86 L506.79,387.13 L506.96,386.40 L507.14,385.67 L507.33,384.94 L507.53,384.22 L507.74,383.50 L507.95,382.78 L508.18,382.06 L508.41,381.35 L508.66,380.65 L508.93,379.95 L509.21,379.25 L509.51,378.57 L509.84,377.89 L510.19,377.23 L510.57,376.59 L510.99,375.97 L511.44,375.39 L511.95,374.85 L512.52,374.40 L513.15,374.05 L513.83,373.80 L514.54,373.66 L515.28,373.60 L516.02,373.60 L516.77,373.64 L517.51,373.72 L518.25,373.83 L518.99,373.98 L519.71,374.15 L520.44,374.35 L521.16,374.55 L521.88,374.76 L522.60,374.96 L523.33,375.16 L524.05,375.34 L524.78,375.51 L525.52,375.65 L526.26,375.77 L527.00,375.87 L527.74,375.96 L528.49,376.03 L529.24,376.09 L529.99,376.15 L530.73,376.20 L531.48,376.25 L532.23,376.29 L532.98,376.34 L533.73,376.38 L533.98,376.40" fill="none" stroke="#f0282a" stroke-width="1.90" stroke-linejoin="round" stroke-linecap="round"/>
<path d="M314.60,385.90 L314.79,385.17 L314.98,384.45 L315.18,383.73 L315.39,383.01 L315.65,382.31 L315.95,381.64 L316.32,381.01 L316.78,380.44 L317.32,379.96 L317.93,379.57 L318.60,379.26 L319.30,379.03 L320.02,378.84 L320.76,378.69 L321.50,378.57 L322.24,378.48 L322.98,378.40 L323.73,378.35 L324.48,378.31 L325.23,378.28 L325.98,378.25 L326.73,378.23 L327.48,378.21 L328.23,378.18 L328.98,378.15 L329.73,378.12 L330.48,378.08 L331.22,378.03 L331.97,377.98 L332.72,377.93 L333.47,377.88 L334.22,377.82 L334.96,377.77 L335.71,377.71 L336.46,377.66 L337.21,377.61 L337.96,377.57 L338.71,377.53 L339.46,377.49 L340.20,377.46 L340.95,377.44 L341.70,377.42 L342.45,377.41 L343.20,377.41 L343.95,377.41 L344.70,377.42 L345.45,377.43 L346.20,377.45 L346.95,377.47 L347.70,377.50 L348.45,377.52 L349.20,377.56 L349.95,377.59 L350.70,377.63 L351.45,377.67 L352.20,377.71 L352.95,377.76 L353.69,377.81 L354.44,377.86 L355.19,377.92 L355.94,377.97 L356.69,378.03 L357.43,378.10 L358.18,378.16 L358.93,378.23 L359.67,378.29 L360.42,378.36 L361.17,378.43 L361.91,378.50 L362.66,378.58 L363.41,378.66 L364.15,378.74 L364.90,378.82 L365.64,378.91 L366.39,379.00 L367.13,379.10 L367.87,379.20 L368.62,379.31 L369.36,379.42 L370.10,379.55 L370.83,379.68 L371.57,379.83 L372.30,379.99 L373.03,380.17 L373.75,380.37 L374.47,380.59 L375.18,380.82 L375.88,381.08 L376.58,381.34 L377.28,381.62 L377.97,381.91 L378.66,382.20 L379.36,382.49 L380.05,382.78 L380.75,383.05 L381.44,383.32 L382.14,383.59 L382.85,383.86 L383.55,384.13 L384.25,384.40 L384.95,384.67 L385.65,384.93 L386.35,385.19 L387.06,385.44 L387.77,385.68 L388.48,385.91 L389.20,386.12 L389.92,386.32 L390.65,386.51 L391.38,386.69 L392.11,386.87 L392.84,387.04 L393.57,387.22 L394.29,387.39 L395.02,387.57 L395.75,387.76 L396.47,387.97 L397.19,388.18 L397.91,388.39 L398.63,388.58 L399.36,388.73 L400.10,388.84 L400.84,388.89 L401.59,388.91 L402.34,388.90 L403.09,388.88 L403.84,388.86 L404.58,388.87 L405.33,388.90 L406.08,388.97 L406.82,389.06 L407.56,389.18 L408.29,389.32 L409.02,389.49 L409.74,389.69 L410.44,389.95 L411.12,390.25 L411.76,390.62 L412.36,391.05 L412.92,391.54 L413.45,392.06 L413.96,392.61 L414.47,393.16 L414.99,393.70 L415.53,394.22 L416.09,394.72 L416.66,395.19 L417.25,395.65 L417.85,396.10 L418.47,396.54 L419.09,396.96 L419.72,397.35 L420.38,397.71 L421.05,398.02 L421.75,398.25 L422.46,398.40 L423.19,398.44 L423.91,398.37 L424.63,398.20 L425.32,397.95 L426.00,397.64 L426.66,397.30 L427.31,396.92 L427.93,396.51 L428.55,396.08 L429.15,395.63 L429.74,395.17 L430.33,394.70 L430.90,394.22 L431.47,393.74 L432.03,393.24 L432.58,392.72 L433.11,392.20 L433.63,391.66 L434.14,391.11 L434.65,390.55 L435.16,390.00 L435.67,389.46 L436.20,388.93 L436.75,388.42 L437.32,387.94 L437.92,387.49 L438.54,387.08 L439.19,386.72 L439.86,386.39 L440.55,386.10 L441.25,385.86 L441.97,385.65 L442.70,385.49 L443.44,385.37 L444.18,385.29 L444.93,385.24 L445.68,385.22 L446.43,385.24 L447.17,385.28 L447.92,385.34 L448.67,385.41 L449.41,385.50 L450.15,385.60 L450.90,385.71 L451.64,385.83 L452.37,385.96 L453.11,386.10 L453.84,386.26 L454.58,386.42 L455.30,386.61 L456.03,386.80 L456.74,387.02 L457.45,387.26 L458.15,387.53 L458.84,387.83 L459.50,388.16 L460.15,388.53 L460.77,388.95 L461.36,389.41 L461.92,389.90 L462.46,390.41 L462.98,390.95 L463.48,391.51 L463.96,392.08 L464.43,392.67 L464.88,393.27 L465.32,393.87 L465.76,394.49 L466.18,395.11 L466.59,395.73 L466.99,396.37 L467.39,397.00 L467.77,397.64 L468.15,398.29 L468.52,398.95 L468.88,399.60 L469.23,400.27 L469.57,400.94 L469.90,401.61 L470.23,402.28 L470.55,402.96 L470.86,403.64 L471.17,404.32 L471.48,405.01 L471.78,405.70 L472.07,406.39 L472.37,407.08 L472.65,407.77 L472.94,408.46 L473.23,409.15 L473.52,409.85 L473.80,410.54 L474.09,411.23 L474.37,411.93 L474.66,412.62 L474.95,413.31 L475.25,414.00 L475.54,414.69 L475.84,415.38 L476.14,416.07 L476.45,416.75 L476.76,417.43 L477.08,418.11 L477.41,418.79 L477.74,419.46 L478.08,420.13 L478.42,420.79 L478.78,421.45 L479.13,422.11 L479.49,422.77 L479.86,423.42 L480.23,424.08 L480.61,424.72 L480.99,425.37 L481.38,426.01 L481.77,426.65 L482.17,427.28 L482.58,427.91 L483.00,428.54 L483.42,429.16 L483.85,429.77 L484.30,430.37 L484.76,430.96 L485.24,431.53 L485.75,432.08 L486.29,432.59 L486.87,433.04 L487.50,433.41 L488.18,433.70 L488.88,433.88 L489.59,433.95 L490.30,433.87 L490.96,433.65 L491.57,433.29 L492.11,432.81 L492.59,432.25 L493.01,431.64 L493.39,431.00 L493.73,430.34 L494.06,429.66 L494.36,428.98 L494.66,428.29 L494.95,427.60 L495.23,426.90 L495.50,426.21 L495.77,425.51 L496.04,424.81 L496.31,424.11 L496.58,423.41 L496.85,422.70 L497.11,422.00 L497.38,421.30 L497.66,420.61 L497.93,419.91 L498.21,419.21 L498.49,418.52 L498.77,417.82 L499.05,417.12 L499.32,416.43 L499.59,415.73 L499.86,415.03 L500.13,414.33 L500.40,413.62 L500.66,412.92 L500.93,412.22 L501.21,411.53 L501.48,410.83 L501.76,410.13 L502.05,409.44 L502.35,408.75 L502.65,408.07 L502.97,407.39 L503.30,406.71 L503.65,406.05 L504.01,405.39 L504.39,404.75 L504.78,404.11 L505.19,403.48 L505.62,402.87 L506.07,402.27 L506.53,401.68 L507.03,401.13 L507.56,400.60 L508.12,400.13 L508.73,399.75 L509.39,399.49 L510.06,399.40 L510.74,399.49 L511.40,399.75 L512.02,400.12 L512.59,400.58 L513.14,401.09 L513.65,401.64 L514.12,402.21 L514.56,402.82 L514.96,403.45 L515.34,404.09 L515.69,404.75 L516.03,405.42 L516.36,406.10 L516.68,406.77 L517.00,407.45 L517.30,408.14 L517.60,408.83 L517.89,409.52 L518.17,410.21 L518.45,410.91 L518.72,411.61 L519.00,412.31 L519.27,413.01 L519.45,413.47" fill="none" stroke="#1f66e2" stroke-width="1.90" stroke-linejoin="round" stroke-linecap="round"/>
<path d="M314.60,388.60 L314.76,387.87 L314.92,387.14 L315.09,386.40 L315.26,385.68 L315.45,384.95 L315.68,384.24 L315.95,383.55 L316.29,382.91 L316.73,382.33 L317.25,381.85 L317.86,381.47 L318.53,381.18 L319.23,380.95 L319.96,380.77 L320.68,380.59 L321.41,380.41 L322.14,380.23 L322.87,380.05 L323.60,379.87 L324.33,379.70 L325.06,379.54 L325.79,379.38 L326.53,379.24 L327.26,379.09 L328.00,378.96 L328.74,378.83 L329.48,378.72 L330.22,378.60 L330.97,378.50 L331.71,378.39 L332.45,378.29 L333.20,378.20 L333.94,378.10 L334.68,378.01 L335.43,377.93 L336.18,377.85 L336.92,377.77 L337.67,377.70 L338.42,377.64 L339.16,377.58 L339.91,377.53 L340.66,377.49 L341.41,377.46 L342.16,377.43 L342.91,377.41 L343.66,377.40 L344.41,377.39 L345.16,377.39 L345.91,377.40 L346.66,377.41 L347.41,377.43 L348.16,377.45 L348.91,377.48 L349.66,377.51 L350.41,377.54 L351.15,377.58 L351.90,377.62 L352.65,377.67 L353.40,377.73 L354.15,377.78 L354.89,377.85 L355.64,377.91 L356.39,377.99 L357.13,378.07 L357.88,378.15 L358.62,378.24 L359.37,378.34 L360.11,378.44 L360.85,378.55 L361.59,378.67 L362.33,378.79 L363.07,378.92 L363.81,379.05 L364.55,379.19 L365.28,379.34 L366.01,379.49 L366.75,379.65 L367.48,379.82 L368.21,380.00 L368.94,380.18 L369.66,380.37 L370.38,380.57 L371.10,380.79 L371.81,381.03 L372.51,381.29 L373.21,381.56 L373.90,381.84 L374.59,382.14 L375.28,382.44 L375.97,382.74 L376.65,383.04 L377.34,383.34 L378.04,383.62 L378.74,383.88 L379.45,384.13 L380.16,384.37 L380.87,384.60 L381.59,384.82 L382.31,385.03 L383.03,385.24 L383.75,385.44 L384.48,385.63 L385.20,385.82 L385.93,385.99 L386.66,386.15 L387.40,386.30 L388.14,386.44 L388.88,386.56 L389.62,386.68 L390.36,386.78 L391.10,386.87 L391.85,386.95 L392.60,387.02 L393.34,387.07 L394.09,387.12 L394.84,387.15 L395.59,387.17 L396.34,387.19 L397.09,387.19 L397.84,387.17 L398.59,387.15 L399.34,387.11 L400.08,387.06 L400.83,386.99 L401.58,386.92 L402.32,386.85 L403.07,386.77 L403.82,386.68 L404.56,386.60 L405.31,386.51 L406.05,386.43 L406.80,386.35 L407.54,386.28 L408.29,386.21 L409.04,386.14 L409.78,386.07 L410.53,386.00 L411.28,385.93 L412.02,385.87 L412.77,385.81 L413.52,385.76 L414.27,385.72 L415.02,385.69 L415.77,385.67 L416.52,385.65 L417.27,385.64 L418.02,385.63 L418.77,385.64 L419.52,385.64 L420.27,385.66 L421.02,385.68 L421.77,385.70 L422.52,385.73 L423.27,385.77 L424.01,385.80 L424.76,385.85 L425.51,385.90 L426.26,385.96 L427.00,386.03 L427.75,386.12 L428.49,386.22 L429.23,386.34 L429.97,386.47 L430.71,386.61 L431.44,386.76 L432.17,386.92 L432.90,387.10 L433.63,387.29 L434.35,387.50 L435.06,387.73 L435.76,387.99 L436.45,388.28 L437.13,388.60 L437.79,388.95 L438.43,389.33 L439.06,389.73 L439.69,390.15 L440.31,390.57 L440.93,390.98 L441.56,391.39 L442.20,391.78 L442.85,392.16 L443.50,392.53 L444.15,392.90 L444.81,393.25 L445.48,393.59 L446.15,393.92 L446.84,394.22 L447.54,394.49 L448.25,394.72 L448.97,394.91 L449.70,395.07 L450.44,395.19 L451.18,395.28 L451.93,395.36 L452.68,395.41 L453.42,395.44 L454.17,395.45 L454.92,395.43 L455.66,395.37 L456.41,395.31 L457.15,395.27 L457.89,395.28 L458.62,395.37 L459.33,395.55 L460.00,395.83 L460.64,396.20 L461.24,396.64 L461.79,397.13 L462.31,397.66 L462.80,398.23 L463.26,398.82 L463.71,399.42 L464.13,400.04 L464.55,400.66 L464.95,401.29 L465.35,401.93 L465.73,402.57 L466.11,403.22 L466.48,403.87 L466.84,404.53 L467.20,405.19 L467.56,405.85 L467.91,406.51 L468.25,407.18 L468.60,407.84 L468.94,408.51 L469.27,409.18 L469.61,409.85 L469.94,410.53 L470.27,411.20 L470.59,411.88 L470.92,412.55 L471.23,413.23 L471.54,413.92 L471.85,414.60 L472.14,415.29 L472.44,415.98 L472.73,416.67 L473.01,417.37 L473.30,418.06 L473.58,418.76 L473.86,419.45 L474.14,420.15 L474.42,420.84 L474.71,421.53 L474.99,422.23 L475.28,422.92 L475.57,423.61 L475.87,424.30 L476.17,424.99 L476.48,425.67 L476.80,426.35 L477.13,427.02 L477.46,427.69 L477.81,428.36 L478.17,429.02 L478.53,429.67 L478.91,430.32 L479.29,430.97 L479.68,431.61 L480.07,432.25 L480.48,432.88 L480.89,433.50 L481.32,434.12 L481.75,434.73 L482.19,435.34 L482.64,435.93 L483.11,436.52 L483.59,437.10 L484.09,437.66 L484.60,438.20 L485.14,438.71 L485.72,439.15 L486.35,439.49 L487.02,439.70 L487.72,439.75 L488.43,439.67 L489.14,439.48 L489.83,439.21 L490.50,438.89 L491.15,438.52 L491.76,438.10 L492.34,437.63 L492.89,437.13 L493.40,436.58 L493.87,436.00 L494.30,435.39 L494.69,434.76 L495.05,434.10 L495.38,433.43 L495.68,432.74 L495.95,432.05 L496.21,431.34 L496.46,430.64 L496.69,429.92 L496.92,429.21 L497.14,428.49 L497.35,427.77 L497.55,427.05 L497.76,426.33 L497.96,425.61 L498.15,424.88 L498.35,424.16 L498.54,423.43 L498.74,422.71 L498.93,421.98 L499.13,421.26 L499.32,420.54 L499.52,419.81 L499.73,419.09 L499.94,418.37 L500.15,417.65 L500.36,416.93 L500.58,416.22 L500.79,415.50 L501.01,414.78 L501.22,414.06 L501.43,413.34 L501.64,412.62 L501.85,411.90 L502.05,411.18 L502.26,410.46 L502.47,409.74 L502.68,409.02 L502.89,408.29 L503.10,407.58 L503.31,406.86 L503.53,406.14 L503.75,405.42 L503.97,404.71 L504.20,403.99 L504.43,403.28 L504.67,402.57 L504.92,401.86 L505.18,401.16 L505.45,400.46 L505.73,399.76 L506.02,399.07 L506.32,398.39 L506.64,397.71 L506.97,397.03 L507.32,396.37 L507.67,395.71 L508.04,395.06 L508.42,394.41 L508.81,393.77 L509.21,393.14 L509.63,392.51 L510.04,391.89 L510.47,391.27 L510.90,390.65 L511.33,390.04 L511.77,389.43 L512.20,388.82 L512.64,388.21 L513.09,387.61 L513.54,387.01 L514.00,386.42 L514.47,385.83 L514.94,385.25 L515.43,384.68 L515.92,384.11 L516.42,383.55 L516.92,383.00 L517.43,382.45 L517.94,381.90 L518.46,381.36 L518.98,380.82 L519.50,380.28 L520.03,379.75 L520.55,379.21 L521.08,378.68 L521.62,378.16 L522.16,377.64 L522.71,377.13 L523.28,376.64 L523.86,376.16 L524.45,375.71 L525.07,375.30 L525.72,374.94 L526.40,374.63 L527.10,374.39 L527.82,374.23 L528.55,374.13 L529.29,374.11 L530.03,374.16 L530.75,374.29 L531.44,374.52 L532.09,374.84 L532.70,375.26 L533.27,375.73 L533.82,376.24 L533.82,376.24" fill="none" stroke="#1ba04c" stroke-width="1.90" stroke-linejoin="round" stroke-linecap="round"/>
<text x="326.60" y="463.40" font-size="9.00" text-anchor="middle" font-weight="bold" >I</text>
<text x="374.00" y="463.20" font-size="9.00" text-anchor="middle" font-weight="bold" >II</text>
<text x="435.00" y="461.70" font-size="9.00" text-anchor="middle" font-weight="bold" >III</text>
<text x="473.60" y="462.70" font-size="9.00" text-anchor="middle" font-weight="bold" >IV</text>
<rect x="412.30" y="337.40" width="46.00" height="37.10" fill="#fff" stroke="#b8b8b8" stroke-width="0.8"/>
<line x1="415.00" y1="342.30" x2="431.80" y2="342.30" stroke="#353535" stroke-width="1.60" />
<text x="433.60" y="344.90" font-size="7.20" text-anchor="start" font-weight="bold" >S-0.5D</text>
<line x1="415.00" y1="351.60" x2="431.80" y2="351.60" stroke="#f0282a" stroke-width="1.60" />
<text x="433.60" y="354.20" font-size="7.20" text-anchor="start" font-weight="bold" >S-1.0D</text>
<line x1="415.00" y1="360.90" x2="431.80" y2="360.90" stroke="#1f66e2" stroke-width="1.60" />
<text x="433.60" y="363.50" font-size="7.20" text-anchor="start" font-weight="bold" >S-1.5D</text>
<line x1="415.00" y1="370.50" x2="431.80" y2="370.50" stroke="#1ba04c" stroke-width="1.60" />
<text x="433.60" y="373.10" font-size="7.20" text-anchor="start" font-weight="bold" >S-2.0D</text>
<rect x="40.50" y="13.00" width="221.00" height="132.50" fill="none" stroke="#3c3c3c" stroke-width="1"/>
<line x1="55.23" y1="145.50" x2="55.23" y2="148.00" stroke="#3c3c3c" stroke-width="1.00" />
<text x="55.23" y="158.30" font-size="10.10" text-anchor="middle" font-weight="normal" >100</text>
<line x1="84.70" y1="145.50" x2="84.70" y2="148.00" stroke="#3c3c3c" stroke-width="1.00" />
<text x="84.70" y="158.30" font-size="10.10" text-anchor="middle" font-weight="normal" >200</text>
<line x1="114.17" y1="145.50" x2="114.17" y2="148.00" stroke="#3c3c3c" stroke-width="1.00" />
<text x="114.17" y="158.30" font-size="10.10" text-anchor="middle" font-weight="normal" >300</text>
<line x1="143.63" y1="145.50" x2="143.63" y2="148.00" stroke="#3c3c3c" stroke-width="1.00" />
<text x="143.63" y="158.30" font-size="10.10" text-anchor="middle" font-weight="normal" >400</text>
<line x1="173.10" y1="145.50" x2="173.10" y2="148.00" stroke="#3c3c3c" stroke-width="1.00" />
<text x="173.10" y="158.30" font-size="10.10" text-anchor="middle" font-weight="normal" >500</text>
<line x1="202.57" y1="145.50" x2="202.57" y2="148.00" stroke="#3c3c3c" stroke-width="1.00" />
<text x="202.57" y="158.30" font-size="10.10" text-anchor="middle" font-weight="normal" >600</text>
<line x1="232.03" y1="145.50" x2="232.03" y2="148.00" stroke="#3c3c3c" stroke-width="1.00" />
<text x="232.03" y="158.30" font-size="10.10" text-anchor="middle" font-weight="normal" >700</text>
<line x1="261.50" y1="145.50" x2="261.50" y2="148.00" stroke="#3c3c3c" stroke-width="1.00" />
<text x="261.50" y="158.30" font-size="10.10" text-anchor="middle" font-weight="normal" >800</text>
<line x1="69.97" y1="145.50" x2="69.97" y2="147.00" stroke="#3c3c3c" stroke-width="1.00" />
<line x1="99.43" y1="145.50" x2="99.43" y2="147.00" stroke="#3c3c3c" stroke-width="1.00" />
<line x1="128.90" y1="145.50" x2="128.90" y2="147.00" stroke="#3c3c3c" stroke-width="1.00" />
<line x1="158.37" y1="145.50" x2="158.37" y2="147.00" stroke="#3c3c3c" stroke-width="1.00" />
<line x1="187.83" y1="145.50" x2="187.83" y2="147.00" stroke="#3c3c3c" stroke-width="1.00" />
<line x1="217.30" y1="145.50" x2="217.30" y2="147.00" stroke="#3c3c3c" stroke-width="1.00" />
<line x1="246.77" y1="145.50" x2="246.77" y2="147.00" stroke="#3c3c3c" stroke-width="1.00" />
<line x1="38.00" y1="135.00" x2="40.50" y2="135.00" stroke="#3c3c3c" stroke-width="1.00" />
<text x="35.50" y="138.50" font-size="10.10" text-anchor="end" font-weight="normal" >0</text>
<line x1="38.00" y1="114.67" x2="40.50" y2="114.67" stroke="#3c3c3c" stroke-width="1.00" />
<text x="35.50" y="118.17" font-size="10.10" text-anchor="end" font-weight="normal" >20</text>
<line x1="38.00" y1="94.33" x2="40.50" y2="94.33" stroke="#3c3c3c" stroke-width="1.00" />
<text x="35.50" y="97.83" font-size="10.10" text-anchor="end" font-weight="normal" >40</text>
<line x1="38.00" y1="74.00" x2="40.50" y2="74.00" stroke="#3c3c3c" stroke-width="1.00" />
<text x="35.50" y="77.50" font-size="10.10" text-anchor="end" font-weight="normal" >60</text>
<line x1="38.00" y1="53.67" x2="40.50" y2="53.67" stroke="#3c3c3c" stroke-width="1.00" />
<text x="35.50" y="57.17" font-size="10.10" text-anchor="end" font-weight="normal" >80</text>
<line x1="38.00" y1="33.33" x2="40.50" y2="33.33" stroke="#3c3c3c" stroke-width="1.00" />
<text x="35.50" y="36.83" font-size="10.10" text-anchor="end" font-weight="normal" >100</text>
<line x1="38.00" y1="13.00" x2="40.50" y2="13.00" stroke="#3c3c3c" stroke-width="1.00" />
<text x="35.50" y="16.50" font-size="10.10" text-anchor="end" font-weight="normal" >120</text>
<line x1="39.00" y1="124.83" x2="40.50" y2="124.83" stroke="#3c3c3c" stroke-width="1.00" />
<line x1="39.00" y1="104.50" x2="40.50" y2="104.50" stroke="#3c3c3c" stroke-width="1.00" />
<line x1="39.00" y1="84.17" x2="40.50" y2="84.17" stroke="#3c3c3c" stroke-width="1.00" />
<line x1="39.00" y1="63.83" x2="40.50" y2="63.83" stroke="#3c3c3c" stroke-width="1.00" />
<line x1="39.00" y1="43.50" x2="40.50" y2="43.50" stroke="#3c3c3c" stroke-width="1.00" />
<line x1="39.00" y1="23.17" x2="40.50" y2="23.17" stroke="#3c3c3c" stroke-width="1.00" />
<rect x="39.50" y="172.20" width="221.00" height="133.40" fill="none" stroke="#3c3c3c" stroke-width="1"/>
<line x1="54.23" y1="305.60" x2="54.23" y2="308.10" stroke="#3c3c3c" stroke-width="1.00" />
<text x="54.23" y="318.10" font-size="10.10" text-anchor="middle" font-weight="normal" >100</text>
<line x1="83.70" y1="305.60" x2="83.70" y2="308.10" stroke="#3c3c3c" stroke-width="1.00" />
<text x="83.70" y="318.10" font-size="10.10" text-anchor="middle" font-weight="normal" >200</text>
<line x1="113.17" y1="305.60" x2="113.17" y2="308.10" stroke="#3c3c3c" stroke-width="1.00" />
<text x="113.17" y="318.10" font-size="10.10" text-anchor="middle" font-weight="normal" >300</text>
<line x1="142.63" y1="305.60" x2="142.63" y2="308.10" stroke="#3c3c3c" stroke-width="1.00" />
<text x="142.63" y="318.10" font-size="10.10" text-anchor="middle" font-weight="normal" >400</text>
<line x1="172.10" y1="305.60" x2="172.10" y2="308.10" stroke="#3c3c3c" stroke-width="1.00" />
<text x="172.10" y="318.10" font-size="10.10" text-anchor="middle" font-weight="normal" >500</text>
<line x1="201.57" y1="305.60" x2="201.57" y2="308.10" stroke="#3c3c3c" stroke-width="1.00" />
<text x="201.57" y="318.10" font-size="10.10" text-anchor="middle" font-weight="normal" >600</text>
<line x1="231.03" y1="305.60" x2="231.03" y2="308.10" stroke="#3c3c3c" stroke-width="1.00" />
<text x="231.03" y="318.10" font-size="10.10" text-anchor="middle" font-weight="normal" >700</text>
<line x1="260.50" y1="305.60" x2="260.50" y2="308.10" stroke="#3c3c3c" stroke-width="1.00" />
<text x="260.50" y="318.10" font-size="10.10" text-anchor="middle" font-weight="normal" >800</text>
<line x1="68.97" y1="305.60" x2="68.97" y2="307.10" stroke="#3c3c3c" stroke-width="1.00" />
<line x1="98.43" y1="305.60" x2="98.43" y2="307.10" stroke="#3c3c3c" stroke-width="1.00" />
<line x1="127.90" y1="305.60" x2="127.90" y2="307.10" stroke="#3c3c3c" stroke-width="1.00" />
<line x1="157.37" y1="305.60" x2="157.37" y2="307.10" stroke="#3c3c3c" stroke-width="1.00" />
<line x1="186.83" y1="305.60" x2="186.83" y2="307.10" stroke="#3c3c3c" stroke-width="1.00" />
<line x1="216.30" y1="305.60" x2="216.30" y2="307.10" stroke="#3c3c3c" stroke-width="1.00" />
<line x1="245.77" y1="305.60" x2="245.77" y2="307.10" stroke="#3c3c3c" stroke-width="1.00" />
<line x1="37.00" y1="294.60" x2="39.50" y2="294.60" stroke="#3c3c3c" stroke-width="1.00" />
<text x="35.00" y="298.10" font-size="10.10" text-anchor="end" font-weight="normal" >0</text>
<line x1="37.00" y1="274.20" x2="39.50" y2="274.20" stroke="#3c3c3c" stroke-width="1.00" />
<text x="35.00" y="277.70" font-size="10.10" text-anchor="end" font-weight="normal" >20</text>
<line x1="37.00" y1="253.80" x2="39.50" y2="253.80" stroke="#3c3c3c" stroke-width="1.00" />
<text x="35.00" y="257.30" font-size="10.10" text-anchor="end" font-weight="normal" >40</text>
<line x1="37.00" y1="233.40" x2="39.50" y2="233.40" stroke="#3c3c3c" stroke-width="1.00" />
<text x="35.00" y="236.90" font-size="10.10" text-anchor="end" font-weight="normal" >60</text>
<line x1="37.00" y1="213.00" x2="39.50" y2="213.00" stroke="#3c3c3c" stroke-width="1.00" />
<text x="35.00" y="216.50" font-size="10.10" text-anchor="end" font-weight="normal" >80</text>
<line x1="37.00" y1="192.60" x2="39.50" y2="192.60" stroke="#3c3c3c" stroke-width="1.00" />
<text x="35.00" y="196.10" font-size="10.10" text-anchor="end" font-weight="normal" >100</text>
<line x1="37.00" y1="172.20" x2="39.50" y2="172.20" stroke="#3c3c3c" stroke-width="1.00" />
<text x="35.00" y="175.70" font-size="10.10" text-anchor="end" font-weight="normal" >120</text>
<line x1="38.00" y1="284.40" x2="39.50" y2="284.40" stroke="#3c3c3c" stroke-width="1.00" />
<line x1="38.00" y1="264.00" x2="39.50" y2="264.00" stroke="#3c3c3c" stroke-width="1.00" />
<line x1="38.00" y1="243.60" x2="39.50" y2="243.60" stroke="#3c3c3c" stroke-width="1.00" />
<line x1="38.00" y1="223.20" x2="39.50" y2="223.20" stroke="#3c3c3c" stroke-width="1.00" />
<line x1="38.00" y1="202.80" x2="39.50" y2="202.80" stroke="#3c3c3c" stroke-width="1.00" />
<line x1="38.00" y1="182.40" x2="39.50" y2="182.40" stroke="#3c3c3c" stroke-width="1.00" />
<rect x="40.60" y="333.40" width="221.00" height="134.10" fill="none" stroke="#3c3c3c" stroke-width="1"/>
<line x1="55.33" y1="467.50" x2="55.33" y2="470.00" stroke="#3c3c3c" stroke-width="1.00" />
<text x="55.33" y="480.60" font-size="10.10" text-anchor="middle" font-weight="normal" >100</text>
<line x1="84.80" y1="467.50" x2="84.80" y2="470.00" stroke="#3c3c3c" stroke-width="1.00" />
<text x="84.80" y="480.60" font-size="10.10" text-anchor="middle" font-weight="normal" >200</text>
<line x1="114.27" y1="467.50" x2="114.27" y2="470.00" stroke="#3c3c3c" stroke-width="1.00" />
<text x="114.27" y="480.60" font-size="10.10" text-anchor="middle" font-weight="normal" >300</text>
<line x1="143.73" y1="467.50" x2="143.73" y2="470.00" stroke="#3c3c3c" stroke-width="1.00" />
<text x="143.73" y="480.60" font-size="10.10" text-anchor="middle" font-weight="normal" >400</text>
<line x1="173.20" y1="467.50" x2="173.20" y2="470.00" stroke="#3c3c3c" stroke-width="1.00" />
<text x="173.20" y="480.60" font-size="10.10" text-anchor="middle" font-weight="normal" >500</text>
<line x1="202.67" y1="467.50" x2="202.67" y2="470.00" stroke="#3c3c3c" stroke-width="1.00" />
<text x="202.67" y="480.60" font-size="10.10" text-anchor="middle" font-weight="normal" >600</text>
<line x1="232.13" y1="467.50" x2="232.13" y2="470.00" stroke="#3c3c3c" stroke-width="1.00" />
<text x="232.13" y="480.60" font-size="10.10" text-anchor="middle" font-weight="normal" >700</text>
<line x1="261.60" y1="467.50" x2="261.60" y2="470.00" stroke="#3c3c3c" stroke-width="1.00" />
<text x="261.60" y="480.60" font-size="10.10" text-anchor="middle" font-weight="normal" >800</text>
<line x1="70.07" y1="467.50" x2="70.07" y2="469.00" stroke="#3c3c3c" stroke-width="1.00" />
<line x1="99.53" y1="467.50" x2="99.53" y2="469.00" stroke="#3c3c3c" stroke-width="1.00" />
<line x1="129.00" y1="467.50" x2="129.00" y2="469.00" stroke="#3c3c3c" stroke-width="1.00" />
<line x1="158.47" y1="467.50" x2="158.47" y2="469.00" stroke="#3c3c3c" stroke-width="1.00" />
<line x1="187.93" y1="467.50" x2="187.93" y2="469.00" stroke="#3c3c3c" stroke-width="1.00" />
<line x1="217.40" y1="467.50" x2="217.40" y2="469.00" stroke="#3c3c3c" stroke-width="1.00" />
<line x1="246.87" y1="467.50" x2="246.87" y2="469.00" stroke="#3c3c3c" stroke-width="1.00" />
<line x1="38.10" y1="456.70" x2="40.60" y2="456.70" stroke="#3c3c3c" stroke-width="1.00" />
<text x="35.50" y="460.20" font-size="10.10" text-anchor="end" font-weight="normal" >0</text>
<line x1="38.10" y1="436.15" x2="40.60" y2="436.15" stroke="#3c3c3c" stroke-width="1.00" />
<text x="35.50" y="439.65" font-size="10.10" text-anchor="end" font-weight="normal" >20</text>
<line x1="38.10" y1="415.60" x2="40.60" y2="415.60" stroke="#3c3c3c" stroke-width="1.00" />
<text x="35.50" y="419.10" font-size="10.10" text-anchor="end" font-weight="normal" >40</text>
<line x1="38.10" y1="395.05" x2="40.60" y2="395.05" stroke="#3c3c3c" stroke-width="1.00" />
<text x="35.50" y="398.55" font-size="10.10" text-anchor="end" font-weight="normal" >60</text>
<line x1="38.10" y1="374.50" x2="40.60" y2="374.50" stroke="#3c3c3c" stroke-width="1.00" />
<text x="35.50" y="378.00" font-size="10.10" text-anchor="end" font-weight="normal" >80</text>
<line x1="38.10" y1="353.95" x2="40.60" y2="353.95" stroke="#3c3c3c" stroke-width="1.00" />
<text x="35.50" y="357.45" font-size="10.10" text-anchor="end" font-weight="normal" >100</text>
<line x1="38.10" y1="333.40" x2="40.60" y2="333.40" stroke="#3c3c3c" stroke-width="1.00" />
<text x="35.50" y="336.90" font-size="10.10" text-anchor="end" font-weight="normal" >120</text>
<line x1="39.10" y1="446.43" x2="40.60" y2="446.43" stroke="#3c3c3c" stroke-width="1.00" />
<line x1="39.10" y1="425.88" x2="40.60" y2="425.88" stroke="#3c3c3c" stroke-width="1.00" />
<line x1="39.10" y1="405.32" x2="40.60" y2="405.32" stroke="#3c3c3c" stroke-width="1.00" />
<line x1="39.10" y1="384.77" x2="40.60" y2="384.77" stroke="#3c3c3c" stroke-width="1.00" />
<line x1="39.10" y1="364.22" x2="40.60" y2="364.22" stroke="#3c3c3c" stroke-width="1.00" />
<line x1="39.10" y1="343.67" x2="40.60" y2="343.67" stroke="#3c3c3c" stroke-width="1.00" />
<rect x="313.60" y="14.80" width="220.40" height="133.20" fill="none" stroke="#3c3c3c" stroke-width="1"/>
<line x1="328.29" y1="148.00" x2="328.29" y2="150.50" stroke="#3c3c3c" stroke-width="1.00" />
<text x="328.29" y="161.20" font-size="10.10" text-anchor="middle" font-weight="normal" >100</text>
<line x1="357.68" y1="148.00" x2="357.68" y2="150.50" stroke="#3c3c3c" stroke-width="1.00" />
<text x="357.68" y="161.20" font-size="10.10" text-anchor="middle" font-weight="normal" >200</text>
<line x1="387.07" y1="148.00" x2="387.07" y2="150.50" stroke="#3c3c3c" stroke-width="1.00" />
<text x="387.07" y="161.20" font-size="10.10" text-anchor="middle" font-weight="normal" >300</text>
<line x1="416.45" y1="148.00" x2="416.45" y2="150.50" stroke="#3c3c3c" stroke-width="1.00" />
<text x="416.45" y="161.20" font-size="10.10" text-anchor="middle" font-weight="normal" >400</text>
<line x1="445.84" y1="148.00" x2="445.84" y2="150.50" stroke="#3c3c3c" stroke-width="1.00" />
<text x="445.84" y="161.20" font-size="10.10" text-anchor="middle" font-weight="normal" >500</text>
<line x1="475.23" y1="148.00" x2="475.23" y2="150.50" stroke="#3c3c3c" stroke-width="1.00" />
<text x="475.23" y="161.20" font-size="10.10" text-anchor="middle" font-weight="normal" >600</text>
<line x1="504.61" y1="148.00" x2="504.61" y2="150.50" stroke="#3c3c3c" stroke-width="1.00" />
<text x="504.61" y="161.20" font-size="10.10" text-anchor="middle" font-weight="normal" >700</text>
<line x1="534.00" y1="148.00" x2="534.00" y2="150.50" stroke="#3c3c3c" stroke-width="1.00" />
<text x="534.00" y="161.20" font-size="10.10" text-anchor="middle" font-weight="normal" >800</text>
<line x1="342.99" y1="148.00" x2="342.99" y2="149.50" stroke="#3c3c3c" stroke-width="1.00" />
<line x1="372.37" y1="148.00" x2="372.37" y2="149.50" stroke="#3c3c3c" stroke-width="1.00" />
<line x1="401.76" y1="148.00" x2="401.76" y2="149.50" stroke="#3c3c3c" stroke-width="1.00" />
<line x1="431.15" y1="148.00" x2="431.15" y2="149.50" stroke="#3c3c3c" stroke-width="1.00" />
<line x1="460.53" y1="148.00" x2="460.53" y2="149.50" stroke="#3c3c3c" stroke-width="1.00" />
<line x1="489.92" y1="148.00" x2="489.92" y2="149.50" stroke="#3c3c3c" stroke-width="1.00" />
<line x1="519.31" y1="148.00" x2="519.31" y2="149.50" stroke="#3c3c3c" stroke-width="1.00" />
<line x1="311.10" y1="21.45" x2="313.60" y2="21.45" stroke="#3c3c3c" stroke-width="1.00" />
<text x="309.40" y="25.05" font-size="10.10" text-anchor="end" font-weight="normal" >0.5</text>
<line x1="311.10" y1="54.80" x2="313.60" y2="54.80" stroke="#3c3c3c" stroke-width="1.00" />
<text x="309.40" y="58.40" font-size="10.10" text-anchor="end" font-weight="normal" >0</text>
<line x1="311.10" y1="88.15" x2="313.60" y2="88.15" stroke="#3c3c3c" stroke-width="1.00" />
<text x="309.40" y="91.75" font-size="10.10" text-anchor="end" font-weight="normal" >-0.5</text>
<line x1="311.10" y1="121.50" x2="313.60" y2="121.50" stroke="#3c3c3c" stroke-width="1.00" />
<text x="309.40" y="125.10" font-size="10.10" text-anchor="end" font-weight="normal" >-1</text>
<line x1="312.10" y1="38.12" x2="313.60" y2="38.12" stroke="#3c3c3c" stroke-width="1.00" />
<line x1="312.10" y1="71.47" x2="313.60" y2="71.47" stroke="#3c3c3c" stroke-width="1.00" />
<line x1="312.10" y1="104.83" x2="313.60" y2="104.83" stroke="#3c3c3c" stroke-width="1.00" />
<line x1="312.10" y1="138.18" x2="313.60" y2="138.18" stroke="#3c3c3c" stroke-width="1.00" />
<rect x="314.30" y="175.20" width="220.10" height="131.80" fill="none" stroke="#3c3c3c" stroke-width="1"/>
<line x1="328.97" y1="307.00" x2="328.97" y2="309.50" stroke="#3c3c3c" stroke-width="1.00" />
<text x="328.97" y="321.20" font-size="10.10" text-anchor="middle" font-weight="normal" >100</text>
<line x1="358.32" y1="307.00" x2="358.32" y2="309.50" stroke="#3c3c3c" stroke-width="1.00" />
<text x="358.32" y="321.20" font-size="10.10" text-anchor="middle" font-weight="normal" >200</text>
<line x1="387.67" y1="307.00" x2="387.67" y2="309.50" stroke="#3c3c3c" stroke-width="1.00" />
<text x="387.67" y="321.20" font-size="10.10" text-anchor="middle" font-weight="normal" >300</text>
<line x1="417.01" y1="307.00" x2="417.01" y2="309.50" stroke="#3c3c3c" stroke-width="1.00" />
<text x="417.01" y="321.20" font-size="10.10" text-anchor="middle" font-weight="normal" >400</text>
<line x1="446.36" y1="307.00" x2="446.36" y2="309.50" stroke="#3c3c3c" stroke-width="1.00" />
<text x="446.36" y="321.20" font-size="10.10" text-anchor="middle" font-weight="normal" >500</text>
<line x1="475.71" y1="307.00" x2="475.71" y2="309.50" stroke="#3c3c3c" stroke-width="1.00" />
<text x="475.71" y="321.20" font-size="10.10" text-anchor="middle" font-weight="normal" >600</text>
<line x1="505.05" y1="307.00" x2="505.05" y2="309.50" stroke="#3c3c3c" stroke-width="1.00" />
<text x="505.05" y="321.20" font-size="10.10" text-anchor="middle" font-weight="normal" >700</text>
<line x1="534.40" y1="307.00" x2="534.40" y2="309.50" stroke="#3c3c3c" stroke-width="1.00" />
<text x="534.40" y="321.20" font-size="10.10" text-anchor="middle" font-weight="normal" >800</text>
<line x1="343.65" y1="307.00" x2="343.65" y2="308.50" stroke="#3c3c3c" stroke-width="1.00" />
<line x1="372.99" y1="307.00" x2="372.99" y2="308.50" stroke="#3c3c3c" stroke-width="1.00" />
<line x1="402.34" y1="307.00" x2="402.34" y2="308.50" stroke="#3c3c3c" stroke-width="1.00" />
<line x1="431.69" y1="307.00" x2="431.69" y2="308.50" stroke="#3c3c3c" stroke-width="1.00" />
<line x1="461.03" y1="307.00" x2="461.03" y2="308.50" stroke="#3c3c3c" stroke-width="1.00" />
<line x1="490.38" y1="307.00" x2="490.38" y2="308.50" stroke="#3c3c3c" stroke-width="1.00" />
<line x1="519.73" y1="307.00" x2="519.73" y2="308.50" stroke="#3c3c3c" stroke-width="1.00" />
<line x1="311.80" y1="192.73" x2="314.30" y2="192.73" stroke="#3c3c3c" stroke-width="1.00" />
<text x="310.20" y="196.03" font-size="10.10" text-anchor="end" font-weight="normal" >1</text>
<line x1="311.80" y1="217.00" x2="314.30" y2="217.00" stroke="#3c3c3c" stroke-width="1.00" />
<text x="310.20" y="220.30" font-size="10.10" text-anchor="end" font-weight="normal" >0</text>
<line x1="311.80" y1="241.27" x2="314.30" y2="241.27" stroke="#3c3c3c" stroke-width="1.00" />
<text x="310.20" y="244.57" font-size="10.10" text-anchor="end" font-weight="normal" >-1</text>
<line x1="311.80" y1="265.53" x2="314.30" y2="265.53" stroke="#3c3c3c" stroke-width="1.00" />
<text x="310.20" y="268.83" font-size="10.10" text-anchor="end" font-weight="normal" >-2</text>
<line x1="311.80" y1="289.80" x2="314.30" y2="289.80" stroke="#3c3c3c" stroke-width="1.00" />
<text x="310.20" y="293.10" font-size="10.10" text-anchor="end" font-weight="normal" >-3</text>
<line x1="312.80" y1="180.60" x2="314.30" y2="180.60" stroke="#3c3c3c" stroke-width="1.00" />
<line x1="312.80" y1="204.87" x2="314.30" y2="204.87" stroke="#3c3c3c" stroke-width="1.00" />
<line x1="312.80" y1="229.13" x2="314.30" y2="229.13" stroke="#3c3c3c" stroke-width="1.00" />
<line x1="312.80" y1="253.40" x2="314.30" y2="253.40" stroke="#3c3c3c" stroke-width="1.00" />
<line x1="312.80" y1="277.67" x2="314.30" y2="277.67" stroke="#3c3c3c" stroke-width="1.00" />
<line x1="312.80" y1="301.93" x2="314.30" y2="301.93" stroke="#3c3c3c" stroke-width="1.00" />
<rect x="314.30" y="335.30" width="220.10" height="132.20" fill="none" stroke="#3c3c3c" stroke-width="1"/>
<line x1="328.97" y1="467.50" x2="328.97" y2="470.00" stroke="#3c3c3c" stroke-width="1.00" />
<text x="328.97" y="480.80" font-size="10.10" text-anchor="middle" font-weight="normal" >100</text>
<line x1="358.32" y1="467.50" x2="358.32" y2="470.00" stroke="#3c3c3c" stroke-width="1.00" />
<text x="358.32" y="480.80" font-size="10.10" text-anchor="middle" font-weight="normal" >200</text>
<line x1="387.67" y1="467.50" x2="387.67" y2="470.00" stroke="#3c3c3c" stroke-width="1.00" />
<text x="387.67" y="480.80" font-size="10.10" text-anchor="middle" font-weight="normal" >300</text>
<line x1="417.01" y1="467.50" x2="417.01" y2="470.00" stroke="#3c3c3c" stroke-width="1.00" />
<text x="417.01" y="480.80" font-size="10.10" text-anchor="middle" font-weight="normal" >400</text>
<line x1="446.36" y1="467.50" x2="446.36" y2="470.00" stroke="#3c3c3c" stroke-width="1.00" />
<text x="446.36" y="480.80" font-size="10.10" text-anchor="middle" font-weight="normal" >500</text>
<line x1="475.71" y1="467.50" x2="475.71" y2="470.00" stroke="#3c3c3c" stroke-width="1.00" />
<text x="475.71" y="480.80" font-size="10.10" text-anchor="middle" font-weight="normal" >600</text>
<line x1="505.05" y1="467.50" x2="505.05" y2="470.00" stroke="#3c3c3c" stroke-width="1.00" />
<text x="505.05" y="480.80" font-size="10.10" text-anchor="middle" font-weight="normal" >700</text>
<line x1="534.40" y1="467.50" x2="534.40" y2="470.00" stroke="#3c3c3c" stroke-width="1.00" />
<text x="534.40" y="480.80" font-size="10.10" text-anchor="middle" font-weight="normal" >800</text>
<line x1="343.65" y1="467.50" x2="343.65" y2="469.00" stroke="#3c3c3c" stroke-width="1.00" />
<line x1="372.99" y1="467.50" x2="372.99" y2="469.00" stroke="#3c3c3c" stroke-width="1.00" />
<line x1="402.34" y1="467.50" x2="402.34" y2="469.00" stroke="#3c3c3c" stroke-width="1.00" />
<line x1="431.69" y1="467.50" x2="431.69" y2="469.00" stroke="#3c3c3c" stroke-width="1.00" />
<line x1="461.03" y1="467.50" x2="461.03" y2="469.00" stroke="#3c3c3c" stroke-width="1.00" />
<line x1="490.38" y1="467.50" x2="490.38" y2="469.00" stroke="#3c3c3c" stroke-width="1.00" />
<line x1="519.73" y1="467.50" x2="519.73" y2="469.00" stroke="#3c3c3c" stroke-width="1.00" />
<line x1="311.80" y1="349.17" x2="314.30" y2="349.17" stroke="#3c3c3c" stroke-width="1.00" />
<text x="309.40" y="352.47" font-size="10.10" text-anchor="end" font-weight="normal" >0.4</text>
<line x1="311.80" y1="377.00" x2="314.30" y2="377.00" stroke="#3c3c3c" stroke-width="1.00" />
<text x="309.40" y="380.30" font-size="10.10" text-anchor="end" font-weight="normal" >0</text>
<line x1="311.80" y1="404.83" x2="314.30" y2="404.83" stroke="#3c3c3c" stroke-width="1.00" />
<text x="309.40" y="408.13" font-size="10.10" text-anchor="end" font-weight="normal" >-0.4</text>
<line x1="311.80" y1="432.67" x2="314.30" y2="432.67" stroke="#3c3c3c" stroke-width="1.00" />
<text x="309.40" y="435.97" font-size="10.10" text-anchor="end" font-weight="normal" >-0.8</text>
<line x1="311.80" y1="460.50" x2="314.30" y2="460.50" stroke="#3c3c3c" stroke-width="1.00" />
<text x="309.40" y="463.80" font-size="10.10" text-anchor="end" font-weight="normal" >-1.2</text>
<line x1="312.80" y1="363.08" x2="314.30" y2="363.08" stroke="#3c3c3c" stroke-width="1.00" />
<line x1="312.80" y1="390.92" x2="314.30" y2="390.92" stroke="#3c3c3c" stroke-width="1.00" />
<line x1="312.80" y1="418.75" x2="314.30" y2="418.75" stroke="#3c3c3c" stroke-width="1.00" />
<line x1="312.80" y1="446.58" x2="314.30" y2="446.58" stroke="#3c3c3c" stroke-width="1.00" />
<text x="259.60" y="32.40" font-size="18.00" text-anchor="end" font-weight="bold" >(a)</text>
<text x="532.40" y="33.80" font-size="18.00" text-anchor="end" font-weight="bold" >(b)</text>
<text x="260.00" y="191.00" font-size="18.00" text-anchor="end" font-weight="bold" >(c)</text>
<text x="531.70" y="194.20" font-size="18.00" text-anchor="end" font-weight="bold" >(d)</text>
<text x="259.20" y="351.40" font-size="17.60" text-anchor="end" font-weight="normal" style="stroke:#111;stroke-width:0.7px">(e)</text>
<text x="532.40" y="354.60" font-size="18.00" text-anchor="end" font-weight="bold" >(f)</text>
</svg></body></html>
